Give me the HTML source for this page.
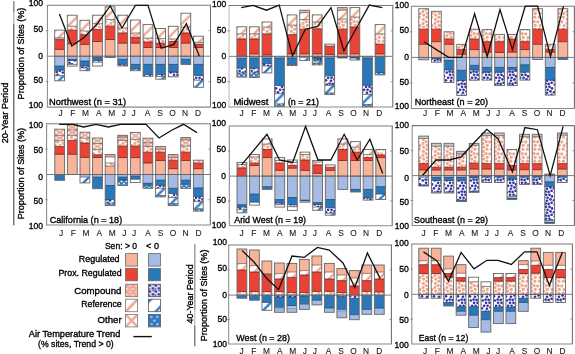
<!DOCTYPE html>
<html><head><meta charset="utf-8"><style>
html,body{margin:0;padding:0;background:#fff;}
svg{display:block;font-family:"Liberation Sans", sans-serif;will-change:transform;}
.t{fill:#000;stroke:#000;stroke-width:0.35px;}
.m{fill:#1a1a1a;stroke:#1a1a1a;stroke-width:0.1px;}
</style></head><body>
<svg width="575" height="354" viewBox="0 0 575 354">
<rect width="575" height="354" fill="#fff"/>

<defs>
 <pattern id="pC" patternUnits="userSpaceOnUse" width="12" height="12">
  <rect width="12" height="12" fill="#fff"/>
  <g fill="#eca691"><circle cx="6.86" cy="5.15" r="1.6"/><circle cx="9.76" cy="9.88" r="1.6"/><circle cx="3.00" cy="-0.57" r="1.6"/><circle cx="3.00" cy="11.43" r="1.6"/><circle cx="0.05" cy="1.61" r="1.6"/><circle cx="12.05" cy="1.61" r="1.6"/><circle cx="7.22" cy="1.35" r="1.6"/><circle cx="7.22" cy="13.35" r="1.6"/><circle cx="-0.63" cy="5.20" r="1.6"/><circle cx="11.37" cy="5.20" r="1.6"/><circle cx="3.30" cy="7.41" r="1.6"/><circle cx="3.67" cy="3.12" r="1.6"/><circle cx="6.17" cy="9.59" r="1.6"/></g>
 </pattern>
 <pattern id="pF" patternUnits="userSpaceOnUse" width="10" height="10">
  <rect width="10" height="10" fill="#fff"/>
  <path d="M-2,12 L12,-2 M-2,2 L2,-2 M8,12 L12,8" stroke="#efa893" stroke-width="2.8"/>
 </pattern>
 <pattern id="pO" patternUnits="userSpaceOnUse" width="10" height="10">
  <rect width="10" height="10" fill="#fff"/>
  <path d="M0,0 L10,10 M10,0 L0,10" stroke="#eea48e" stroke-width="2"/>
 </pattern>
 <pattern id="nC" patternUnits="userSpaceOnUse" width="12" height="12">
  <rect width="12" height="12" fill="#fff"/>
  <g fill="#3535a0"><circle cx="1.98" cy="8.28" r="1.35"/><circle cx="7.62" cy="5.75" r="1.35"/><circle cx="6.06" cy="2.83" r="1.35"/><circle cx="0.04" cy="4.45" r="1.35"/><circle cx="12.04" cy="4.45" r="1.35"/><circle cx="9.53" cy="2.79" r="1.35"/><circle cx="2.79" cy="0.51" r="1.35"/><circle cx="2.79" cy="12.51" r="1.35"/><circle cx="10.50" cy="7.39" r="1.35"/><circle cx="4.12" cy="5.82" r="1.35"/><circle cx="-0.37" cy="-1.27" r="1.35"/><circle cx="-0.37" cy="10.73" r="1.35"/><circle cx="11.63" cy="-1.27" r="1.35"/><circle cx="11.63" cy="10.73" r="1.35"/><circle cx="6.97" cy="8.76" r="1.35"/><circle cx="8.62" cy="-0.09" r="1.35"/><circle cx="8.62" cy="11.91" r="1.35"/><circle cx="5.64" cy="-0.48" r="1.35"/><circle cx="5.64" cy="11.52" r="1.35"/></g>
 </pattern>
 <pattern id="nF" patternUnits="userSpaceOnUse" width="10" height="10">
  <rect width="10" height="10" fill="#fff"/>
  <path d="M-2,12 L12,-2 M-2,2 L2,-2 M8,12 L12,8" stroke="#2f7cc0" stroke-width="2.8"/>
 </pattern>
 <pattern id="nO" patternUnits="userSpaceOnUse" width="5" height="4.5">
  <rect width="5" height="4.5" fill="#2f7cc0"/>
  <ellipse cx="1.5" cy="1.2" rx="1.3" ry="0.8" fill="#fff"/>
  <ellipse cx="4" cy="3.4" rx="1.3" ry="0.8" fill="#fff"/>
 </pattern>
 <pattern id="lC" patternUnits="userSpaceOnUse" x="125.6" y="284.2" width="6" height="6">
  <rect width="6" height="6" fill="#eea58f"/>
  <g fill="#fff"><circle cx="1.5" cy="4.6" r="0.9"/><circle cx="4.5" cy="1.8" r="0.9"/><circle cx="5.2" cy="5" r="0.6"/></g>
 </pattern>
 <pattern id="lN" patternUnits="userSpaceOnUse" x="148.4" y="284.2" width="6" height="6">
  <rect width="6" height="6" fill="#fff"/>
  <g fill="#34349e"><circle cx="1.5" cy="1.5" r="1.45"/><circle cx="4.5" cy="4.3" r="1.45"/><circle cx="4.8" cy="0.6" r="0.9"/><circle cx="1.2" cy="5" r="0.9"/></g>
 </pattern>
<pattern id="sp0" patternUnits="userSpaceOnUse" x="55.20" y="30.10" width="11.0" height="11.0"><rect width="11.0" height="11.0" fill="#fff"/><path d="M-2,13.0 L13.0,-2 M-2,2 L2,-2 M9.0,13.0 L13.0,9.0" stroke="#efa893" stroke-width="2.3"/></pattern>
<pattern id="sp1" patternUnits="userSpaceOnUse" x="52.70" y="75.70" width="11.0" height="11.0"><rect width="11.0" height="11.0" fill="#fff"/><path d="M-2,13.0 L13.0,-2 M-2,2 L2,-2 M9.0,13.0 L13.0,9.0" stroke="#2f7cc0" stroke-width="2.3"/></pattern>
<pattern id="sp2" patternUnits="userSpaceOnUse" x="67.83" y="15.20" width="11.0" height="11.0"><rect width="11.0" height="11.0" fill="#fff"/><path d="M-2,13.0 L13.0,-2 M-2,2 L2,-2 M9.0,13.0 L13.0,9.0" stroke="#efa893" stroke-width="2.3"/></pattern>
<pattern id="sp3" patternUnits="userSpaceOnUse" x="80.45" y="20.30" width="11.0" height="11.0"><rect width="11.0" height="11.0" fill="#fff"/><path d="M-2,13.0 L13.0,-2 M-2,2 L2,-2 M9.0,13.0 L13.0,9.0" stroke="#efa893" stroke-width="2.3"/></pattern>
<pattern id="sp4" patternUnits="userSpaceOnUse" x="77.95" y="68.00" width="11.0" height="11.0"><rect width="11.0" height="11.0" fill="#fff"/><path d="M-2,13.0 L13.0,-2 M-2,2 L2,-2 M9.0,13.0 L13.0,9.0" stroke="#2f7cc0" stroke-width="2.3"/></pattern>
<pattern id="sp5" patternUnits="userSpaceOnUse" x="93.08" y="15.20" width="11.0" height="11.0"><rect width="11.0" height="11.0" fill="#fff"/><path d="M-2,13.0 L13.0,-2 M-2,2 L2,-2 M9.0,13.0 L13.0,9.0" stroke="#efa893" stroke-width="2.3"/></pattern>
<pattern id="sp6" patternUnits="userSpaceOnUse" x="105.70" y="6.80" width="11.0" height="11.0"><rect width="11.0" height="11.0" fill="#fff"/><path d="M-2,13.0 L13.0,-2 M-2,2 L2,-2 M9.0,13.0 L13.0,9.0" stroke="#efa893" stroke-width="2.3"/></pattern>
<pattern id="sp7" patternUnits="userSpaceOnUse" x="118.32" y="15.20" width="11.0" height="11.0"><rect width="11.0" height="11.0" fill="#fff"/><path d="M-2,13.0 L13.0,-2 M-2,2 L2,-2 M9.0,13.0 L13.0,9.0" stroke="#efa893" stroke-width="2.3"/></pattern>
<pattern id="xo8" patternUnits="userSpaceOnUse" x="130.45" y="33.00" width="9.80" height="4.60"><rect width="9.80" height="4.60" fill="#fff"/><path d="M0,0 L9.80,4.60 M9.80,0 L0,4.60" stroke="#eca690" stroke-width="1.8"/></pattern>
<pattern id="sp9" patternUnits="userSpaceOnUse" x="130.95" y="20.00" width="11.0" height="11.0"><rect width="11.0" height="11.0" fill="#fff"/><path d="M-2,13.0 L13.0,-2 M-2,2 L2,-2 M9.0,13.0 L13.0,9.0" stroke="#efa893" stroke-width="2.3"/></pattern>
<pattern id="sp10" patternUnits="userSpaceOnUse" x="143.58" y="24.60" width="11.0" height="11.0"><rect width="11.0" height="11.0" fill="#fff"/><path d="M-2,13.0 L13.0,-2 M-2,2 L2,-2 M9.0,13.0 L13.0,9.0" stroke="#efa893" stroke-width="2.3"/></pattern>
<pattern id="sp11" patternUnits="userSpaceOnUse" x="156.20" y="28.50" width="11.0" height="11.0"><rect width="11.0" height="11.0" fill="#fff"/><path d="M-2,13.0 L13.0,-2 M-2,2 L2,-2 M9.0,13.0 L13.0,9.0" stroke="#efa893" stroke-width="2.3"/></pattern>
<pattern id="sp12" patternUnits="userSpaceOnUse" x="153.70" y="76.50" width="11.0" height="11.0"><rect width="11.0" height="11.0" fill="#fff"/><path d="M-2,13.0 L13.0,-2 M-2,2 L2,-2 M9.0,13.0 L13.0,9.0" stroke="#2f7cc0" stroke-width="2.3"/></pattern>
<pattern id="sp13" patternUnits="userSpaceOnUse" x="168.83" y="26.30" width="11.0" height="11.0"><rect width="11.0" height="11.0" fill="#fff"/><path d="M-2,13.0 L13.0,-2 M-2,2 L2,-2 M9.0,13.0 L13.0,9.0" stroke="#efa893" stroke-width="2.3"/></pattern>
<pattern id="sp14" patternUnits="userSpaceOnUse" x="181.45" y="13.20" width="11.0" height="11.0"><rect width="11.0" height="11.0" fill="#fff"/><path d="M-2,13.0 L13.0,-2 M-2,2 L2,-2 M9.0,13.0 L13.0,9.0" stroke="#efa893" stroke-width="2.3"/></pattern>
<pattern id="sp15" patternUnits="userSpaceOnUse" x="194.08" y="36.20" width="11.0" height="11.0"><rect width="11.0" height="11.0" fill="#fff"/><path d="M-2,13.0 L13.0,-2 M-2,2 L2,-2 M9.0,13.0 L13.0,9.0" stroke="#efa893" stroke-width="2.3"/></pattern>
<pattern id="sp16" patternUnits="userSpaceOnUse" x="191.58" y="80.20" width="11.0" height="11.0"><rect width="11.0" height="11.0" fill="#fff"/><path d="M-2,13.0 L13.0,-2 M-2,2 L2,-2 M9.0,13.0 L13.0,9.0" stroke="#2f7cc0" stroke-width="2.3"/></pattern>
<pattern id="sp17" patternUnits="userSpaceOnUse" x="237.40" y="26.80" width="11.0" height="11.0"><rect width="11.0" height="11.0" fill="#fff"/><path d="M-2,13.0 L13.0,-2 M-2,2 L2,-2 M9.0,13.0 L13.0,9.0" stroke="#efa893" stroke-width="2.3"/></pattern>
<pattern id="sp18" patternUnits="userSpaceOnUse" x="249.97" y="26.80" width="11.0" height="11.0"><rect width="11.0" height="11.0" fill="#fff"/><path d="M-2,13.0 L13.0,-2 M-2,2 L2,-2 M9.0,13.0 L13.0,9.0" stroke="#efa893" stroke-width="2.3"/></pattern>
<pattern id="sp19" patternUnits="userSpaceOnUse" x="262.53" y="22.00" width="11.0" height="11.0"><rect width="11.0" height="11.0" fill="#fff"/><path d="M-2,13.0 L13.0,-2 M-2,2 L2,-2 M9.0,13.0 L13.0,9.0" stroke="#efa893" stroke-width="2.3"/></pattern>
<pattern id="sp20" patternUnits="userSpaceOnUse" x="260.03" y="66.10" width="11.0" height="11.0"><rect width="11.0" height="11.0" fill="#fff"/><path d="M-2,13.0 L13.0,-2 M-2,2 L2,-2 M9.0,13.0 L13.0,9.0" stroke="#2f7cc0" stroke-width="2.3"/></pattern>
<pattern id="sp21" patternUnits="userSpaceOnUse" x="272.59" y="93.70" width="11.0" height="11.0"><rect width="11.0" height="11.0" fill="#fff"/><path d="M-2,13.0 L13.0,-2 M-2,2 L2,-2 M9.0,13.0 L13.0,9.0" stroke="#2f7cc0" stroke-width="2.3"/></pattern>
<pattern id="sp22" patternUnits="userSpaceOnUse" x="287.66" y="14.90" width="11.0" height="11.0"><rect width="11.0" height="11.0" fill="#fff"/><path d="M-2,13.0 L13.0,-2 M-2,2 L2,-2 M9.0,13.0 L13.0,9.0" stroke="#efa893" stroke-width="2.3"/></pattern>
<pattern id="sp23" patternUnits="userSpaceOnUse" x="300.22" y="12.70" width="11.0" height="11.0"><rect width="11.0" height="11.0" fill="#fff"/><path d="M-2,13.0 L13.0,-2 M-2,2 L2,-2 M9.0,13.0 L13.0,9.0" stroke="#efa893" stroke-width="2.3"/></pattern>
<pattern id="xo24" patternUnits="userSpaceOnUse" x="299.72" y="10.20" width="9.80" height="2.50"><rect width="9.80" height="2.50" fill="#fff"/><path d="M0,0 L9.80,2.50 M9.80,0 L0,2.50" stroke="#eca690" stroke-width="1.8"/></pattern>
<pattern id="sp25" patternUnits="userSpaceOnUse" x="297.72" y="57.50" width="11.0" height="11.0"><rect width="11.0" height="11.0" fill="#fff"/><path d="M-2,13.0 L13.0,-2 M-2,2 L2,-2 M9.0,13.0 L13.0,9.0" stroke="#2f7cc0" stroke-width="2.3"/></pattern>
<pattern id="sp26" patternUnits="userSpaceOnUse" x="312.79" y="14.90" width="11.0" height="11.0"><rect width="11.0" height="11.0" fill="#fff"/><path d="M-2,13.0 L13.0,-2 M-2,2 L2,-2 M9.0,13.0 L13.0,9.0" stroke="#efa893" stroke-width="2.3"/></pattern>
<pattern id="sp27" patternUnits="userSpaceOnUse" x="310.29" y="61.10" width="11.0" height="11.0"><rect width="11.0" height="11.0" fill="#fff"/><path d="M-2,13.0 L13.0,-2 M-2,2 L2,-2 M9.0,13.0 L13.0,9.0" stroke="#2f7cc0" stroke-width="2.3"/></pattern>
<pattern id="sp28" patternUnits="userSpaceOnUse" x="325.35" y="44.10" width="11.0" height="11.0"><rect width="11.0" height="11.0" fill="#fff"/><path d="M-2,13.0 L13.0,-2 M-2,2 L2,-2 M9.0,13.0 L13.0,9.0" stroke="#efa893" stroke-width="2.3"/></pattern>
<pattern id="sp29" patternUnits="userSpaceOnUse" x="322.85" y="85.40" width="11.0" height="11.0"><rect width="11.0" height="11.0" fill="#fff"/><path d="M-2,13.0 L13.0,-2 M-2,2 L2,-2 M9.0,13.0 L13.0,9.0" stroke="#2f7cc0" stroke-width="2.3"/></pattern>
<pattern id="sp30" patternUnits="userSpaceOnUse" x="337.92" y="10.20" width="11.0" height="11.0"><rect width="11.0" height="11.0" fill="#fff"/><path d="M-2,13.0 L13.0,-2 M-2,2 L2,-2 M9.0,13.0 L13.0,9.0" stroke="#efa893" stroke-width="2.3"/></pattern>
<pattern id="xo31" patternUnits="userSpaceOnUse" x="337.42" y="7.60" width="9.80" height="2.60"><rect width="9.80" height="2.60" fill="#fff"/><path d="M0,0 L9.80,2.60 M9.80,0 L0,2.60" stroke="#eca690" stroke-width="1.8"/></pattern>
<pattern id="sp32" patternUnits="userSpaceOnUse" x="350.48" y="7.60" width="11.0" height="11.0"><rect width="11.0" height="11.0" fill="#fff"/><path d="M-2,13.0 L13.0,-2 M-2,2 L2,-2 M9.0,13.0 L13.0,9.0" stroke="#efa893" stroke-width="2.3"/></pattern>
<pattern id="sp33" patternUnits="userSpaceOnUse" x="347.98" y="58.00" width="11.0" height="11.0"><rect width="11.0" height="11.0" fill="#fff"/><path d="M-2,13.0 L13.0,-2 M-2,2 L2,-2 M9.0,13.0 L13.0,9.0" stroke="#2f7cc0" stroke-width="2.3"/></pattern>
<pattern id="sp34" patternUnits="userSpaceOnUse" x="360.55" y="94.40" width="11.0" height="11.0"><rect width="11.0" height="11.0" fill="#fff"/><path d="M-2,13.0 L13.0,-2 M-2,2 L2,-2 M9.0,13.0 L13.0,9.0" stroke="#2f7cc0" stroke-width="2.3"/></pattern>
<pattern id="sp35" patternUnits="userSpaceOnUse" x="375.62" y="24.60" width="11.0" height="11.0"><rect width="11.0" height="11.0" fill="#fff"/><path d="M-2,13.0 L13.0,-2 M-2,2 L2,-2 M9.0,13.0 L13.0,9.0" stroke="#efa893" stroke-width="2.3"/></pattern>
<pattern id="xo36" patternUnits="userSpaceOnUse" x="54.80" y="135.40" width="9.80" height="5.40"><rect width="9.80" height="5.40" fill="#fff"/><path d="M0,0 L9.80,5.40 M9.80,0 L0,5.40" stroke="#eca690" stroke-width="1.8"/></pattern>
<pattern id="xo37" patternUnits="userSpaceOnUse" x="54.80" y="129.20" width="9.80" height="6.20"><rect width="9.80" height="6.20" fill="#fff"/><path d="M0,0 L9.80,6.20 M9.80,0 L0,6.20" stroke="#eca690" stroke-width="1.8"/></pattern>
<pattern id="xo38" patternUnits="userSpaceOnUse" x="67.40" y="130.00" width="9.80" height="5.40"><rect width="9.80" height="5.40" fill="#fff"/><path d="M0,0 L9.80,5.40 M9.80,0 L0,5.40" stroke="#eca690" stroke-width="1.8"/></pattern>
<pattern id="xo39" patternUnits="userSpaceOnUse" x="67.40" y="124.80" width="9.80" height="5.20"><rect width="9.80" height="5.20" fill="#fff"/><path d="M0,0 L9.80,5.20 M9.80,0 L0,5.20" stroke="#eca690" stroke-width="1.8"/></pattern>
<pattern id="xo40" patternUnits="userSpaceOnUse" x="80.00" y="132.20" width="9.80" height="5.90"><rect width="9.80" height="5.90" fill="#fff"/><path d="M0,0 L9.80,5.90 M9.80,0 L0,5.90" stroke="#eca690" stroke-width="1.8"/></pattern>
<pattern id="sp41" patternUnits="userSpaceOnUse" x="78.00" y="177.10" width="11.0" height="11.0"><rect width="11.0" height="11.0" fill="#fff"/><path d="M-2,13.0 L13.0,-2 M-2,2 L2,-2 M9.0,13.0 L13.0,9.0" stroke="#2f7cc0" stroke-width="2.3"/></pattern>
<pattern id="xo42" patternUnits="userSpaceOnUse" x="92.60" y="143.50" width="9.80" height="5.90"><rect width="9.80" height="5.90" fill="#fff"/><path d="M0,0 L9.80,5.90 M9.80,0 L0,5.90" stroke="#eca690" stroke-width="1.8"/></pattern>
<pattern id="xo43" patternUnits="userSpaceOnUse" x="92.60" y="138.00" width="9.80" height="5.50"><rect width="9.80" height="5.50" fill="#fff"/><path d="M0,0 L9.80,5.50 M9.80,0 L0,5.50" stroke="#eca690" stroke-width="1.8"/></pattern>
<pattern id="xo44" patternUnits="userSpaceOnUse" x="105.20" y="154.60" width="9.80" height="2.40"><rect width="9.80" height="2.40" fill="#fff"/><path d="M0,0 L9.80,2.40 M9.80,0 L0,2.40" stroke="#eca690" stroke-width="1.8"/></pattern>
<pattern id="xo45" patternUnits="userSpaceOnUse" x="117.80" y="137.00" width="9.80" height="3.40"><rect width="9.80" height="3.40" fill="#fff"/><path d="M0,0 L9.80,3.40 M9.80,0 L0,3.40" stroke="#eca690" stroke-width="1.8"/></pattern>
<pattern id="xo46" patternUnits="userSpaceOnUse" x="117.80" y="135.30" width="9.80" height="1.70"><rect width="9.80" height="1.70" fill="#fff"/><path d="M0,0 L9.80,1.70 M9.80,0 L0,1.70" stroke="#eca690" stroke-width="1.8"/></pattern>
<pattern id="xo47" patternUnits="userSpaceOnUse" x="130.40" y="132.40" width="9.80" height="6.90"><rect width="9.80" height="6.90" fill="#fff"/><path d="M0,0 L9.80,6.90 M9.80,0 L0,6.90" stroke="#eca690" stroke-width="1.8"/></pattern>
<pattern id="xo48" patternUnits="userSpaceOnUse" x="143.00" y="142.70" width="9.80" height="3.70"><rect width="9.80" height="3.70" fill="#fff"/><path d="M0,0 L9.80,3.70 M9.80,0 L0,3.70" stroke="#eca690" stroke-width="1.8"/></pattern>
<pattern id="xo49" patternUnits="userSpaceOnUse" x="143.00" y="138.20" width="9.80" height="4.50"><rect width="9.80" height="4.50" fill="#fff"/><path d="M0,0 L9.80,4.50 M9.80,0 L0,4.50" stroke="#eca690" stroke-width="1.8"/></pattern>
<pattern id="xo50" patternUnits="userSpaceOnUse" x="155.60" y="146.50" width="9.80" height="2.70"><rect width="9.80" height="2.70" fill="#fff"/><path d="M0,0 L9.80,2.70 M9.80,0 L0,2.70" stroke="#eca690" stroke-width="1.8"/></pattern>
<pattern id="sp51" patternUnits="userSpaceOnUse" x="153.60" y="188.30" width="11.0" height="11.0"><rect width="11.0" height="11.0" fill="#fff"/><path d="M-2,13.0 L13.0,-2 M-2,2 L2,-2 M9.0,13.0 L13.0,9.0" stroke="#2f7cc0" stroke-width="2.3"/></pattern>
<pattern id="xo52" patternUnits="userSpaceOnUse" x="168.20" y="154.60" width="9.80" height="2.80"><rect width="9.80" height="2.80" fill="#fff"/><path d="M0,0 L9.80,2.80 M9.80,0 L0,2.80" stroke="#eca690" stroke-width="1.8"/></pattern>
<pattern id="sp53" patternUnits="userSpaceOnUse" x="166.20" y="197.50" width="11.0" height="11.0"><rect width="11.0" height="11.0" fill="#fff"/><path d="M-2,13.0 L13.0,-2 M-2,2 L2,-2 M9.0,13.0 L13.0,9.0" stroke="#2f7cc0" stroke-width="2.3"/></pattern>
<pattern id="xo54" patternUnits="userSpaceOnUse" x="180.80" y="139.90" width="9.80" height="6.20"><rect width="9.80" height="6.20" fill="#fff"/><path d="M0,0 L9.80,6.20 M9.80,0 L0,6.20" stroke="#eca690" stroke-width="1.8"/></pattern>
<pattern id="xo55" patternUnits="userSpaceOnUse" x="180.80" y="137.60" width="9.80" height="2.30"><rect width="9.80" height="2.30" fill="#fff"/><path d="M0,0 L9.80,2.30 M9.80,0 L0,2.30" stroke="#eca690" stroke-width="1.8"/></pattern>
<pattern id="sp56" patternUnits="userSpaceOnUse" x="191.40" y="201.60" width="11.0" height="11.0"><rect width="11.0" height="11.0" fill="#fff"/><path d="M-2,13.0 L13.0,-2 M-2,2 L2,-2 M9.0,13.0 L13.0,9.0" stroke="#2f7cc0" stroke-width="2.3"/></pattern>
<pattern id="sp57" patternUnits="userSpaceOnUse" x="237.50" y="162.40" width="11.0" height="11.0"><rect width="11.0" height="11.0" fill="#fff"/><path d="M-2,13.0 L13.0,-2 M-2,2 L2,-2 M9.0,13.0 L13.0,9.0" stroke="#efa893" stroke-width="2.3"/></pattern>
<pattern id="sp58" patternUnits="userSpaceOnUse" x="235.00" y="209.70" width="11.0" height="11.0"><rect width="11.0" height="11.0" fill="#fff"/><path d="M-2,13.0 L13.0,-2 M-2,2 L2,-2 M9.0,13.0 L13.0,9.0" stroke="#2f7cc0" stroke-width="2.3"/></pattern>
<pattern id="sp59" patternUnits="userSpaceOnUse" x="250.12" y="154.50" width="11.0" height="11.0"><rect width="11.0" height="11.0" fill="#fff"/><path d="M-2,13.0 L13.0,-2 M-2,2 L2,-2 M9.0,13.0 L13.0,9.0" stroke="#efa893" stroke-width="2.3"/></pattern>
<pattern id="sp60" patternUnits="userSpaceOnUse" x="262.74" y="138.90" width="11.0" height="11.0"><rect width="11.0" height="11.0" fill="#fff"/><path d="M-2,13.0 L13.0,-2 M-2,2 L2,-2 M9.0,13.0 L13.0,9.0" stroke="#efa893" stroke-width="2.3"/></pattern>
<pattern id="sp61" patternUnits="userSpaceOnUse" x="275.36" y="157.60" width="11.0" height="11.0"><rect width="11.0" height="11.0" fill="#fff"/><path d="M-2,13.0 L13.0,-2 M-2,2 L2,-2 M9.0,13.0 L13.0,9.0" stroke="#efa893" stroke-width="2.3"/></pattern>
<pattern id="sp62" patternUnits="userSpaceOnUse" x="287.98" y="160.00" width="11.0" height="11.0"><rect width="11.0" height="11.0" fill="#fff"/><path d="M-2,13.0 L13.0,-2 M-2,2 L2,-2 M9.0,13.0 L13.0,9.0" stroke="#efa893" stroke-width="2.3"/></pattern>
<pattern id="sp63" patternUnits="userSpaceOnUse" x="300.60" y="152.10" width="11.0" height="11.0"><rect width="11.0" height="11.0" fill="#fff"/><path d="M-2,13.0 L13.0,-2 M-2,2 L2,-2 M9.0,13.0 L13.0,9.0" stroke="#efa893" stroke-width="2.3"/></pattern>
<pattern id="sp64" patternUnits="userSpaceOnUse" x="313.22" y="160.50" width="11.0" height="11.0"><rect width="11.0" height="11.0" fill="#fff"/><path d="M-2,13.0 L13.0,-2 M-2,2 L2,-2 M9.0,13.0 L13.0,9.0" stroke="#efa893" stroke-width="2.3"/></pattern>
<pattern id="sp65" patternUnits="userSpaceOnUse" x="310.72" y="207.00" width="11.0" height="11.0"><rect width="11.0" height="11.0" fill="#fff"/><path d="M-2,13.0 L13.0,-2 M-2,2 L2,-2 M9.0,13.0 L13.0,9.0" stroke="#2f7cc0" stroke-width="2.3"/></pattern>
<pattern id="sp66" patternUnits="userSpaceOnUse" x="325.84" y="164.90" width="11.0" height="11.0"><rect width="11.0" height="11.0" fill="#fff"/><path d="M-2,13.0 L13.0,-2 M-2,2 L2,-2 M9.0,13.0 L13.0,9.0" stroke="#efa893" stroke-width="2.3"/></pattern>
<pattern id="sp67" patternUnits="userSpaceOnUse" x="323.34" y="213.20" width="11.0" height="11.0"><rect width="11.0" height="11.0" fill="#fff"/><path d="M-2,13.0 L13.0,-2 M-2,2 L2,-2 M9.0,13.0 L13.0,9.0" stroke="#2f7cc0" stroke-width="2.3"/></pattern>
<pattern id="sp68" patternUnits="userSpaceOnUse" x="338.46" y="138.90" width="11.0" height="11.0"><rect width="11.0" height="11.0" fill="#fff"/><path d="M-2,13.0 L13.0,-2 M-2,2 L2,-2 M9.0,13.0 L13.0,9.0" stroke="#efa893" stroke-width="2.3"/></pattern>
<pattern id="sp69" patternUnits="userSpaceOnUse" x="351.08" y="141.60" width="11.0" height="11.0"><rect width="11.0" height="11.0" fill="#fff"/><path d="M-2,13.0 L13.0,-2 M-2,2 L2,-2 M9.0,13.0 L13.0,9.0" stroke="#efa893" stroke-width="2.3"/></pattern>
<pattern id="sp70" patternUnits="userSpaceOnUse" x="363.70" y="149.50" width="11.0" height="11.0"><rect width="11.0" height="11.0" fill="#fff"/><path d="M-2,13.0 L13.0,-2 M-2,2 L2,-2 M9.0,13.0 L13.0,9.0" stroke="#efa893" stroke-width="2.3"/></pattern>
<pattern id="sp71" patternUnits="userSpaceOnUse" x="373.82" y="194.00" width="11.0" height="11.0"><rect width="11.0" height="11.0" fill="#fff"/><path d="M-2,13.0 L13.0,-2 M-2,2 L2,-2 M9.0,13.0 L13.0,9.0" stroke="#2f7cc0" stroke-width="2.3"/></pattern>
<pattern id="sp72" patternUnits="userSpaceOnUse" x="237.50" y="263.60" width="11.0" height="11.0"><rect width="11.0" height="11.0" fill="#fff"/><path d="M-2,13.0 L13.0,-2 M-2,2 L2,-2 M9.0,13.0 L13.0,9.0" stroke="#efa893" stroke-width="2.3"/></pattern>
<pattern id="sp73" patternUnits="userSpaceOnUse" x="249.99" y="265.60" width="11.0" height="11.0"><rect width="11.0" height="11.0" fill="#fff"/><path d="M-2,13.0 L13.0,-2 M-2,2 L2,-2 M9.0,13.0 L13.0,9.0" stroke="#efa893" stroke-width="2.3"/></pattern>
<pattern id="sp74" patternUnits="userSpaceOnUse" x="262.48" y="273.60" width="11.0" height="11.0"><rect width="11.0" height="11.0" fill="#fff"/><path d="M-2,13.0 L13.0,-2 M-2,2 L2,-2 M9.0,13.0 L13.0,9.0" stroke="#efa893" stroke-width="2.3"/></pattern>
<pattern id="sp75" patternUnits="userSpaceOnUse" x="259.98" y="302.50" width="11.0" height="11.0"><rect width="11.0" height="11.0" fill="#fff"/><path d="M-2,13.0 L13.0,-2 M-2,2 L2,-2 M9.0,13.0 L13.0,9.0" stroke="#2f7cc0" stroke-width="2.3"/></pattern>
<pattern id="sp76" patternUnits="userSpaceOnUse" x="274.97" y="273.60" width="11.0" height="11.0"><rect width="11.0" height="11.0" fill="#fff"/><path d="M-2,13.0 L13.0,-2 M-2,2 L2,-2 M9.0,13.0 L13.0,9.0" stroke="#efa893" stroke-width="2.3"/></pattern>
<pattern id="sp77" patternUnits="userSpaceOnUse" x="287.46" y="272.00" width="11.0" height="11.0"><rect width="11.0" height="11.0" fill="#fff"/><path d="M-2,13.0 L13.0,-2 M-2,2 L2,-2 M9.0,13.0 L13.0,9.0" stroke="#efa893" stroke-width="2.3"/></pattern>
<pattern id="sp78" patternUnits="userSpaceOnUse" x="299.95" y="270.60" width="11.0" height="11.0"><rect width="11.0" height="11.0" fill="#fff"/><path d="M-2,13.0 L13.0,-2 M-2,2 L2,-2 M9.0,13.0 L13.0,9.0" stroke="#efa893" stroke-width="2.3"/></pattern>
<pattern id="sp79" patternUnits="userSpaceOnUse" x="312.44" y="265.00" width="11.0" height="11.0"><rect width="11.0" height="11.0" fill="#fff"/><path d="M-2,13.0 L13.0,-2 M-2,2 L2,-2 M9.0,13.0 L13.0,9.0" stroke="#efa893" stroke-width="2.3"/></pattern>
<pattern id="sp80" patternUnits="userSpaceOnUse" x="324.93" y="272.00" width="11.0" height="11.0"><rect width="11.0" height="11.0" fill="#fff"/><path d="M-2,13.0 L13.0,-2 M-2,2 L2,-2 M9.0,13.0 L13.0,9.0" stroke="#efa893" stroke-width="2.3"/></pattern>
<pattern id="sp81" patternUnits="userSpaceOnUse" x="337.42" y="275.00" width="11.0" height="11.0"><rect width="11.0" height="11.0" fill="#fff"/><path d="M-2,13.0 L13.0,-2 M-2,2 L2,-2 M9.0,13.0 L13.0,9.0" stroke="#efa893" stroke-width="2.3"/></pattern>
<pattern id="sp82" patternUnits="userSpaceOnUse" x="349.91" y="278.00" width="11.0" height="11.0"><rect width="11.0" height="11.0" fill="#fff"/><path d="M-2,13.0 L13.0,-2 M-2,2 L2,-2 M9.0,13.0 L13.0,9.0" stroke="#efa893" stroke-width="2.3"/></pattern>
<pattern id="sp83" patternUnits="userSpaceOnUse" x="362.40" y="273.40" width="11.0" height="11.0"><rect width="11.0" height="11.0" fill="#fff"/><path d="M-2,13.0 L13.0,-2 M-2,2 L2,-2 M9.0,13.0 L13.0,9.0" stroke="#efa893" stroke-width="2.3"/></pattern>
<pattern id="sp84" patternUnits="userSpaceOnUse" x="374.89" y="272.00" width="11.0" height="11.0"><rect width="11.0" height="11.0" fill="#fff"/><path d="M-2,13.0 L13.0,-2 M-2,2 L2,-2 M9.0,13.0 L13.0,9.0" stroke="#efa893" stroke-width="2.3"/></pattern>
<pattern id="sp85" patternUnits="userSpaceOnUse" x="419.30" y="260.70" width="11.0" height="11.0"><rect width="11.0" height="11.0" fill="#fff"/><path d="M-2,13.0 L13.0,-2 M-2,2 L2,-2 M9.0,13.0 L13.0,9.0" stroke="#efa893" stroke-width="2.3"/></pattern>
<pattern id="sp86" patternUnits="userSpaceOnUse" x="431.75" y="260.70" width="11.0" height="11.0"><rect width="11.0" height="11.0" fill="#fff"/><path d="M-2,13.0 L13.0,-2 M-2,2 L2,-2 M9.0,13.0 L13.0,9.0" stroke="#efa893" stroke-width="2.3"/></pattern>
<pattern id="sp87" patternUnits="userSpaceOnUse" x="444.20" y="268.90" width="11.0" height="11.0"><rect width="11.0" height="11.0" fill="#fff"/><path d="M-2,13.0 L13.0,-2 M-2,2 L2,-2 M9.0,13.0 L13.0,9.0" stroke="#efa893" stroke-width="2.3"/></pattern>
<pattern id="sp88" patternUnits="userSpaceOnUse" x="494.00" y="273.50" width="11.0" height="11.0"><rect width="11.0" height="11.0" fill="#fff"/><path d="M-2,13.0 L13.0,-2 M-2,2 L2,-2 M9.0,13.0 L13.0,9.0" stroke="#efa893" stroke-width="2.3"/></pattern>
<pattern id="sp89" patternUnits="userSpaceOnUse" x="506.45" y="273.50" width="11.0" height="11.0"><rect width="11.0" height="11.0" fill="#fff"/><path d="M-2,13.0 L13.0,-2 M-2,2 L2,-2 M9.0,13.0 L13.0,9.0" stroke="#efa893" stroke-width="2.3"/></pattern>
<pattern id="sp90" patternUnits="userSpaceOnUse" x="531.35" y="261.00" width="11.0" height="11.0"><rect width="11.0" height="11.0" fill="#fff"/><path d="M-2,13.0 L13.0,-2 M-2,2 L2,-2 M9.0,13.0 L13.0,9.0" stroke="#efa893" stroke-width="2.3"/></pattern>
</defs>

<line x1="47.4" y1="5.3" x2="47.4" y2="107.1" stroke="#8a8a8a" stroke-width="1.05"/>
<line x1="210.5" y1="5.3" x2="210.5" y2="107.1" stroke="#6a6a6a" stroke-width="1.05"/>
<line x1="46.9" y1="5.3" x2="211" y2="5.3" stroke="#7a7a7a" stroke-width="1.05"/>
<line x1="46.9" y1="107.1" x2="211" y2="107.1" stroke="#8a8a8a" stroke-width="1.05"/>
<line x1="47.4" y1="56.2" x2="210.5" y2="56.2" stroke="#7d7d7d" stroke-width="1"/>
<line x1="45.9" y1="30.75" x2="48.4" y2="30.75" stroke="#7d7d7d" stroke-width="0.8"/>
<line x1="208.5" y1="30.75" x2="210.5" y2="30.75" stroke="#7d7d7d" stroke-width="0.8"/>
<line x1="45.9" y1="81.65" x2="48.4" y2="81.65" stroke="#7d7d7d" stroke-width="0.8"/>
<line x1="208.5" y1="81.65" x2="210.5" y2="81.65" stroke="#7d7d7d" stroke-width="0.8"/>
<rect x="54.7" y="49.4" width="9.8" height="6.8" fill="#f8b39b"/>
<rect x="54.7" y="39.6" width="9.8" height="9.8" fill="#eb4236"/>
<rect x="54.7" y="37.8" width="9.8" height="1.8" fill="#c9c9c9"/>
<rect x="54.7" y="30.1" width="9.8" height="7.7" fill="url(#sp0)"/>
<rect x="54.7" y="56.2" width="9.8" height="9.9" fill="#a6bbe3"/>
<rect x="54.7" y="66.1" width="9.8" height="4.2" fill="#2a78ba"/>
<rect x="54.7" y="70.3" width="9.8" height="5.4" fill="url(#nC)"/>
<rect x="54.7" y="75.7" width="9.8" height="5.1" fill="url(#sp1)"/>
<line x1="54.7" y1="49.4" x2="64.5" y2="49.4" stroke="#6a1a14" stroke-width="0.75"/>
<line x1="54.7" y1="39.6" x2="64.5" y2="39.6" stroke="#6a1a14" stroke-width="0.75"/>
<line x1="54.7" y1="37.8" x2="64.5" y2="37.8" stroke="#606060" stroke-width="0.75"/>
<line x1="54.7" y1="66.1" x2="64.5" y2="66.1" stroke="#1d3f66" stroke-width="0.75"/>
<line x1="54.7" y1="70.3" x2="64.5" y2="70.3" stroke="#1d3f66" stroke-width="0.75"/>
<line x1="54.7" y1="75.7" x2="64.5" y2="75.7" stroke="#555" stroke-width="0.75"/>
<rect x="54.7" y="30.1" width="9.8" height="26.1" fill="none" stroke="#666" stroke-width="0.9"/>
<rect x="54.7" y="56.2" width="9.8" height="24.6" fill="none" stroke="#666" stroke-width="0.9"/>
<rect x="67.33" y="43.7" width="9.8" height="12.5" fill="#f8b39b"/>
<rect x="67.33" y="30.1" width="9.8" height="13.6" fill="#eb4236"/>
<rect x="67.33" y="26.2" width="9.8" height="3.9" fill="url(#pC)"/>
<rect x="67.33" y="15.2" width="9.8" height="11" fill="url(#sp2)"/>
<rect x="67.33" y="56.2" width="9.8" height="3.1" fill="#a6bbe3"/>
<rect x="67.33" y="59.3" width="9.8" height="1.2" fill="#2a78ba"/>
<rect x="67.33" y="60.5" width="9.8" height="3.9" fill="url(#nC)"/>
<rect x="67.33" y="64.4" width="9.8" height="1.7" fill="#ffffff"/>
<line x1="67.33" y1="43.7" x2="77.12" y2="43.7" stroke="#6a1a14" stroke-width="0.75"/>
<line x1="67.33" y1="30.1" x2="77.12" y2="30.1" stroke="#6a1a14" stroke-width="0.75"/>
<line x1="67.33" y1="26.2" x2="77.12" y2="26.2" stroke="#606060" stroke-width="0.75"/>
<line x1="67.33" y1="59.3" x2="77.12" y2="59.3" stroke="#1d3f66" stroke-width="0.75"/>
<line x1="67.33" y1="60.5" x2="77.12" y2="60.5" stroke="#1d3f66" stroke-width="0.75"/>
<line x1="67.33" y1="64.4" x2="77.12" y2="64.4" stroke="#555" stroke-width="0.75"/>
<rect x="67.33" y="15.2" width="9.8" height="41" fill="none" stroke="#666" stroke-width="0.9"/>
<rect x="67.33" y="56.2" width="9.8" height="9.9" fill="none" stroke="#666" stroke-width="0.9"/>
<rect x="79.95" y="44.4" width="9.8" height="11.8" fill="#f8b39b"/>
<rect x="79.95" y="34.7" width="9.8" height="9.7" fill="#eb4236"/>
<rect x="79.95" y="31" width="9.8" height="3.7" fill="url(#pC)"/>
<rect x="79.95" y="20.3" width="9.8" height="10.7" fill="url(#sp3)"/>
<rect x="79.95" y="56.2" width="9.8" height="4.8" fill="#a6bbe3"/>
<rect x="79.95" y="61" width="9.8" height="5.1" fill="#2a78ba"/>
<rect x="79.95" y="66.1" width="9.8" height="1.9" fill="url(#nC)"/>
<rect x="79.95" y="68" width="9.8" height="2.7" fill="url(#sp4)"/>
<line x1="79.95" y1="44.4" x2="89.75" y2="44.4" stroke="#6a1a14" stroke-width="0.75"/>
<line x1="79.95" y1="34.7" x2="89.75" y2="34.7" stroke="#6a1a14" stroke-width="0.75"/>
<line x1="79.95" y1="31" x2="89.75" y2="31" stroke="#606060" stroke-width="0.75"/>
<line x1="79.95" y1="61" x2="89.75" y2="61" stroke="#1d3f66" stroke-width="0.75"/>
<line x1="79.95" y1="66.1" x2="89.75" y2="66.1" stroke="#1d3f66" stroke-width="0.75"/>
<line x1="79.95" y1="68" x2="89.75" y2="68" stroke="#555" stroke-width="0.75"/>
<rect x="79.95" y="20.3" width="9.8" height="35.9" fill="none" stroke="#666" stroke-width="0.9"/>
<rect x="79.95" y="56.2" width="9.8" height="14.5" fill="none" stroke="#666" stroke-width="0.9"/>
<rect x="92.58" y="41.5" width="9.8" height="14.7" fill="#f8b39b"/>
<rect x="92.58" y="29.6" width="9.8" height="11.9" fill="#eb4236"/>
<rect x="92.58" y="23.7" width="9.8" height="5.9" fill="url(#pC)"/>
<rect x="92.58" y="15.2" width="9.8" height="8.5" fill="url(#sp5)"/>
<rect x="92.58" y="56.2" width="9.8" height="1.4" fill="#a6bbe3"/>
<rect x="92.58" y="57.6" width="9.8" height="2.9" fill="#2a78ba"/>
<rect x="92.58" y="60.5" width="9.8" height="1.7" fill="url(#nC)"/>
<rect x="92.58" y="62.2" width="9.8" height="3.8" fill="#ffffff"/>
<line x1="92.58" y1="41.5" x2="102.38" y2="41.5" stroke="#6a1a14" stroke-width="0.75"/>
<line x1="92.58" y1="29.6" x2="102.38" y2="29.6" stroke="#6a1a14" stroke-width="0.75"/>
<line x1="92.58" y1="23.7" x2="102.38" y2="23.7" stroke="#606060" stroke-width="0.75"/>
<line x1="92.58" y1="57.6" x2="102.38" y2="57.6" stroke="#1d3f66" stroke-width="0.75"/>
<line x1="92.58" y1="60.5" x2="102.38" y2="60.5" stroke="#1d3f66" stroke-width="0.75"/>
<line x1="92.58" y1="62.2" x2="102.38" y2="62.2" stroke="#555" stroke-width="0.75"/>
<rect x="92.58" y="15.2" width="9.8" height="41" fill="none" stroke="#666" stroke-width="0.9"/>
<rect x="92.58" y="56.2" width="9.8" height="9.8" fill="none" stroke="#666" stroke-width="0.9"/>
<rect x="105.2" y="39.5" width="9.8" height="16.7" fill="#f8b39b"/>
<rect x="105.2" y="26.2" width="9.8" height="13.3" fill="#eb4236"/>
<rect x="105.2" y="19.5" width="9.8" height="6.7" fill="url(#pC)"/>
<rect x="105.2" y="6.8" width="9.8" height="12.7" fill="url(#sp6)"/>
<rect x="105.2" y="56.2" width="9.8" height="1.4" fill="#2a78ba"/>
<line x1="105.2" y1="39.5" x2="115" y2="39.5" stroke="#6a1a14" stroke-width="0.75"/>
<line x1="105.2" y1="26.2" x2="115" y2="26.2" stroke="#6a1a14" stroke-width="0.75"/>
<line x1="105.2" y1="19.5" x2="115" y2="19.5" stroke="#606060" stroke-width="0.75"/>
<rect x="105.2" y="6.8" width="9.8" height="49.4" fill="none" stroke="#666" stroke-width="0.9"/>
<rect x="105.2" y="56.2" width="9.8" height="1.4" fill="none" stroke="#666" stroke-width="0.9"/>
<rect x="117.83" y="43.2" width="9.8" height="13" fill="#f8b39b"/>
<rect x="117.83" y="33" width="9.8" height="10.2" fill="#eb4236"/>
<rect x="117.83" y="28" width="9.8" height="5" fill="url(#pC)"/>
<rect x="117.83" y="15.2" width="9.8" height="12.8" fill="url(#sp7)"/>
<rect x="117.83" y="56.2" width="9.8" height="3.1" fill="#a6bbe3"/>
<rect x="117.83" y="59.3" width="9.8" height="5.1" fill="#2a78ba"/>
<rect x="117.83" y="64.4" width="9.8" height="1.6" fill="url(#nC)"/>
<line x1="117.83" y1="43.2" x2="127.62" y2="43.2" stroke="#6a1a14" stroke-width="0.75"/>
<line x1="117.83" y1="33" x2="127.62" y2="33" stroke="#6a1a14" stroke-width="0.75"/>
<line x1="117.83" y1="28" x2="127.62" y2="28" stroke="#606060" stroke-width="0.75"/>
<line x1="117.83" y1="59.3" x2="127.62" y2="59.3" stroke="#1d3f66" stroke-width="0.75"/>
<line x1="117.83" y1="64.4" x2="127.62" y2="64.4" stroke="#1d3f66" stroke-width="0.75"/>
<rect x="117.83" y="15.2" width="9.8" height="41" fill="none" stroke="#666" stroke-width="0.9"/>
<rect x="117.83" y="56.2" width="9.8" height="9.8" fill="none" stroke="#666" stroke-width="0.9"/>
<rect x="130.45" y="43.2" width="9.8" height="13" fill="#f8b39b"/>
<rect x="130.45" y="37.6" width="9.8" height="5.6" fill="#eb4236"/>
<rect x="130.45" y="33" width="9.8" height="4.6" fill="url(#xo8)"/>
<rect x="130.45" y="20" width="9.8" height="13" fill="url(#sp9)"/>
<rect x="130.45" y="56.2" width="9.8" height="8.2" fill="#a6bbe3"/>
<rect x="130.45" y="64.4" width="9.8" height="4.6" fill="#2a78ba"/>
<rect x="130.45" y="69" width="9.8" height="1.7" fill="url(#nC)"/>
<line x1="130.45" y1="43.2" x2="140.25" y2="43.2" stroke="#6a1a14" stroke-width="0.75"/>
<line x1="130.45" y1="37.6" x2="140.25" y2="37.6" stroke="#6a1a14" stroke-width="0.75"/>
<line x1="130.45" y1="33" x2="140.25" y2="33" stroke="#606060" stroke-width="0.75"/>
<line x1="130.45" y1="64.4" x2="140.25" y2="64.4" stroke="#1d3f66" stroke-width="0.75"/>
<line x1="130.45" y1="69" x2="140.25" y2="69" stroke="#1d3f66" stroke-width="0.75"/>
<rect x="130.45" y="20" width="9.8" height="36.2" fill="none" stroke="#666" stroke-width="0.9"/>
<rect x="130.45" y="56.2" width="9.8" height="14.5" fill="none" stroke="#666" stroke-width="0.9"/>
<rect x="143.08" y="47.5" width="9.8" height="8.7" fill="#f8b39b"/>
<rect x="143.08" y="42" width="9.8" height="5.5" fill="#eb4236"/>
<rect x="143.08" y="38.1" width="9.8" height="3.9" fill="url(#pC)"/>
<rect x="143.08" y="24.6" width="9.8" height="13.5" fill="url(#sp10)"/>
<rect x="143.08" y="56.2" width="9.8" height="8.2" fill="#a6bbe3"/>
<rect x="143.08" y="64.4" width="9.8" height="10.2" fill="#2a78ba"/>
<rect x="143.08" y="74.6" width="9.8" height="1.7" fill="url(#nC)"/>
<line x1="143.08" y1="47.5" x2="152.88" y2="47.5" stroke="#6a1a14" stroke-width="0.75"/>
<line x1="143.08" y1="42" x2="152.88" y2="42" stroke="#6a1a14" stroke-width="0.75"/>
<line x1="143.08" y1="38.1" x2="152.88" y2="38.1" stroke="#606060" stroke-width="0.75"/>
<line x1="143.08" y1="64.4" x2="152.88" y2="64.4" stroke="#1d3f66" stroke-width="0.75"/>
<line x1="143.08" y1="74.6" x2="152.88" y2="74.6" stroke="#1d3f66" stroke-width="0.75"/>
<rect x="143.08" y="24.6" width="9.8" height="31.6" fill="none" stroke="#666" stroke-width="0.9"/>
<rect x="143.08" y="56.2" width="9.8" height="20.1" fill="none" stroke="#666" stroke-width="0.9"/>
<rect x="155.7" y="47.5" width="9.8" height="8.7" fill="#f8b39b"/>
<rect x="155.7" y="43.2" width="9.8" height="4.3" fill="#eb4236"/>
<rect x="155.7" y="38.6" width="9.8" height="4.6" fill="url(#pC)"/>
<rect x="155.7" y="28.5" width="9.8" height="10.1" fill="url(#sp11)"/>
<rect x="155.7" y="56.2" width="9.8" height="8.2" fill="#a6bbe3"/>
<rect x="155.7" y="64.4" width="9.8" height="10.2" fill="#2a78ba"/>
<rect x="155.7" y="74.6" width="9.8" height="1.9" fill="url(#nC)"/>
<rect x="155.7" y="76.5" width="9.8" height="2.7" fill="url(#sp12)"/>
<line x1="155.7" y1="47.5" x2="165.5" y2="47.5" stroke="#6a1a14" stroke-width="0.75"/>
<line x1="155.7" y1="43.2" x2="165.5" y2="43.2" stroke="#6a1a14" stroke-width="0.75"/>
<line x1="155.7" y1="38.6" x2="165.5" y2="38.6" stroke="#606060" stroke-width="0.75"/>
<line x1="155.7" y1="64.4" x2="165.5" y2="64.4" stroke="#1d3f66" stroke-width="0.75"/>
<line x1="155.7" y1="74.6" x2="165.5" y2="74.6" stroke="#1d3f66" stroke-width="0.75"/>
<line x1="155.7" y1="76.5" x2="165.5" y2="76.5" stroke="#555" stroke-width="0.75"/>
<rect x="155.7" y="28.5" width="9.8" height="27.7" fill="none" stroke="#666" stroke-width="0.9"/>
<rect x="155.7" y="56.2" width="9.8" height="23" fill="none" stroke="#666" stroke-width="0.9"/>
<rect x="168.33" y="47.5" width="9.8" height="8.7" fill="#f8b39b"/>
<rect x="168.33" y="41.5" width="9.8" height="6" fill="#eb4236"/>
<rect x="168.33" y="39" width="9.8" height="2.5" fill="url(#pC)"/>
<rect x="168.33" y="26.3" width="9.8" height="12.7" fill="url(#sp13)"/>
<rect x="168.33" y="56.2" width="9.8" height="8.2" fill="#a6bbe3"/>
<rect x="168.33" y="64.4" width="9.8" height="7.6" fill="#2a78ba"/>
<rect x="168.33" y="72" width="9.8" height="4.8" fill="url(#nC)"/>
<line x1="168.33" y1="47.5" x2="178.13" y2="47.5" stroke="#6a1a14" stroke-width="0.75"/>
<line x1="168.33" y1="41.5" x2="178.13" y2="41.5" stroke="#6a1a14" stroke-width="0.75"/>
<line x1="168.33" y1="39" x2="178.13" y2="39" stroke="#606060" stroke-width="0.75"/>
<line x1="168.33" y1="64.4" x2="178.13" y2="64.4" stroke="#1d3f66" stroke-width="0.75"/>
<line x1="168.33" y1="72" x2="178.13" y2="72" stroke="#1d3f66" stroke-width="0.75"/>
<rect x="168.33" y="26.3" width="9.8" height="29.9" fill="none" stroke="#666" stroke-width="0.9"/>
<rect x="168.33" y="56.2" width="9.8" height="20.6" fill="none" stroke="#666" stroke-width="0.9"/>
<rect x="180.95" y="43.2" width="9.8" height="13" fill="#f8b39b"/>
<rect x="180.95" y="33" width="9.8" height="10.2" fill="#eb4236"/>
<rect x="180.95" y="27.1" width="9.8" height="5.9" fill="url(#pC)"/>
<rect x="180.95" y="13.2" width="9.8" height="13.9" fill="url(#sp14)"/>
<rect x="180.95" y="56.2" width="9.8" height="3.1" fill="#a6bbe3"/>
<rect x="180.95" y="59.3" width="9.8" height="5.1" fill="#2a78ba"/>
<line x1="180.95" y1="43.2" x2="190.75" y2="43.2" stroke="#6a1a14" stroke-width="0.75"/>
<line x1="180.95" y1="33" x2="190.75" y2="33" stroke="#6a1a14" stroke-width="0.75"/>
<line x1="180.95" y1="27.1" x2="190.75" y2="27.1" stroke="#606060" stroke-width="0.75"/>
<line x1="180.95" y1="59.3" x2="190.75" y2="59.3" stroke="#1d3f66" stroke-width="0.75"/>
<rect x="180.95" y="13.2" width="9.8" height="43" fill="none" stroke="#666" stroke-width="0.9"/>
<rect x="180.95" y="56.2" width="9.8" height="8.2" fill="none" stroke="#666" stroke-width="0.9"/>
<rect x="193.58" y="47.5" width="9.8" height="8.7" fill="#f8b39b"/>
<rect x="193.58" y="44.6" width="9.8" height="2.9" fill="#eb4236"/>
<rect x="193.58" y="42.4" width="9.8" height="2.2" fill="#c9c9c9"/>
<rect x="193.58" y="36.2" width="9.8" height="6.2" fill="url(#sp15)"/>
<rect x="193.58" y="56.2" width="9.8" height="8.2" fill="#a6bbe3"/>
<rect x="193.58" y="64.4" width="9.8" height="11" fill="#2a78ba"/>
<rect x="193.58" y="75.4" width="9.8" height="4.8" fill="url(#nC)"/>
<rect x="193.58" y="80.2" width="9.8" height="7.1" fill="url(#sp16)"/>
<line x1="193.58" y1="47.5" x2="203.38" y2="47.5" stroke="#6a1a14" stroke-width="0.75"/>
<line x1="193.58" y1="44.6" x2="203.38" y2="44.6" stroke="#6a1a14" stroke-width="0.75"/>
<line x1="193.58" y1="42.4" x2="203.38" y2="42.4" stroke="#606060" stroke-width="0.75"/>
<line x1="193.58" y1="64.4" x2="203.38" y2="64.4" stroke="#1d3f66" stroke-width="0.75"/>
<line x1="193.58" y1="75.4" x2="203.38" y2="75.4" stroke="#1d3f66" stroke-width="0.75"/>
<line x1="193.58" y1="80.2" x2="203.38" y2="80.2" stroke="#555" stroke-width="0.75"/>
<rect x="193.58" y="36.2" width="9.8" height="20" fill="none" stroke="#666" stroke-width="0.9"/>
<rect x="193.58" y="56.2" width="9.8" height="31.1" fill="none" stroke="#666" stroke-width="0.9"/>
<polyline points="59.4,13.9 71.8,46 84.6,37 97.1,24 110.2,5.9 122,28 135.4,5.4 148,5.4 161.2,48.3 173.8,44.4 186.4,23.7 199.3,55.9" fill="none" stroke="#111" stroke-width="1.3" stroke-linejoin="miter" stroke-miterlimit="10"/>
<text x="49.10" y="104.50" font-size="9.7" textLength="76.90" lengthAdjust="spacingAndGlyphs" class="t">Northwest (n = 31)</text>
<text x="43" y="6.3" font-size="9.2" text-anchor="end" textLength="14.25" lengthAdjust="spacingAndGlyphs" class="t">100</text>
<text x="43" y="31.95" font-size="9.2" text-anchor="end" textLength="9.50" lengthAdjust="spacingAndGlyphs" class="t">50</text>
<text x="43" y="58.7" font-size="9.2" text-anchor="end" textLength="4.75" lengthAdjust="spacingAndGlyphs" class="t">0</text>
<text x="43" y="83.2" font-size="9.2" text-anchor="end" textLength="9.50" lengthAdjust="spacingAndGlyphs" class="t">50</text>
<text x="43" y="108.3" font-size="9.2" text-anchor="end" textLength="14.25" lengthAdjust="spacingAndGlyphs" class="t">100</text>
<text x="60.6" y="116.3" font-size="8.4" text-anchor="middle" class="m">J</text>
<text x="72.7" y="116.3" font-size="8.4" text-anchor="middle" class="m">F</text>
<text x="85.5" y="116.3" font-size="8.4" text-anchor="middle" class="m">M</text>
<text x="98.7" y="116.3" font-size="8.4" text-anchor="middle" class="m">A</text>
<text x="111.7" y="116.3" font-size="8.4" text-anchor="middle" class="m">M</text>
<text x="123.8" y="116.3" font-size="8.4" text-anchor="middle" class="m">J</text>
<text x="133.7" y="116.3" font-size="8.4" text-anchor="middle" class="m">J</text>
<text x="147.5" y="116.3" font-size="8.4" text-anchor="middle" class="m">A</text>
<text x="160" y="116.3" font-size="8.4" text-anchor="middle" class="m">S</text>
<text x="172.4" y="116.3" font-size="8.4" text-anchor="middle" class="m">O</text>
<text x="185" y="116.3" font-size="8.4" text-anchor="middle" class="m">N</text>
<text x="198.1" y="116.3" font-size="8.4" text-anchor="middle" class="m">D</text>
<line x1="229" y1="5.4" x2="229" y2="107" stroke="#bdbdbd" stroke-width="1.05"/>
<line x1="392.8" y1="5.4" x2="392.8" y2="107" stroke="#6a6a6a" stroke-width="1.05"/>
<line x1="228.5" y1="5.4" x2="393.3" y2="5.4" stroke="#7a7a7a" stroke-width="1.05"/>
<line x1="228.5" y1="107" x2="393.3" y2="107" stroke="#8a8a8a" stroke-width="1.05"/>
<line x1="229" y1="56.35" x2="392.8" y2="56.35" stroke="#7d7d7d" stroke-width="1"/>
<line x1="227.5" y1="30.88" x2="230" y2="30.88" stroke="#7d7d7d" stroke-width="0.8"/>
<line x1="390.8" y1="30.88" x2="392.8" y2="30.88" stroke="#7d7d7d" stroke-width="0.8"/>
<line x1="227.5" y1="81.67" x2="230" y2="81.67" stroke="#7d7d7d" stroke-width="0.8"/>
<line x1="390.8" y1="81.67" x2="392.8" y2="81.67" stroke="#7d7d7d" stroke-width="0.8"/>
<rect x="236.9" y="39" width="9.8" height="17.35" fill="#eb4236"/>
<rect x="236.9" y="33.9" width="9.8" height="5.1" fill="url(#pC)"/>
<rect x="236.9" y="26.8" width="9.8" height="7.1" fill="url(#sp17)"/>
<rect x="236.9" y="56.35" width="9.8" height="1.95" fill="#a6bbe3"/>
<rect x="236.9" y="58.3" width="9.8" height="9.5" fill="#2a78ba"/>
<rect x="236.9" y="67.8" width="9.8" height="5.1" fill="url(#nC)"/>
<rect x="236.9" y="72.9" width="9.8" height="4.2" fill="url(#nO)"/>
<line x1="236.9" y1="39" x2="246.7" y2="39" stroke="#6a1a14" stroke-width="0.75"/>
<line x1="236.9" y1="33.9" x2="246.7" y2="33.9" stroke="#606060" stroke-width="0.75"/>
<line x1="236.9" y1="58.3" x2="246.7" y2="58.3" stroke="#1d3f66" stroke-width="0.75"/>
<line x1="236.9" y1="67.8" x2="246.7" y2="67.8" stroke="#1d3f66" stroke-width="0.75"/>
<line x1="236.9" y1="72.9" x2="246.7" y2="72.9" stroke="#555" stroke-width="0.75"/>
<rect x="236.9" y="26.8" width="9.8" height="29.55" fill="none" stroke="#666" stroke-width="0.9"/>
<rect x="236.9" y="56.35" width="9.8" height="20.75" fill="none" stroke="#666" stroke-width="0.9"/>
<rect x="249.47" y="53.9" width="9.8" height="2.45" fill="#f8b39b"/>
<rect x="249.47" y="39" width="9.8" height="14.9" fill="#eb4236"/>
<rect x="249.47" y="33.9" width="9.8" height="5.1" fill="url(#pC)"/>
<rect x="249.47" y="26.8" width="9.8" height="7.1" fill="url(#sp18)"/>
<rect x="249.47" y="56.35" width="9.8" height="1.75" fill="#a6bbe3"/>
<rect x="249.47" y="58.1" width="9.8" height="10.2" fill="#2a78ba"/>
<rect x="249.47" y="68.3" width="9.8" height="4.6" fill="url(#nC)"/>
<rect x="249.47" y="72.9" width="9.8" height="4.6" fill="url(#nO)"/>
<line x1="249.47" y1="53.9" x2="259.26" y2="53.9" stroke="#6a1a14" stroke-width="0.75"/>
<line x1="249.47" y1="39" x2="259.26" y2="39" stroke="#6a1a14" stroke-width="0.75"/>
<line x1="249.47" y1="33.9" x2="259.26" y2="33.9" stroke="#606060" stroke-width="0.75"/>
<line x1="249.47" y1="58.1" x2="259.26" y2="58.1" stroke="#1d3f66" stroke-width="0.75"/>
<line x1="249.47" y1="68.3" x2="259.26" y2="68.3" stroke="#1d3f66" stroke-width="0.75"/>
<line x1="249.47" y1="72.9" x2="259.26" y2="72.9" stroke="#555" stroke-width="0.75"/>
<rect x="249.47" y="26.8" width="9.8" height="29.55" fill="none" stroke="#666" stroke-width="0.9"/>
<rect x="249.47" y="56.35" width="9.8" height="21.15" fill="none" stroke="#666" stroke-width="0.9"/>
<rect x="262.03" y="55" width="9.8" height="1.35" fill="#f8b39b"/>
<rect x="262.03" y="33.9" width="9.8" height="21.1" fill="#eb4236"/>
<rect x="262.03" y="27.1" width="9.8" height="6.8" fill="url(#pC)"/>
<rect x="262.03" y="22" width="9.8" height="5.1" fill="url(#sp19)"/>
<rect x="262.03" y="56.35" width="9.8" height="1.75" fill="#a6bbe3"/>
<rect x="262.03" y="58.1" width="9.8" height="5.5" fill="#2a78ba"/>
<rect x="262.03" y="63.6" width="9.8" height="2.5" fill="url(#nC)"/>
<rect x="262.03" y="66.1" width="9.8" height="6.8" fill="url(#sp20)"/>
<line x1="262.03" y1="55" x2="271.83" y2="55" stroke="#6a1a14" stroke-width="0.75"/>
<line x1="262.03" y1="33.9" x2="271.83" y2="33.9" stroke="#6a1a14" stroke-width="0.75"/>
<line x1="262.03" y1="27.1" x2="271.83" y2="27.1" stroke="#606060" stroke-width="0.75"/>
<line x1="262.03" y1="58.1" x2="271.83" y2="58.1" stroke="#1d3f66" stroke-width="0.75"/>
<line x1="262.03" y1="63.6" x2="271.83" y2="63.6" stroke="#1d3f66" stroke-width="0.75"/>
<line x1="262.03" y1="66.1" x2="271.83" y2="66.1" stroke="#555" stroke-width="0.75"/>
<rect x="262.03" y="22" width="9.8" height="34.35" fill="none" stroke="#666" stroke-width="0.9"/>
<rect x="262.03" y="56.35" width="9.8" height="16.55" fill="none" stroke="#666" stroke-width="0.9"/>
<rect x="274.59" y="56.35" width="9.8" height="1.75" fill="#a6bbe3"/>
<rect x="274.59" y="58.1" width="9.8" height="27.5" fill="#2a78ba"/>
<rect x="274.59" y="85.6" width="9.8" height="8.1" fill="url(#nC)"/>
<rect x="274.59" y="93.7" width="9.8" height="10.2" fill="url(#sp21)"/>
<rect x="274.59" y="103.9" width="9.8" height="2.4" fill="url(#nO)"/>
<line x1="274.59" y1="58.1" x2="284.39" y2="58.1" stroke="#1d3f66" stroke-width="0.75"/>
<line x1="274.59" y1="85.6" x2="284.39" y2="85.6" stroke="#1d3f66" stroke-width="0.75"/>
<line x1="274.59" y1="93.7" x2="284.39" y2="93.7" stroke="#555" stroke-width="0.75"/>
<line x1="274.59" y1="103.9" x2="284.39" y2="103.9" stroke="#555" stroke-width="0.75"/>
<rect x="274.59" y="56.35" width="9.8" height="49.95" fill="none" stroke="#666" stroke-width="0.9"/>
<rect x="287.16" y="53.9" width="9.8" height="2.45" fill="#f8b39b"/>
<rect x="287.16" y="34.7" width="9.8" height="19.2" fill="#eb4236"/>
<rect x="287.16" y="25.1" width="9.8" height="9.6" fill="url(#pC)"/>
<rect x="287.16" y="14.9" width="9.8" height="10.2" fill="url(#sp22)"/>
<rect x="287.16" y="56.35" width="9.8" height="1.65" fill="#a6bbe3"/>
<rect x="287.16" y="58" width="9.8" height="6.4" fill="#2a78ba"/>
<rect x="287.16" y="64.4" width="9.8" height="1.2" fill="url(#nC)"/>
<line x1="287.16" y1="53.9" x2="296.96" y2="53.9" stroke="#6a1a14" stroke-width="0.75"/>
<line x1="287.16" y1="34.7" x2="296.96" y2="34.7" stroke="#6a1a14" stroke-width="0.75"/>
<line x1="287.16" y1="25.1" x2="296.96" y2="25.1" stroke="#606060" stroke-width="0.75"/>
<line x1="287.16" y1="58" x2="296.96" y2="58" stroke="#1d3f66" stroke-width="0.75"/>
<line x1="287.16" y1="64.4" x2="296.96" y2="64.4" stroke="#1d3f66" stroke-width="0.75"/>
<rect x="287.16" y="14.9" width="9.8" height="41.45" fill="none" stroke="#666" stroke-width="0.9"/>
<rect x="287.16" y="56.35" width="9.8" height="9.25" fill="none" stroke="#666" stroke-width="0.9"/>
<rect x="299.72" y="53.9" width="9.8" height="2.45" fill="#f8b39b"/>
<rect x="299.72" y="29.2" width="9.8" height="24.7" fill="#eb4236"/>
<rect x="299.72" y="19.5" width="9.8" height="9.7" fill="url(#pC)"/>
<rect x="299.72" y="12.7" width="9.8" height="6.8" fill="url(#sp23)"/>
<rect x="299.72" y="10.2" width="9.8" height="2.5" fill="url(#xo24)"/>
<rect x="299.72" y="56.35" width="9.8" height="1.15" fill="#a6bbe3"/>
<rect x="299.72" y="57.5" width="9.8" height="3" fill="url(#sp25)"/>
<line x1="299.72" y1="53.9" x2="309.52" y2="53.9" stroke="#6a1a14" stroke-width="0.75"/>
<line x1="299.72" y1="29.2" x2="309.52" y2="29.2" stroke="#6a1a14" stroke-width="0.75"/>
<line x1="299.72" y1="19.5" x2="309.52" y2="19.5" stroke="#606060" stroke-width="0.75"/>
<line x1="299.72" y1="12.7" x2="309.52" y2="12.7" stroke="#606060" stroke-width="0.75"/>
<line x1="299.72" y1="57.5" x2="309.52" y2="57.5" stroke="#5a6f98" stroke-width="0.75"/>
<rect x="299.72" y="10.2" width="9.8" height="46.15" fill="none" stroke="#666" stroke-width="0.9"/>
<rect x="299.72" y="56.35" width="9.8" height="4.15" fill="none" stroke="#666" stroke-width="0.9"/>
<rect x="312.29" y="53.9" width="9.8" height="2.45" fill="#f8b39b"/>
<rect x="312.29" y="28.8" width="9.8" height="25.1" fill="#eb4236"/>
<rect x="312.29" y="22" width="9.8" height="6.8" fill="url(#pC)"/>
<rect x="312.29" y="14.9" width="9.8" height="7.1" fill="url(#sp26)"/>
<rect x="312.29" y="56.35" width="9.8" height="1.15" fill="#a6bbe3"/>
<rect x="312.29" y="57.5" width="9.8" height="1.5" fill="#2a78ba"/>
<rect x="312.29" y="59" width="9.8" height="2.1" fill="url(#nC)"/>
<rect x="312.29" y="61.1" width="9.8" height="1.9" fill="url(#sp27)"/>
<rect x="312.29" y="63" width="9.8" height="1.9" fill="url(#nO)"/>
<line x1="312.29" y1="53.9" x2="322.09" y2="53.9" stroke="#6a1a14" stroke-width="0.75"/>
<line x1="312.29" y1="28.8" x2="322.09" y2="28.8" stroke="#6a1a14" stroke-width="0.75"/>
<line x1="312.29" y1="22" x2="322.09" y2="22" stroke="#606060" stroke-width="0.75"/>
<line x1="312.29" y1="57.5" x2="322.09" y2="57.5" stroke="#1d3f66" stroke-width="0.75"/>
<line x1="312.29" y1="59" x2="322.09" y2="59" stroke="#1d3f66" stroke-width="0.75"/>
<line x1="312.29" y1="61.1" x2="322.09" y2="61.1" stroke="#555" stroke-width="0.75"/>
<line x1="312.29" y1="63" x2="322.09" y2="63" stroke="#555" stroke-width="0.75"/>
<rect x="312.29" y="14.9" width="9.8" height="41.45" fill="none" stroke="#666" stroke-width="0.9"/>
<rect x="312.29" y="56.35" width="9.8" height="8.55" fill="none" stroke="#666" stroke-width="0.9"/>
<rect x="324.85" y="54.5" width="9.8" height="1.85" fill="#f8b39b"/>
<rect x="324.85" y="46.1" width="9.8" height="8.4" fill="#eb4236"/>
<rect x="324.85" y="44.1" width="9.8" height="2" fill="url(#sp28)"/>
<rect x="324.85" y="56.35" width="9.8" height="1.65" fill="#a6bbe3"/>
<rect x="324.85" y="58" width="9.8" height="17.8" fill="#2a78ba"/>
<rect x="324.85" y="75.8" width="9.8" height="9.6" fill="url(#nC)"/>
<rect x="324.85" y="85.4" width="9.8" height="7.6" fill="url(#sp29)"/>
<rect x="324.85" y="93" width="9.8" height="1.6" fill="url(#nO)"/>
<line x1="324.85" y1="54.5" x2="334.65" y2="54.5" stroke="#6a1a14" stroke-width="0.75"/>
<line x1="324.85" y1="46.1" x2="334.65" y2="46.1" stroke="#6a1a14" stroke-width="0.75"/>
<line x1="324.85" y1="58" x2="334.65" y2="58" stroke="#1d3f66" stroke-width="0.75"/>
<line x1="324.85" y1="75.8" x2="334.65" y2="75.8" stroke="#1d3f66" stroke-width="0.75"/>
<line x1="324.85" y1="85.4" x2="334.65" y2="85.4" stroke="#555" stroke-width="0.75"/>
<line x1="324.85" y1="93" x2="334.65" y2="93" stroke="#555" stroke-width="0.75"/>
<rect x="324.85" y="44.1" width="9.8" height="12.25" fill="none" stroke="#666" stroke-width="0.9"/>
<rect x="324.85" y="56.35" width="9.8" height="38.25" fill="none" stroke="#666" stroke-width="0.9"/>
<rect x="337.42" y="53.9" width="9.8" height="2.45" fill="#f8b39b"/>
<rect x="337.42" y="29.2" width="9.8" height="24.7" fill="#eb4236"/>
<rect x="337.42" y="19" width="9.8" height="10.2" fill="url(#pC)"/>
<rect x="337.42" y="10.2" width="9.8" height="8.8" fill="url(#sp30)"/>
<rect x="337.42" y="7.6" width="9.8" height="2.6" fill="url(#xo31)"/>
<rect x="337.42" y="56.35" width="9.8" height="0.65" fill="#a6bbe3"/>
<rect x="337.42" y="57" width="9.8" height="1" fill="#2a78ba"/>
<line x1="337.42" y1="53.9" x2="347.22" y2="53.9" stroke="#6a1a14" stroke-width="0.75"/>
<line x1="337.42" y1="29.2" x2="347.22" y2="29.2" stroke="#6a1a14" stroke-width="0.75"/>
<line x1="337.42" y1="19" x2="347.22" y2="19" stroke="#606060" stroke-width="0.75"/>
<line x1="337.42" y1="10.2" x2="347.22" y2="10.2" stroke="#606060" stroke-width="0.75"/>
<line x1="337.42" y1="57" x2="347.22" y2="57" stroke="#1d3f66" stroke-width="0.75"/>
<rect x="337.42" y="7.6" width="9.8" height="48.75" fill="none" stroke="#666" stroke-width="0.9"/>
<rect x="337.42" y="56.35" width="9.8" height="1.65" fill="none" stroke="#666" stroke-width="0.9"/>
<rect x="349.98" y="53.9" width="9.8" height="2.45" fill="#f8b39b"/>
<rect x="349.98" y="27.1" width="9.8" height="26.8" fill="#eb4236"/>
<rect x="349.98" y="17" width="9.8" height="10.1" fill="url(#pC)"/>
<rect x="349.98" y="7.6" width="9.8" height="9.4" fill="url(#sp32)"/>
<rect x="349.98" y="56.35" width="9.8" height="0.65" fill="#a6bbe3"/>
<rect x="349.98" y="57" width="9.8" height="1" fill="#2a78ba"/>
<rect x="349.98" y="58" width="9.8" height="2" fill="url(#sp33)"/>
<line x1="349.98" y1="53.9" x2="359.78" y2="53.9" stroke="#6a1a14" stroke-width="0.75"/>
<line x1="349.98" y1="27.1" x2="359.78" y2="27.1" stroke="#6a1a14" stroke-width="0.75"/>
<line x1="349.98" y1="17" x2="359.78" y2="17" stroke="#606060" stroke-width="0.75"/>
<line x1="349.98" y1="57" x2="359.78" y2="57" stroke="#1d3f66" stroke-width="0.75"/>
<line x1="349.98" y1="58" x2="359.78" y2="58" stroke="#1d3f66" stroke-width="0.75"/>
<rect x="349.98" y="7.6" width="9.8" height="48.75" fill="none" stroke="#666" stroke-width="0.9"/>
<rect x="349.98" y="56.35" width="9.8" height="3.65" fill="none" stroke="#666" stroke-width="0.9"/>
<rect x="362.55" y="56.35" width="9.8" height="1.65" fill="#a6bbe3"/>
<rect x="362.55" y="58" width="9.8" height="27.4" fill="#2a78ba"/>
<rect x="362.55" y="85.4" width="9.8" height="9" fill="url(#nC)"/>
<rect x="362.55" y="94.4" width="9.8" height="10.1" fill="url(#sp34)"/>
<rect x="362.55" y="104.5" width="9.8" height="2.3" fill="url(#nO)"/>
<line x1="362.55" y1="58" x2="372.35" y2="58" stroke="#1d3f66" stroke-width="0.75"/>
<line x1="362.55" y1="85.4" x2="372.35" y2="85.4" stroke="#1d3f66" stroke-width="0.75"/>
<line x1="362.55" y1="94.4" x2="372.35" y2="94.4" stroke="#555" stroke-width="0.75"/>
<line x1="362.55" y1="104.5" x2="372.35" y2="104.5" stroke="#555" stroke-width="0.75"/>
<rect x="362.55" y="56.35" width="9.8" height="50.45" fill="none" stroke="#666" stroke-width="0.9"/>
<rect x="375.12" y="53.9" width="9.8" height="2.45" fill="#f8b39b"/>
<rect x="375.12" y="44.1" width="9.8" height="9.8" fill="#eb4236"/>
<rect x="375.12" y="33.9" width="9.8" height="10.2" fill="url(#pC)"/>
<rect x="375.12" y="24.6" width="9.8" height="9.3" fill="url(#sp35)"/>
<rect x="375.12" y="56.35" width="9.8" height="16.25" fill="#2a78ba"/>
<rect x="375.12" y="72.6" width="9.8" height="2.3" fill="url(#nO)"/>
<line x1="375.12" y1="53.9" x2="384.92" y2="53.9" stroke="#6a1a14" stroke-width="0.75"/>
<line x1="375.12" y1="44.1" x2="384.92" y2="44.1" stroke="#6a1a14" stroke-width="0.75"/>
<line x1="375.12" y1="33.9" x2="384.92" y2="33.9" stroke="#606060" stroke-width="0.75"/>
<line x1="375.12" y1="72.6" x2="384.92" y2="72.6" stroke="#1d3f66" stroke-width="0.75"/>
<rect x="375.12" y="24.6" width="9.8" height="31.75" fill="none" stroke="#666" stroke-width="0.9"/>
<rect x="375.12" y="56.35" width="9.8" height="18.55" fill="none" stroke="#666" stroke-width="0.9"/>
<polyline points="241.2,7.6 253.2,5.4 266.5,10.2 279.2,5.1 292.5,55.9 305.3,29.2 317.6,26.3 331,7.6 343.9,50.8 356.5,28 369.3,5.1 382.3,7.6" fill="none" stroke="#111" stroke-width="1.3" stroke-linejoin="miter" stroke-miterlimit="10"/>
<text x="233.40" y="104.50" font-size="9.7" textLength="34.90" lengthAdjust="spacingAndGlyphs" class="t">Midwest</text>
<text x="287.90" y="104.50" font-size="9.7" textLength="31.00" lengthAdjust="spacingAndGlyphs" class="t">(n = 21)</text>
<text x="226.2" y="6.6" font-size="9.2" text-anchor="end" textLength="14.25" lengthAdjust="spacingAndGlyphs" class="t">100</text>
<text x="226.2" y="32.85" font-size="9.2" text-anchor="end" textLength="9.50" lengthAdjust="spacingAndGlyphs" class="t">50</text>
<text x="226.2" y="58.9" font-size="9.2" text-anchor="end" textLength="4.75" lengthAdjust="spacingAndGlyphs" class="t">0</text>
<text x="226.2" y="83.2" font-size="9.2" text-anchor="end" textLength="9.50" lengthAdjust="spacingAndGlyphs" class="t">50</text>
<text x="226.2" y="107.8" font-size="9.2" text-anchor="end" textLength="14.25" lengthAdjust="spacingAndGlyphs" class="t">100</text>
<text x="241.7" y="116.3" font-size="8.4" text-anchor="middle" class="m">J</text>
<text x="253.8" y="116.3" font-size="8.4" text-anchor="middle" class="m">F</text>
<text x="266.6" y="116.3" font-size="8.4" text-anchor="middle" class="m">M</text>
<text x="279.8" y="116.3" font-size="8.4" text-anchor="middle" class="m">A</text>
<text x="292.8" y="116.3" font-size="8.4" text-anchor="middle" class="m">M</text>
<text x="304.9" y="116.3" font-size="8.4" text-anchor="middle" class="m">J</text>
<text x="314.8" y="116.3" font-size="8.4" text-anchor="middle" class="m">J</text>
<text x="328.6" y="116.3" font-size="8.4" text-anchor="middle" class="m">A</text>
<text x="341.1" y="116.3" font-size="8.4" text-anchor="middle" class="m">S</text>
<text x="353.5" y="116.3" font-size="8.4" text-anchor="middle" class="m">O</text>
<text x="366.1" y="116.3" font-size="8.4" text-anchor="middle" class="m">N</text>
<text x="379.2" y="116.3" font-size="8.4" text-anchor="middle" class="m">D</text>
<line x1="411.4" y1="6.2" x2="411.4" y2="108.4" stroke="#8a8a8a" stroke-width="1.05"/>
<line x1="574.4" y1="6.2" x2="574.4" y2="108.4" stroke="#6a6a6a" stroke-width="1.05"/>
<line x1="410.9" y1="6.2" x2="574.9" y2="6.2" stroke="#7a7a7a" stroke-width="1.05"/>
<line x1="410.9" y1="108.4" x2="574.9" y2="108.4" stroke="#8a8a8a" stroke-width="1.05"/>
<line x1="411.4" y1="57.4" x2="574.4" y2="57.4" stroke="#7d7d7d" stroke-width="1"/>
<line x1="409.9" y1="31.8" x2="412.4" y2="31.8" stroke="#7d7d7d" stroke-width="0.8"/>
<line x1="572.4" y1="31.8" x2="574.4" y2="31.8" stroke="#7d7d7d" stroke-width="0.8"/>
<line x1="409.9" y1="82.9" x2="412.4" y2="82.9" stroke="#7d7d7d" stroke-width="0.8"/>
<line x1="572.4" y1="82.9" x2="574.4" y2="82.9" stroke="#7d7d7d" stroke-width="0.8"/>
<rect x="418.8" y="44.3" width="9.8" height="13.1" fill="#f8b39b"/>
<rect x="418.8" y="29.2" width="9.8" height="15.1" fill="#eb4236"/>
<rect x="418.8" y="8.7" width="9.8" height="20.5" fill="url(#pC)"/>
<rect x="418.8" y="57.4" width="9.8" height="2.4" fill="#a6bbe3"/>
<line x1="418.8" y1="44.3" x2="428.6" y2="44.3" stroke="#6a1a14" stroke-width="0.75"/>
<line x1="418.8" y1="29.2" x2="428.6" y2="29.2" stroke="#6a1a14" stroke-width="0.75"/>
<rect x="418.8" y="8.7" width="9.8" height="48.7" fill="none" stroke="#666" stroke-width="0.9"/>
<rect x="418.8" y="57.4" width="9.8" height="2.4" fill="none" stroke="#666" stroke-width="0.9"/>
<rect x="431.45" y="41.7" width="9.8" height="15.7" fill="#f8b39b"/>
<rect x="431.45" y="29.2" width="9.8" height="12.5" fill="#eb4236"/>
<rect x="431.45" y="11.3" width="9.8" height="17.9" fill="url(#pC)"/>
<rect x="431.45" y="57.4" width="9.8" height="0.6" fill="#a6bbe3"/>
<rect x="431.45" y="58" width="9.8" height="0.5" fill="#2a78ba"/>
<rect x="431.45" y="58.5" width="9.8" height="3.7" fill="url(#nC)"/>
<line x1="431.45" y1="41.7" x2="441.25" y2="41.7" stroke="#6a1a14" stroke-width="0.75"/>
<line x1="431.45" y1="29.2" x2="441.25" y2="29.2" stroke="#6a1a14" stroke-width="0.75"/>
<line x1="431.45" y1="58" x2="441.25" y2="58" stroke="#1d3f66" stroke-width="0.75"/>
<line x1="431.45" y1="58.5" x2="441.25" y2="58.5" stroke="#1d3f66" stroke-width="0.75"/>
<rect x="431.45" y="11.3" width="9.8" height="46.1" fill="none" stroke="#666" stroke-width="0.9"/>
<rect x="431.45" y="57.4" width="9.8" height="4.8" fill="none" stroke="#666" stroke-width="0.9"/>
<rect x="444.1" y="44.3" width="9.8" height="13.1" fill="#f8b39b"/>
<rect x="444.1" y="39.1" width="9.8" height="5.2" fill="#eb4236"/>
<rect x="444.1" y="31.8" width="9.8" height="7.3" fill="url(#pC)"/>
<rect x="444.1" y="57.4" width="9.8" height="3.1" fill="#a6bbe3"/>
<rect x="444.1" y="60.5" width="9.8" height="9.5" fill="#2a78ba"/>
<rect x="444.1" y="70" width="9.8" height="12.5" fill="url(#nC)"/>
<line x1="444.1" y1="44.3" x2="453.9" y2="44.3" stroke="#6a1a14" stroke-width="0.75"/>
<line x1="444.1" y1="39.1" x2="453.9" y2="39.1" stroke="#6a1a14" stroke-width="0.75"/>
<line x1="444.1" y1="60.5" x2="453.9" y2="60.5" stroke="#1d3f66" stroke-width="0.75"/>
<line x1="444.1" y1="70" x2="453.9" y2="70" stroke="#1d3f66" stroke-width="0.75"/>
<rect x="444.1" y="31.8" width="9.8" height="25.6" fill="none" stroke="#666" stroke-width="0.9"/>
<rect x="444.1" y="57.4" width="9.8" height="25.1" fill="none" stroke="#666" stroke-width="0.9"/>
<rect x="456.75" y="54.3" width="9.8" height="3.1" fill="#f8b39b"/>
<rect x="456.75" y="49.6" width="9.8" height="4.7" fill="#eb4236"/>
<rect x="456.75" y="44.3" width="9.8" height="5.3" fill="url(#pC)"/>
<rect x="456.75" y="57.4" width="9.8" height="12.9" fill="#a6bbe3"/>
<rect x="456.75" y="70.3" width="9.8" height="10.2" fill="#2a78ba"/>
<rect x="456.75" y="80.5" width="9.8" height="14.9" fill="url(#nC)"/>
<line x1="456.75" y1="54.3" x2="466.55" y2="54.3" stroke="#6a1a14" stroke-width="0.75"/>
<line x1="456.75" y1="49.6" x2="466.55" y2="49.6" stroke="#6a1a14" stroke-width="0.75"/>
<line x1="456.75" y1="70.3" x2="466.55" y2="70.3" stroke="#1d3f66" stroke-width="0.75"/>
<line x1="456.75" y1="80.5" x2="466.55" y2="80.5" stroke="#1d3f66" stroke-width="0.75"/>
<rect x="456.75" y="44.3" width="9.8" height="13.1" fill="none" stroke="#666" stroke-width="0.9"/>
<rect x="456.75" y="57.4" width="9.8" height="38" fill="none" stroke="#666" stroke-width="0.9"/>
<rect x="469.4" y="49.6" width="9.8" height="7.8" fill="#f8b39b"/>
<rect x="469.4" y="39.1" width="9.8" height="10.5" fill="#eb4236"/>
<rect x="469.4" y="29.2" width="9.8" height="9.9" fill="url(#pC)"/>
<rect x="469.4" y="57.4" width="9.8" height="7.9" fill="#a6bbe3"/>
<rect x="469.4" y="65.3" width="9.8" height="4.7" fill="#2a78ba"/>
<rect x="469.4" y="70" width="9.8" height="10.2" fill="url(#nC)"/>
<line x1="469.4" y1="49.6" x2="479.2" y2="49.6" stroke="#6a1a14" stroke-width="0.75"/>
<line x1="469.4" y1="39.1" x2="479.2" y2="39.1" stroke="#6a1a14" stroke-width="0.75"/>
<line x1="469.4" y1="65.3" x2="479.2" y2="65.3" stroke="#1d3f66" stroke-width="0.75"/>
<line x1="469.4" y1="70" x2="479.2" y2="70" stroke="#1d3f66" stroke-width="0.75"/>
<rect x="469.4" y="29.2" width="9.8" height="28.2" fill="none" stroke="#666" stroke-width="0.9"/>
<rect x="469.4" y="57.4" width="9.8" height="22.8" fill="none" stroke="#666" stroke-width="0.9"/>
<rect x="482.05" y="52.2" width="9.8" height="5.2" fill="#f8b39b"/>
<rect x="482.05" y="41.7" width="9.8" height="10.5" fill="#eb4236"/>
<rect x="482.05" y="29.6" width="9.8" height="12.1" fill="url(#pC)"/>
<rect x="482.05" y="57.4" width="9.8" height="10" fill="#a6bbe3"/>
<rect x="482.05" y="67.4" width="9.8" height="4.8" fill="#2a78ba"/>
<rect x="482.05" y="72.2" width="9.8" height="7.9" fill="url(#nC)"/>
<line x1="482.05" y1="52.2" x2="491.85" y2="52.2" stroke="#6a1a14" stroke-width="0.75"/>
<line x1="482.05" y1="41.7" x2="491.85" y2="41.7" stroke="#6a1a14" stroke-width="0.75"/>
<line x1="482.05" y1="67.4" x2="491.85" y2="67.4" stroke="#1d3f66" stroke-width="0.75"/>
<line x1="482.05" y1="72.2" x2="491.85" y2="72.2" stroke="#1d3f66" stroke-width="0.75"/>
<rect x="482.05" y="29.6" width="9.8" height="27.8" fill="none" stroke="#666" stroke-width="0.9"/>
<rect x="482.05" y="57.4" width="9.8" height="22.7" fill="none" stroke="#666" stroke-width="0.9"/>
<rect x="494.7" y="52.5" width="9.8" height="4.9" fill="#f8b39b"/>
<rect x="494.7" y="41.7" width="9.8" height="10.8" fill="#eb4236"/>
<rect x="494.7" y="34.4" width="9.8" height="7.3" fill="url(#pC)"/>
<rect x="494.7" y="57.4" width="9.8" height="10" fill="#a6bbe3"/>
<rect x="494.7" y="67.4" width="9.8" height="4.8" fill="#2a78ba"/>
<rect x="494.7" y="72.2" width="9.8" height="13.4" fill="url(#nC)"/>
<line x1="494.7" y1="52.5" x2="504.5" y2="52.5" stroke="#6a1a14" stroke-width="0.75"/>
<line x1="494.7" y1="41.7" x2="504.5" y2="41.7" stroke="#6a1a14" stroke-width="0.75"/>
<line x1="494.7" y1="67.4" x2="504.5" y2="67.4" stroke="#1d3f66" stroke-width="0.75"/>
<line x1="494.7" y1="72.2" x2="504.5" y2="72.2" stroke="#1d3f66" stroke-width="0.75"/>
<rect x="494.7" y="34.4" width="9.8" height="23" fill="none" stroke="#666" stroke-width="0.9"/>
<rect x="494.7" y="57.4" width="9.8" height="28.2" fill="none" stroke="#666" stroke-width="0.9"/>
<rect x="507.35" y="52.2" width="9.8" height="5.2" fill="#f8b39b"/>
<rect x="507.35" y="39.1" width="9.8" height="13.1" fill="#eb4236"/>
<rect x="507.35" y="34.4" width="9.8" height="4.7" fill="url(#pC)"/>
<rect x="507.35" y="57.4" width="9.8" height="10" fill="#a6bbe3"/>
<rect x="507.35" y="67.4" width="9.8" height="2.4" fill="#2a78ba"/>
<rect x="507.35" y="69.8" width="9.8" height="15.8" fill="url(#nC)"/>
<line x1="507.35" y1="52.2" x2="517.15" y2="52.2" stroke="#6a1a14" stroke-width="0.75"/>
<line x1="507.35" y1="39.1" x2="517.15" y2="39.1" stroke="#6a1a14" stroke-width="0.75"/>
<line x1="507.35" y1="67.4" x2="517.15" y2="67.4" stroke="#1d3f66" stroke-width="0.75"/>
<line x1="507.35" y1="69.8" x2="517.15" y2="69.8" stroke="#1d3f66" stroke-width="0.75"/>
<rect x="507.35" y="34.4" width="9.8" height="23" fill="none" stroke="#666" stroke-width="0.9"/>
<rect x="507.35" y="57.4" width="9.8" height="28.2" fill="none" stroke="#666" stroke-width="0.9"/>
<rect x="520" y="49.6" width="9.8" height="7.8" fill="#f8b39b"/>
<rect x="520" y="41.7" width="9.8" height="7.9" fill="#eb4236"/>
<rect x="520" y="29.6" width="9.8" height="12.1" fill="url(#pC)"/>
<rect x="520" y="57.4" width="9.8" height="7.4" fill="#a6bbe3"/>
<rect x="520" y="64.8" width="9.8" height="7.4" fill="#2a78ba"/>
<rect x="520" y="72.2" width="9.8" height="7.9" fill="url(#nC)"/>
<line x1="520" y1="49.6" x2="529.8" y2="49.6" stroke="#6a1a14" stroke-width="0.75"/>
<line x1="520" y1="41.7" x2="529.8" y2="41.7" stroke="#6a1a14" stroke-width="0.75"/>
<line x1="520" y1="64.8" x2="529.8" y2="64.8" stroke="#1d3f66" stroke-width="0.75"/>
<line x1="520" y1="72.2" x2="529.8" y2="72.2" stroke="#1d3f66" stroke-width="0.75"/>
<rect x="520" y="29.6" width="9.8" height="27.8" fill="none" stroke="#666" stroke-width="0.9"/>
<rect x="520" y="57.4" width="9.8" height="22.7" fill="none" stroke="#666" stroke-width="0.9"/>
<rect x="532.65" y="44.3" width="9.8" height="13.1" fill="#f8b39b"/>
<rect x="532.65" y="29.2" width="9.8" height="15.1" fill="#eb4236"/>
<rect x="532.65" y="8.7" width="9.8" height="20.5" fill="url(#pC)"/>
<rect x="532.65" y="57.4" width="9.8" height="2.1" fill="#a6bbe3"/>
<line x1="532.65" y1="44.3" x2="542.45" y2="44.3" stroke="#6a1a14" stroke-width="0.75"/>
<line x1="532.65" y1="29.2" x2="542.45" y2="29.2" stroke="#6a1a14" stroke-width="0.75"/>
<rect x="532.65" y="8.7" width="9.8" height="48.7" fill="none" stroke="#666" stroke-width="0.9"/>
<rect x="532.65" y="57.4" width="9.8" height="2.1" fill="none" stroke="#666" stroke-width="0.9"/>
<rect x="545.3" y="52.2" width="9.8" height="5.2" fill="#f8b39b"/>
<rect x="545.3" y="49.6" width="9.8" height="2.6" fill="#eb4236"/>
<rect x="545.3" y="44.3" width="9.8" height="5.3" fill="url(#pC)"/>
<rect x="545.3" y="57.4" width="9.8" height="10" fill="#a6bbe3"/>
<rect x="545.3" y="67.4" width="9.8" height="12.7" fill="#2a78ba"/>
<rect x="545.3" y="80.1" width="9.8" height="15" fill="url(#nC)"/>
<line x1="545.3" y1="52.2" x2="555.1" y2="52.2" stroke="#6a1a14" stroke-width="0.75"/>
<line x1="545.3" y1="49.6" x2="555.1" y2="49.6" stroke="#6a1a14" stroke-width="0.75"/>
<line x1="545.3" y1="67.4" x2="555.1" y2="67.4" stroke="#1d3f66" stroke-width="0.75"/>
<line x1="545.3" y1="80.1" x2="555.1" y2="80.1" stroke="#1d3f66" stroke-width="0.75"/>
<rect x="545.3" y="44.3" width="9.8" height="13.1" fill="none" stroke="#666" stroke-width="0.9"/>
<rect x="545.3" y="57.4" width="9.8" height="37.7" fill="none" stroke="#666" stroke-width="0.9"/>
<rect x="557.95" y="41.7" width="9.8" height="15.7" fill="#f8b39b"/>
<rect x="557.95" y="29.2" width="9.8" height="12.5" fill="#eb4236"/>
<rect x="557.95" y="8.7" width="9.8" height="20.5" fill="url(#pC)"/>
<rect x="557.95" y="57.4" width="9.8" height="2.1" fill="#2a78ba"/>
<line x1="557.95" y1="41.7" x2="567.75" y2="41.7" stroke="#6a1a14" stroke-width="0.75"/>
<line x1="557.95" y1="29.2" x2="567.75" y2="29.2" stroke="#6a1a14" stroke-width="0.75"/>
<rect x="557.95" y="8.7" width="9.8" height="48.7" fill="none" stroke="#666" stroke-width="0.9"/>
<rect x="557.95" y="57.4" width="9.8" height="2.1" fill="none" stroke="#666" stroke-width="0.9"/>
<polyline points="424.1,41.7 436.4,49.6 448.6,57.4 461.7,57.4 474.6,13.9 487.2,56.5 500,9.6 512.4,49.6 525.2,6.2 537.6,6.2 550.5,56.5 563.5,6.2" fill="none" stroke="#111" stroke-width="1.3" stroke-linejoin="miter" stroke-miterlimit="10"/>
<text x="414.70" y="104.60" font-size="9.7" textLength="73.40" lengthAdjust="spacingAndGlyphs" class="t">Northeast (n = 20)</text>
<text x="408.9" y="7.7" font-size="9.2" text-anchor="end" textLength="14.25" lengthAdjust="spacingAndGlyphs" class="t">100</text>
<text x="408.9" y="33.1" font-size="9.2" text-anchor="end" textLength="9.50" lengthAdjust="spacingAndGlyphs" class="t">50</text>
<text x="408.9" y="60.3" font-size="9.2" text-anchor="end" textLength="4.75" lengthAdjust="spacingAndGlyphs" class="t">0</text>
<text x="408.9" y="84.6" font-size="9.2" text-anchor="end" textLength="9.50" lengthAdjust="spacingAndGlyphs" class="t">50</text>
<text x="408.9" y="108.9" font-size="9.2" text-anchor="end" textLength="14.25" lengthAdjust="spacingAndGlyphs" class="t">100</text>
<text x="425.1" y="116.3" font-size="8.4" text-anchor="middle" class="m">J</text>
<text x="437.2" y="116.3" font-size="8.4" text-anchor="middle" class="m">F</text>
<text x="450" y="116.3" font-size="8.4" text-anchor="middle" class="m">M</text>
<text x="463.2" y="116.3" font-size="8.4" text-anchor="middle" class="m">A</text>
<text x="476.2" y="116.3" font-size="8.4" text-anchor="middle" class="m">M</text>
<text x="488.3" y="116.3" font-size="8.4" text-anchor="middle" class="m">J</text>
<text x="498.2" y="116.3" font-size="8.4" text-anchor="middle" class="m">J</text>
<text x="512" y="116.3" font-size="8.4" text-anchor="middle" class="m">A</text>
<text x="524.5" y="116.3" font-size="8.4" text-anchor="middle" class="m">S</text>
<text x="536.9" y="116.3" font-size="8.4" text-anchor="middle" class="m">O</text>
<text x="549.5" y="116.3" font-size="8.4" text-anchor="middle" class="m">N</text>
<text x="562.6" y="116.3" font-size="8.4" text-anchor="middle" class="m">D</text>
<line x1="46.6" y1="123.8" x2="46.6" y2="225" stroke="#8a8a8a" stroke-width="1.05"/>
<line x1="210.3" y1="123.8" x2="210.3" y2="225" stroke="#6a6a6a" stroke-width="1.05"/>
<line x1="46.1" y1="123.8" x2="210.8" y2="123.8" stroke="#7a7a7a" stroke-width="1.05"/>
<line x1="46.1" y1="225" x2="210.8" y2="225" stroke="#8a8a8a" stroke-width="1.05"/>
<line x1="46.6" y1="174.5" x2="210.3" y2="174.5" stroke="#7d7d7d" stroke-width="1"/>
<line x1="45.1" y1="149.15" x2="47.6" y2="149.15" stroke="#7d7d7d" stroke-width="0.8"/>
<line x1="208.3" y1="149.15" x2="210.3" y2="149.15" stroke="#7d7d7d" stroke-width="0.8"/>
<line x1="45.1" y1="199.75" x2="47.6" y2="199.75" stroke="#7d7d7d" stroke-width="0.8"/>
<line x1="208.3" y1="199.75" x2="210.3" y2="199.75" stroke="#7d7d7d" stroke-width="0.8"/>
<rect x="54.8" y="154.3" width="9.8" height="20.2" fill="#f8b39b"/>
<rect x="54.8" y="146.6" width="9.8" height="7.7" fill="#eb4236"/>
<rect x="54.8" y="140.8" width="9.8" height="5.8" fill="url(#pC)"/>
<rect x="54.8" y="135.4" width="9.8" height="5.4" fill="url(#xo36)"/>
<rect x="54.8" y="129.2" width="9.8" height="6.2" fill="url(#xo37)"/>
<rect x="54.8" y="174.5" width="9.8" height="5.8" fill="#2a78ba"/>
<line x1="54.8" y1="154.3" x2="64.6" y2="154.3" stroke="#6a1a14" stroke-width="0.75"/>
<line x1="54.8" y1="146.6" x2="64.6" y2="146.6" stroke="#6a1a14" stroke-width="0.75"/>
<line x1="54.8" y1="140.8" x2="64.6" y2="140.8" stroke="#606060" stroke-width="0.75"/>
<line x1="54.8" y1="135.4" x2="64.6" y2="135.4" stroke="#606060" stroke-width="0.75"/>
<rect x="54.8" y="129.2" width="9.8" height="45.3" fill="none" stroke="#666" stroke-width="0.9"/>
<rect x="54.8" y="174.5" width="9.8" height="5.8" fill="none" stroke="#666" stroke-width="0.9"/>
<rect x="67.4" y="154.3" width="9.8" height="20.2" fill="#f8b39b"/>
<rect x="67.4" y="140.3" width="9.8" height="14" fill="#eb4236"/>
<rect x="67.4" y="135.4" width="9.8" height="4.9" fill="url(#pC)"/>
<rect x="67.4" y="130" width="9.8" height="5.4" fill="url(#xo38)"/>
<rect x="67.4" y="124.8" width="9.8" height="5.2" fill="url(#xo39)"/>
<line x1="67.4" y1="154.3" x2="77.2" y2="154.3" stroke="#6a1a14" stroke-width="0.75"/>
<line x1="67.4" y1="140.3" x2="77.2" y2="140.3" stroke="#6a1a14" stroke-width="0.75"/>
<line x1="67.4" y1="135.4" x2="77.2" y2="135.4" stroke="#606060" stroke-width="0.75"/>
<line x1="67.4" y1="130" x2="77.2" y2="130" stroke="#606060" stroke-width="0.75"/>
<rect x="67.4" y="124.8" width="9.8" height="49.7" fill="none" stroke="#666" stroke-width="0.9"/>
<rect x="80" y="157.4" width="9.8" height="17.1" fill="#f8b39b"/>
<rect x="80" y="143" width="9.8" height="14.4" fill="#eb4236"/>
<rect x="80" y="138.1" width="9.8" height="4.9" fill="url(#pC)"/>
<rect x="80" y="132.2" width="9.8" height="5.9" fill="url(#xo40)"/>
<rect x="80" y="174.5" width="9.8" height="2.6" fill="#a6bbe3"/>
<rect x="80" y="177.1" width="9.8" height="5.8" fill="url(#sp41)"/>
<line x1="80" y1="157.4" x2="89.8" y2="157.4" stroke="#6a1a14" stroke-width="0.75"/>
<line x1="80" y1="143" x2="89.8" y2="143" stroke="#6a1a14" stroke-width="0.75"/>
<line x1="80" y1="138.1" x2="89.8" y2="138.1" stroke="#606060" stroke-width="0.75"/>
<line x1="80" y1="177.1" x2="89.8" y2="177.1" stroke="#5a6f98" stroke-width="0.75"/>
<rect x="80" y="132.2" width="9.8" height="42.3" fill="none" stroke="#666" stroke-width="0.9"/>
<rect x="80" y="174.5" width="9.8" height="8.4" fill="none" stroke="#666" stroke-width="0.9"/>
<rect x="92.6" y="157.5" width="9.8" height="17" fill="#f8b39b"/>
<rect x="92.6" y="154.8" width="9.8" height="2.7" fill="#eb4236"/>
<rect x="92.6" y="149.4" width="9.8" height="5.4" fill="url(#pC)"/>
<rect x="92.6" y="143.5" width="9.8" height="5.9" fill="url(#xo42)"/>
<rect x="92.6" y="138" width="9.8" height="5.5" fill="url(#xo43)"/>
<rect x="92.6" y="174.5" width="9.8" height="2.6" fill="#a6bbe3"/>
<rect x="92.6" y="177.1" width="9.8" height="11.6" fill="#2a78ba"/>
<line x1="92.6" y1="157.5" x2="102.4" y2="157.5" stroke="#6a1a14" stroke-width="0.75"/>
<line x1="92.6" y1="154.8" x2="102.4" y2="154.8" stroke="#6a1a14" stroke-width="0.75"/>
<line x1="92.6" y1="149.4" x2="102.4" y2="149.4" stroke="#606060" stroke-width="0.75"/>
<line x1="92.6" y1="143.5" x2="102.4" y2="143.5" stroke="#606060" stroke-width="0.75"/>
<line x1="92.6" y1="177.1" x2="102.4" y2="177.1" stroke="#1d3f66" stroke-width="0.75"/>
<rect x="92.6" y="138" width="9.8" height="36.5" fill="none" stroke="#666" stroke-width="0.9"/>
<rect x="92.6" y="174.5" width="9.8" height="14.2" fill="none" stroke="#666" stroke-width="0.9"/>
<rect x="105.2" y="166" width="9.8" height="8.5" fill="#f8b39b"/>
<rect x="105.2" y="163" width="9.8" height="3" fill="url(#pC)"/>
<rect x="105.2" y="157" width="9.8" height="6" fill="#ffffff"/>
<rect x="105.2" y="154.6" width="9.8" height="2.4" fill="url(#xo44)"/>
<rect x="105.2" y="174.5" width="9.8" height="11" fill="#a6bbe3"/>
<rect x="105.2" y="185.5" width="9.8" height="14" fill="#2a78ba"/>
<rect x="105.2" y="199.5" width="9.8" height="3.5" fill="url(#nC)"/>
<rect x="105.2" y="203" width="9.8" height="2.6" fill="url(#nO)"/>
<line x1="105.2" y1="166" x2="115" y2="166" stroke="#9a5a4a" stroke-width="0.75"/>
<line x1="105.2" y1="163" x2="115" y2="163" stroke="#606060" stroke-width="0.75"/>
<line x1="105.2" y1="157" x2="115" y2="157" stroke="#606060" stroke-width="0.75"/>
<line x1="105.2" y1="185.5" x2="115" y2="185.5" stroke="#1d3f66" stroke-width="0.75"/>
<line x1="105.2" y1="199.5" x2="115" y2="199.5" stroke="#1d3f66" stroke-width="0.75"/>
<line x1="105.2" y1="203" x2="115" y2="203" stroke="#555" stroke-width="0.75"/>
<rect x="105.2" y="154.6" width="9.8" height="19.9" fill="none" stroke="#666" stroke-width="0.9"/>
<rect x="105.2" y="174.5" width="9.8" height="31.1" fill="none" stroke="#666" stroke-width="0.9"/>
<rect x="117.8" y="157.6" width="9.8" height="16.9" fill="#f8b39b"/>
<rect x="117.8" y="146.1" width="9.8" height="11.5" fill="#eb4236"/>
<rect x="117.8" y="140.4" width="9.8" height="5.7" fill="url(#pC)"/>
<rect x="117.8" y="137" width="9.8" height="3.4" fill="url(#xo45)"/>
<rect x="117.8" y="135.3" width="9.8" height="1.7" fill="url(#xo46)"/>
<rect x="117.8" y="174.5" width="9.8" height="2.6" fill="#a6bbe3"/>
<rect x="117.8" y="177.1" width="9.8" height="2.9" fill="#2a78ba"/>
<rect x="117.8" y="180" width="9.8" height="5.5" fill="url(#nO)"/>
<line x1="117.8" y1="157.6" x2="127.6" y2="157.6" stroke="#6a1a14" stroke-width="0.75"/>
<line x1="117.8" y1="146.1" x2="127.6" y2="146.1" stroke="#6a1a14" stroke-width="0.75"/>
<line x1="117.8" y1="140.4" x2="127.6" y2="140.4" stroke="#606060" stroke-width="0.75"/>
<line x1="117.8" y1="137" x2="127.6" y2="137" stroke="#606060" stroke-width="0.75"/>
<line x1="117.8" y1="177.1" x2="127.6" y2="177.1" stroke="#1d3f66" stroke-width="0.75"/>
<line x1="117.8" y1="180" x2="127.6" y2="180" stroke="#1d3f66" stroke-width="0.75"/>
<rect x="117.8" y="135.3" width="9.8" height="39.2" fill="none" stroke="#666" stroke-width="0.9"/>
<rect x="117.8" y="174.5" width="9.8" height="11" fill="none" stroke="#666" stroke-width="0.9"/>
<rect x="130.4" y="157.6" width="9.8" height="16.9" fill="#f8b39b"/>
<rect x="130.4" y="146.1" width="9.8" height="11.5" fill="#eb4236"/>
<rect x="130.4" y="139.3" width="9.8" height="6.8" fill="url(#pC)"/>
<rect x="130.4" y="132.4" width="9.8" height="6.9" fill="url(#xo47)"/>
<rect x="130.4" y="174.5" width="9.8" height="1.6" fill="#a6bbe3"/>
<rect x="130.4" y="176.1" width="9.8" height="3.1" fill="#2a78ba"/>
<rect x="130.4" y="179.2" width="9.8" height="3.4" fill="#ffffff"/>
<line x1="130.4" y1="157.6" x2="140.2" y2="157.6" stroke="#6a1a14" stroke-width="0.75"/>
<line x1="130.4" y1="146.1" x2="140.2" y2="146.1" stroke="#6a1a14" stroke-width="0.75"/>
<line x1="130.4" y1="139.3" x2="140.2" y2="139.3" stroke="#606060" stroke-width="0.75"/>
<line x1="130.4" y1="176.1" x2="140.2" y2="176.1" stroke="#1d3f66" stroke-width="0.75"/>
<line x1="130.4" y1="179.2" x2="140.2" y2="179.2" stroke="#1d3f66" stroke-width="0.75"/>
<rect x="130.4" y="132.4" width="9.8" height="42.1" fill="none" stroke="#666" stroke-width="0.9"/>
<rect x="130.4" y="174.5" width="9.8" height="8.1" fill="none" stroke="#666" stroke-width="0.9"/>
<rect x="143" y="163" width="9.8" height="11.5" fill="#f8b39b"/>
<rect x="143" y="152.2" width="9.8" height="10.8" fill="#eb4236"/>
<rect x="143" y="146.4" width="9.8" height="5.8" fill="url(#pC)"/>
<rect x="143" y="142.7" width="9.8" height="3.7" fill="url(#xo48)"/>
<rect x="143" y="138.2" width="9.8" height="4.5" fill="url(#xo49)"/>
<rect x="143" y="174.5" width="9.8" height="8.8" fill="#a6bbe3"/>
<rect x="143" y="183.3" width="9.8" height="2" fill="#2a78ba"/>
<rect x="143" y="185.3" width="9.8" height="3" fill="url(#nO)"/>
<line x1="143" y1="163" x2="152.8" y2="163" stroke="#6a1a14" stroke-width="0.75"/>
<line x1="143" y1="152.2" x2="152.8" y2="152.2" stroke="#6a1a14" stroke-width="0.75"/>
<line x1="143" y1="146.4" x2="152.8" y2="146.4" stroke="#606060" stroke-width="0.75"/>
<line x1="143" y1="142.7" x2="152.8" y2="142.7" stroke="#606060" stroke-width="0.75"/>
<line x1="143" y1="183.3" x2="152.8" y2="183.3" stroke="#1d3f66" stroke-width="0.75"/>
<line x1="143" y1="185.3" x2="152.8" y2="185.3" stroke="#1d3f66" stroke-width="0.75"/>
<rect x="143" y="138.2" width="9.8" height="36.3" fill="none" stroke="#666" stroke-width="0.9"/>
<rect x="143" y="174.5" width="9.8" height="13.8" fill="none" stroke="#666" stroke-width="0.9"/>
<rect x="155.6" y="160.5" width="9.8" height="14" fill="#f8b39b"/>
<rect x="155.6" y="152.1" width="9.8" height="8.4" fill="#eb4236"/>
<rect x="155.6" y="149.2" width="9.8" height="2.9" fill="url(#pC)"/>
<rect x="155.6" y="146.5" width="9.8" height="2.7" fill="url(#xo50)"/>
<rect x="155.6" y="174.5" width="9.8" height="5.7" fill="#a6bbe3"/>
<rect x="155.6" y="180.2" width="9.8" height="5.1" fill="#2a78ba"/>
<rect x="155.6" y="185.3" width="9.8" height="3" fill="url(#nC)"/>
<rect x="155.6" y="188.3" width="9.8" height="7.2" fill="url(#sp51)"/>
<rect x="155.6" y="195.5" width="9.8" height="1.4" fill="url(#nO)"/>
<line x1="155.6" y1="160.5" x2="165.4" y2="160.5" stroke="#6a1a14" stroke-width="0.75"/>
<line x1="155.6" y1="152.1" x2="165.4" y2="152.1" stroke="#6a1a14" stroke-width="0.75"/>
<line x1="155.6" y1="149.2" x2="165.4" y2="149.2" stroke="#606060" stroke-width="0.75"/>
<line x1="155.6" y1="180.2" x2="165.4" y2="180.2" stroke="#1d3f66" stroke-width="0.75"/>
<line x1="155.6" y1="185.3" x2="165.4" y2="185.3" stroke="#1d3f66" stroke-width="0.75"/>
<line x1="155.6" y1="188.3" x2="165.4" y2="188.3" stroke="#555" stroke-width="0.75"/>
<line x1="155.6" y1="195.5" x2="165.4" y2="195.5" stroke="#555" stroke-width="0.75"/>
<rect x="155.6" y="146.5" width="9.8" height="28" fill="none" stroke="#666" stroke-width="0.9"/>
<rect x="155.6" y="174.5" width="9.8" height="22.4" fill="none" stroke="#666" stroke-width="0.9"/>
<rect x="168.2" y="168.7" width="9.8" height="5.8" fill="#f8b39b"/>
<rect x="168.2" y="160.2" width="9.8" height="8.5" fill="#eb4236"/>
<rect x="168.2" y="157.4" width="9.8" height="2.8" fill="url(#pC)"/>
<rect x="168.2" y="154.6" width="9.8" height="2.8" fill="url(#xo52)"/>
<rect x="168.2" y="174.5" width="9.8" height="13.8" fill="#a6bbe3"/>
<rect x="168.2" y="188.3" width="9.8" height="5.1" fill="#2a78ba"/>
<rect x="168.2" y="193.4" width="9.8" height="4.1" fill="url(#nC)"/>
<rect x="168.2" y="197.5" width="9.8" height="6.1" fill="url(#sp53)"/>
<rect x="168.2" y="203.6" width="9.8" height="2" fill="url(#nO)"/>
<line x1="168.2" y1="168.7" x2="178" y2="168.7" stroke="#6a1a14" stroke-width="0.75"/>
<line x1="168.2" y1="160.2" x2="178" y2="160.2" stroke="#6a1a14" stroke-width="0.75"/>
<line x1="168.2" y1="157.4" x2="178" y2="157.4" stroke="#606060" stroke-width="0.75"/>
<line x1="168.2" y1="188.3" x2="178" y2="188.3" stroke="#1d3f66" stroke-width="0.75"/>
<line x1="168.2" y1="193.4" x2="178" y2="193.4" stroke="#1d3f66" stroke-width="0.75"/>
<line x1="168.2" y1="197.5" x2="178" y2="197.5" stroke="#555" stroke-width="0.75"/>
<line x1="168.2" y1="203.6" x2="178" y2="203.6" stroke="#555" stroke-width="0.75"/>
<rect x="168.2" y="154.6" width="9.8" height="19.9" fill="none" stroke="#666" stroke-width="0.9"/>
<rect x="168.2" y="174.5" width="9.8" height="31.1" fill="none" stroke="#666" stroke-width="0.9"/>
<rect x="180.8" y="160.5" width="9.8" height="14" fill="#f8b39b"/>
<rect x="180.8" y="152.1" width="9.8" height="8.4" fill="#eb4236"/>
<rect x="180.8" y="146.1" width="9.8" height="6" fill="url(#pC)"/>
<rect x="180.8" y="139.9" width="9.8" height="6.2" fill="url(#xo54)"/>
<rect x="180.8" y="137.6" width="9.8" height="2.3" fill="url(#xo55)"/>
<rect x="180.8" y="174.5" width="9.8" height="5.7" fill="#a6bbe3"/>
<rect x="180.8" y="180.2" width="9.8" height="4.1" fill="#2a78ba"/>
<rect x="180.8" y="184.3" width="9.8" height="4" fill="url(#nO)"/>
<line x1="180.8" y1="160.5" x2="190.6" y2="160.5" stroke="#6a1a14" stroke-width="0.75"/>
<line x1="180.8" y1="152.1" x2="190.6" y2="152.1" stroke="#6a1a14" stroke-width="0.75"/>
<line x1="180.8" y1="146.1" x2="190.6" y2="146.1" stroke="#606060" stroke-width="0.75"/>
<line x1="180.8" y1="139.9" x2="190.6" y2="139.9" stroke="#606060" stroke-width="0.75"/>
<line x1="180.8" y1="180.2" x2="190.6" y2="180.2" stroke="#1d3f66" stroke-width="0.75"/>
<line x1="180.8" y1="184.3" x2="190.6" y2="184.3" stroke="#1d3f66" stroke-width="0.75"/>
<rect x="180.8" y="137.6" width="9.8" height="36.9" fill="none" stroke="#666" stroke-width="0.9"/>
<rect x="180.8" y="174.5" width="9.8" height="13.8" fill="none" stroke="#666" stroke-width="0.9"/>
<rect x="193.4" y="168.7" width="9.8" height="5.8" fill="#f8b39b"/>
<rect x="193.4" y="163.1" width="9.8" height="5.6" fill="#eb4236"/>
<rect x="193.4" y="160.2" width="9.8" height="2.9" fill="url(#pC)"/>
<rect x="193.4" y="174.5" width="9.8" height="13.4" fill="#a6bbe3"/>
<rect x="193.4" y="187.9" width="9.8" height="8.6" fill="#2a78ba"/>
<rect x="193.4" y="196.5" width="9.8" height="5.1" fill="url(#nC)"/>
<rect x="193.4" y="201.6" width="9.8" height="7.1" fill="url(#sp56)"/>
<rect x="193.4" y="208.7" width="9.8" height="2.4" fill="url(#nO)"/>
<line x1="193.4" y1="168.7" x2="203.2" y2="168.7" stroke="#6a1a14" stroke-width="0.75"/>
<line x1="193.4" y1="163.1" x2="203.2" y2="163.1" stroke="#6a1a14" stroke-width="0.75"/>
<line x1="193.4" y1="187.9" x2="203.2" y2="187.9" stroke="#1d3f66" stroke-width="0.75"/>
<line x1="193.4" y1="196.5" x2="203.2" y2="196.5" stroke="#1d3f66" stroke-width="0.75"/>
<line x1="193.4" y1="201.6" x2="203.2" y2="201.6" stroke="#555" stroke-width="0.75"/>
<line x1="193.4" y1="208.7" x2="203.2" y2="208.7" stroke="#555" stroke-width="0.75"/>
<rect x="193.4" y="160.2" width="9.8" height="14.3" fill="none" stroke="#666" stroke-width="0.9"/>
<rect x="193.4" y="174.5" width="9.8" height="36.6" fill="none" stroke="#666" stroke-width="0.9"/>
<polyline points="59.2,124.3 73,124.3 83.6,127 96,124.3 108.5,127 120.5,124.3 133.2,124.3 146,124.3 159,138 171.2,130.5 183.5,124.3 197,132.6" fill="none" stroke="#111" stroke-width="1.3" stroke-linejoin="miter" stroke-miterlimit="10"/>
<text x="49.70" y="223.00" font-size="9.7" textLength="72.50" lengthAdjust="spacingAndGlyphs" class="t">California (n = 18)</text>
<text x="43" y="127.8" font-size="9.2" text-anchor="end" textLength="14.25" lengthAdjust="spacingAndGlyphs" class="t">100</text>
<text x="43" y="153" font-size="9.2" text-anchor="end" textLength="9.50" lengthAdjust="spacingAndGlyphs" class="t">50</text>
<text x="43" y="179.8" font-size="9.2" text-anchor="end" textLength="4.75" lengthAdjust="spacingAndGlyphs" class="t">0</text>
<text x="43" y="204.4" font-size="9.2" text-anchor="end" textLength="9.50" lengthAdjust="spacingAndGlyphs" class="t">50</text>
<text x="43" y="229.3" font-size="9.2" text-anchor="end" textLength="14.25" lengthAdjust="spacingAndGlyphs" class="t">100</text>
<text x="61.1" y="236.1" font-size="8.4" text-anchor="middle" class="m">J</text>
<text x="73.2" y="236.1" font-size="8.4" text-anchor="middle" class="m">F</text>
<text x="86" y="236.1" font-size="8.4" text-anchor="middle" class="m">M</text>
<text x="99.2" y="236.1" font-size="8.4" text-anchor="middle" class="m">A</text>
<text x="112.2" y="236.1" font-size="8.4" text-anchor="middle" class="m">M</text>
<text x="124.3" y="236.1" font-size="8.4" text-anchor="middle" class="m">J</text>
<text x="134.2" y="236.1" font-size="8.4" text-anchor="middle" class="m">J</text>
<text x="148" y="236.1" font-size="8.4" text-anchor="middle" class="m">A</text>
<text x="160.5" y="236.1" font-size="8.4" text-anchor="middle" class="m">S</text>
<text x="172.9" y="236.1" font-size="8.4" text-anchor="middle" class="m">O</text>
<text x="185.5" y="236.1" font-size="8.4" text-anchor="middle" class="m">N</text>
<text x="198.6" y="236.1" font-size="8.4" text-anchor="middle" class="m">D</text>
<line x1="229.3" y1="126" x2="229.3" y2="225.8" stroke="#8a8a8a" stroke-width="1.05"/>
<line x1="392.2" y1="126" x2="392.2" y2="225.8" stroke="#6a6a6a" stroke-width="1.05"/>
<line x1="228.8" y1="126" x2="392.7" y2="126" stroke="#7a7a7a" stroke-width="1.05"/>
<line x1="228.8" y1="225.8" x2="392.7" y2="225.8" stroke="#8a8a8a" stroke-width="1.05"/>
<line x1="229.3" y1="176.1" x2="392.2" y2="176.1" stroke="#7d7d7d" stroke-width="1"/>
<line x1="227.8" y1="151.05" x2="230.3" y2="151.05" stroke="#7d7d7d" stroke-width="0.8"/>
<line x1="390.2" y1="151.05" x2="392.2" y2="151.05" stroke="#7d7d7d" stroke-width="0.8"/>
<line x1="227.8" y1="200.95" x2="230.3" y2="200.95" stroke="#7d7d7d" stroke-width="0.8"/>
<line x1="390.2" y1="200.95" x2="392.2" y2="200.95" stroke="#7d7d7d" stroke-width="0.8"/>
<rect x="237" y="167.9" width="9.8" height="8.2" fill="#eb4236"/>
<rect x="237" y="164.6" width="9.8" height="3.3" fill="url(#pC)"/>
<rect x="237" y="162.4" width="9.8" height="2.2" fill="url(#sp57)"/>
<rect x="237" y="176.1" width="9.8" height="28.6" fill="#a6bbe3"/>
<rect x="237" y="204.7" width="9.8" height="2.4" fill="#2a78ba"/>
<rect x="237" y="207.1" width="9.8" height="2.6" fill="url(#nC)"/>
<rect x="237" y="209.7" width="9.8" height="3.1" fill="url(#sp58)"/>
<line x1="237" y1="167.9" x2="246.8" y2="167.9" stroke="#6a1a14" stroke-width="0.75"/>
<line x1="237" y1="164.6" x2="246.8" y2="164.6" stroke="#606060" stroke-width="0.75"/>
<line x1="237" y1="204.7" x2="246.8" y2="204.7" stroke="#1d3f66" stroke-width="0.75"/>
<line x1="237" y1="207.1" x2="246.8" y2="207.1" stroke="#1d3f66" stroke-width="0.75"/>
<line x1="237" y1="209.7" x2="246.8" y2="209.7" stroke="#555" stroke-width="0.75"/>
<rect x="237" y="162.4" width="9.8" height="13.7" fill="none" stroke="#666" stroke-width="0.9"/>
<rect x="237" y="176.1" width="9.8" height="36.7" fill="none" stroke="#666" stroke-width="0.9"/>
<rect x="249.62" y="165.5" width="9.8" height="10.6" fill="#f8b39b"/>
<rect x="249.62" y="163.1" width="9.8" height="2.4" fill="#eb4236"/>
<rect x="249.62" y="156.9" width="9.8" height="6.2" fill="url(#pC)"/>
<rect x="249.62" y="154.5" width="9.8" height="2.4" fill="url(#sp59)"/>
<rect x="249.62" y="176.1" width="9.8" height="18" fill="#a6bbe3"/>
<rect x="249.62" y="194.1" width="9.8" height="8.1" fill="#2a78ba"/>
<rect x="249.62" y="202.2" width="9.8" height="2.9" fill="#ffffff"/>
<line x1="249.62" y1="165.5" x2="259.42" y2="165.5" stroke="#6a1a14" stroke-width="0.75"/>
<line x1="249.62" y1="163.1" x2="259.42" y2="163.1" stroke="#6a1a14" stroke-width="0.75"/>
<line x1="249.62" y1="156.9" x2="259.42" y2="156.9" stroke="#606060" stroke-width="0.75"/>
<line x1="249.62" y1="194.1" x2="259.42" y2="194.1" stroke="#1d3f66" stroke-width="0.75"/>
<line x1="249.62" y1="202.2" x2="259.42" y2="202.2" stroke="#1d3f66" stroke-width="0.75"/>
<rect x="249.62" y="154.5" width="9.8" height="21.6" fill="none" stroke="#666" stroke-width="0.9"/>
<rect x="249.62" y="176.1" width="9.8" height="29" fill="none" stroke="#666" stroke-width="0.9"/>
<rect x="262.24" y="157.6" width="9.8" height="18.5" fill="#f8b39b"/>
<rect x="262.24" y="149.5" width="9.8" height="8.1" fill="#eb4236"/>
<rect x="262.24" y="144" width="9.8" height="5.5" fill="url(#pC)"/>
<rect x="262.24" y="138.9" width="9.8" height="5.1" fill="url(#sp60)"/>
<rect x="262.24" y="176.1" width="9.8" height="10.6" fill="#a6bbe3"/>
<rect x="262.24" y="186.7" width="9.8" height="2.7" fill="#2a78ba"/>
<line x1="262.24" y1="157.6" x2="272.04" y2="157.6" stroke="#6a1a14" stroke-width="0.75"/>
<line x1="262.24" y1="149.5" x2="272.04" y2="149.5" stroke="#6a1a14" stroke-width="0.75"/>
<line x1="262.24" y1="144" x2="272.04" y2="144" stroke="#606060" stroke-width="0.75"/>
<line x1="262.24" y1="186.7" x2="272.04" y2="186.7" stroke="#1d3f66" stroke-width="0.75"/>
<rect x="262.24" y="138.9" width="9.8" height="37.2" fill="none" stroke="#666" stroke-width="0.9"/>
<rect x="262.24" y="176.1" width="9.8" height="13.3" fill="none" stroke="#666" stroke-width="0.9"/>
<rect x="274.86" y="170.4" width="9.8" height="5.7" fill="#f8b39b"/>
<rect x="274.86" y="163.1" width="9.8" height="7.3" fill="#eb4236"/>
<rect x="274.86" y="160.5" width="9.8" height="2.6" fill="url(#pC)"/>
<rect x="274.86" y="157.6" width="9.8" height="2.9" fill="url(#sp61)"/>
<rect x="274.86" y="176.1" width="9.8" height="23.5" fill="#a6bbe3"/>
<rect x="274.86" y="199.6" width="9.8" height="3" fill="#2a78ba"/>
<rect x="274.86" y="202.6" width="9.8" height="2.1" fill="url(#nC)"/>
<rect x="274.86" y="204.7" width="9.8" height="2.4" fill="#ffffff"/>
<line x1="274.86" y1="170.4" x2="284.66" y2="170.4" stroke="#6a1a14" stroke-width="0.75"/>
<line x1="274.86" y1="163.1" x2="284.66" y2="163.1" stroke="#6a1a14" stroke-width="0.75"/>
<line x1="274.86" y1="160.5" x2="284.66" y2="160.5" stroke="#606060" stroke-width="0.75"/>
<line x1="274.86" y1="199.6" x2="284.66" y2="199.6" stroke="#1d3f66" stroke-width="0.75"/>
<line x1="274.86" y1="202.6" x2="284.66" y2="202.6" stroke="#1d3f66" stroke-width="0.75"/>
<line x1="274.86" y1="204.7" x2="284.66" y2="204.7" stroke="#555" stroke-width="0.75"/>
<rect x="274.86" y="157.6" width="9.8" height="18.5" fill="none" stroke="#666" stroke-width="0.9"/>
<rect x="274.86" y="176.1" width="9.8" height="31" fill="none" stroke="#666" stroke-width="0.9"/>
<rect x="287.48" y="168.2" width="9.8" height="7.9" fill="#f8b39b"/>
<rect x="287.48" y="165.5" width="9.8" height="2.7" fill="#eb4236"/>
<rect x="287.48" y="162.4" width="9.8" height="3.1" fill="url(#pC)"/>
<rect x="287.48" y="160" width="9.8" height="2.4" fill="url(#sp62)"/>
<rect x="287.48" y="176.1" width="9.8" height="21.4" fill="#a6bbe3"/>
<rect x="287.48" y="197.5" width="9.8" height="7.2" fill="#2a78ba"/>
<rect x="287.48" y="204.7" width="9.8" height="2" fill="url(#nC)"/>
<rect x="287.48" y="206.7" width="9.8" height="3.7" fill="#ffffff"/>
<line x1="287.48" y1="168.2" x2="297.28" y2="168.2" stroke="#6a1a14" stroke-width="0.75"/>
<line x1="287.48" y1="165.5" x2="297.28" y2="165.5" stroke="#6a1a14" stroke-width="0.75"/>
<line x1="287.48" y1="162.4" x2="297.28" y2="162.4" stroke="#606060" stroke-width="0.75"/>
<line x1="287.48" y1="197.5" x2="297.28" y2="197.5" stroke="#1d3f66" stroke-width="0.75"/>
<line x1="287.48" y1="204.7" x2="297.28" y2="204.7" stroke="#1d3f66" stroke-width="0.75"/>
<line x1="287.48" y1="206.7" x2="297.28" y2="206.7" stroke="#555" stroke-width="0.75"/>
<rect x="287.48" y="160" width="9.8" height="16.1" fill="none" stroke="#666" stroke-width="0.9"/>
<rect x="287.48" y="176.1" width="9.8" height="34.3" fill="none" stroke="#666" stroke-width="0.9"/>
<rect x="300.1" y="170.4" width="9.8" height="5.7" fill="#f8b39b"/>
<rect x="300.1" y="160" width="9.8" height="10.4" fill="#eb4236"/>
<rect x="300.1" y="154.5" width="9.8" height="5.5" fill="url(#pC)"/>
<rect x="300.1" y="152.1" width="9.8" height="2.4" fill="url(#sp63)"/>
<rect x="300.1" y="176.1" width="9.8" height="24.1" fill="#a6bbe3"/>
<rect x="300.1" y="200.2" width="9.8" height="0.8" fill="#2a78ba"/>
<rect x="300.1" y="201" width="9.8" height="1.2" fill="#ffffff"/>
<line x1="300.1" y1="170.4" x2="309.9" y2="170.4" stroke="#6a1a14" stroke-width="0.75"/>
<line x1="300.1" y1="160" x2="309.9" y2="160" stroke="#6a1a14" stroke-width="0.75"/>
<line x1="300.1" y1="154.5" x2="309.9" y2="154.5" stroke="#606060" stroke-width="0.75"/>
<line x1="300.1" y1="200.2" x2="309.9" y2="200.2" stroke="#1d3f66" stroke-width="0.75"/>
<line x1="300.1" y1="201" x2="309.9" y2="201" stroke="#1d3f66" stroke-width="0.75"/>
<rect x="300.1" y="152.1" width="9.8" height="24" fill="none" stroke="#666" stroke-width="0.9"/>
<rect x="300.1" y="176.1" width="9.8" height="26.1" fill="none" stroke="#666" stroke-width="0.9"/>
<rect x="312.72" y="173.4" width="9.8" height="2.7" fill="#f8b39b"/>
<rect x="312.72" y="164.9" width="9.8" height="8.5" fill="#eb4236"/>
<rect x="312.72" y="162" width="9.8" height="2.9" fill="url(#pC)"/>
<rect x="312.72" y="160.5" width="9.8" height="1.5" fill="url(#sp64)"/>
<rect x="312.72" y="176.1" width="9.8" height="26.5" fill="#a6bbe3"/>
<rect x="312.72" y="202.6" width="9.8" height="2" fill="#2a78ba"/>
<rect x="312.72" y="204.6" width="9.8" height="2.4" fill="url(#nC)"/>
<rect x="312.72" y="207" width="9.8" height="3.3" fill="url(#sp65)"/>
<line x1="312.72" y1="173.4" x2="322.52" y2="173.4" stroke="#6a1a14" stroke-width="0.75"/>
<line x1="312.72" y1="164.9" x2="322.52" y2="164.9" stroke="#6a1a14" stroke-width="0.75"/>
<line x1="312.72" y1="162" x2="322.52" y2="162" stroke="#606060" stroke-width="0.75"/>
<line x1="312.72" y1="202.6" x2="322.52" y2="202.6" stroke="#1d3f66" stroke-width="0.75"/>
<line x1="312.72" y1="204.6" x2="322.52" y2="204.6" stroke="#1d3f66" stroke-width="0.75"/>
<line x1="312.72" y1="207" x2="322.52" y2="207" stroke="#555" stroke-width="0.75"/>
<rect x="312.72" y="160.5" width="9.8" height="15.6" fill="none" stroke="#666" stroke-width="0.9"/>
<rect x="312.72" y="176.1" width="9.8" height="34.2" fill="none" stroke="#666" stroke-width="0.9"/>
<rect x="325.34" y="170.4" width="9.8" height="5.7" fill="#f8b39b"/>
<rect x="325.34" y="167.3" width="9.8" height="3.1" fill="#eb4236"/>
<rect x="325.34" y="164.9" width="9.8" height="2.4" fill="url(#sp66)"/>
<rect x="325.34" y="176.1" width="9.8" height="23.4" fill="#a6bbe3"/>
<rect x="325.34" y="199.5" width="9.8" height="8.2" fill="#2a78ba"/>
<rect x="325.34" y="207.7" width="9.8" height="5.5" fill="url(#nC)"/>
<rect x="325.34" y="213.2" width="9.8" height="2" fill="url(#sp67)"/>
<line x1="325.34" y1="170.4" x2="335.14" y2="170.4" stroke="#6a1a14" stroke-width="0.75"/>
<line x1="325.34" y1="167.3" x2="335.14" y2="167.3" stroke="#6a1a14" stroke-width="0.75"/>
<line x1="325.34" y1="199.5" x2="335.14" y2="199.5" stroke="#1d3f66" stroke-width="0.75"/>
<line x1="325.34" y1="207.7" x2="335.14" y2="207.7" stroke="#1d3f66" stroke-width="0.75"/>
<line x1="325.34" y1="213.2" x2="335.14" y2="213.2" stroke="#555" stroke-width="0.75"/>
<rect x="325.34" y="164.9" width="9.8" height="11.2" fill="none" stroke="#666" stroke-width="0.9"/>
<rect x="325.34" y="176.1" width="9.8" height="39.1" fill="none" stroke="#666" stroke-width="0.9"/>
<rect x="337.96" y="160.5" width="9.8" height="15.6" fill="#f8b39b"/>
<rect x="337.96" y="149.5" width="9.8" height="11" fill="#eb4236"/>
<rect x="337.96" y="144" width="9.8" height="5.5" fill="url(#pC)"/>
<rect x="337.96" y="138.9" width="9.8" height="5.1" fill="url(#sp68)"/>
<rect x="337.96" y="176.1" width="9.8" height="13.3" fill="#a6bbe3"/>
<line x1="337.96" y1="160.5" x2="347.76" y2="160.5" stroke="#6a1a14" stroke-width="0.75"/>
<line x1="337.96" y1="149.5" x2="347.76" y2="149.5" stroke="#6a1a14" stroke-width="0.75"/>
<line x1="337.96" y1="144" x2="347.76" y2="144" stroke="#606060" stroke-width="0.75"/>
<rect x="337.96" y="138.9" width="9.8" height="37.2" fill="none" stroke="#666" stroke-width="0.9"/>
<rect x="337.96" y="176.1" width="9.8" height="13.3" fill="none" stroke="#666" stroke-width="0.9"/>
<rect x="350.58" y="160.5" width="9.8" height="15.6" fill="#f8b39b"/>
<rect x="350.58" y="152.1" width="9.8" height="8.4" fill="#eb4236"/>
<rect x="350.58" y="147.1" width="9.8" height="5" fill="url(#pC)"/>
<rect x="350.58" y="141.6" width="9.8" height="5.5" fill="url(#sp69)"/>
<rect x="350.58" y="176.1" width="9.8" height="13.3" fill="#a6bbe3"/>
<rect x="350.58" y="189.4" width="9.8" height="2.6" fill="#2a78ba"/>
<line x1="350.58" y1="160.5" x2="360.38" y2="160.5" stroke="#6a1a14" stroke-width="0.75"/>
<line x1="350.58" y1="152.1" x2="360.38" y2="152.1" stroke="#6a1a14" stroke-width="0.75"/>
<line x1="350.58" y1="147.1" x2="360.38" y2="147.1" stroke="#606060" stroke-width="0.75"/>
<line x1="350.58" y1="189.4" x2="360.38" y2="189.4" stroke="#1d3f66" stroke-width="0.75"/>
<rect x="350.58" y="141.6" width="9.8" height="34.5" fill="none" stroke="#666" stroke-width="0.9"/>
<rect x="350.58" y="176.1" width="9.8" height="15.9" fill="none" stroke="#666" stroke-width="0.9"/>
<rect x="363.2" y="160.5" width="9.8" height="15.6" fill="#f8b39b"/>
<rect x="363.2" y="157.6" width="9.8" height="2.9" fill="#eb4236"/>
<rect x="363.2" y="154.5" width="9.8" height="3.1" fill="url(#pC)"/>
<rect x="363.2" y="149.5" width="9.8" height="5" fill="url(#sp70)"/>
<rect x="363.2" y="176.1" width="9.8" height="13.3" fill="#a6bbe3"/>
<rect x="363.2" y="189.4" width="9.8" height="8.1" fill="#2a78ba"/>
<rect x="363.2" y="197.5" width="9.8" height="2.6" fill="url(#nC)"/>
<line x1="363.2" y1="160.5" x2="373" y2="160.5" stroke="#6a1a14" stroke-width="0.75"/>
<line x1="363.2" y1="157.6" x2="373" y2="157.6" stroke="#6a1a14" stroke-width="0.75"/>
<line x1="363.2" y1="154.5" x2="373" y2="154.5" stroke="#606060" stroke-width="0.75"/>
<line x1="363.2" y1="189.4" x2="373" y2="189.4" stroke="#1d3f66" stroke-width="0.75"/>
<line x1="363.2" y1="197.5" x2="373" y2="197.5" stroke="#1d3f66" stroke-width="0.75"/>
<rect x="363.2" y="149.5" width="9.8" height="26.6" fill="none" stroke="#666" stroke-width="0.9"/>
<rect x="363.2" y="176.1" width="9.8" height="24" fill="none" stroke="#666" stroke-width="0.9"/>
<rect x="375.82" y="157.6" width="9.8" height="18.5" fill="#f8b39b"/>
<rect x="375.82" y="155" width="9.8" height="2.6" fill="#eb4236"/>
<rect x="375.82" y="149.5" width="9.8" height="5.5" fill="url(#pC)"/>
<rect x="375.82" y="176.1" width="9.8" height="10.6" fill="#a6bbe3"/>
<rect x="375.82" y="186.7" width="9.8" height="7.3" fill="#2a78ba"/>
<rect x="375.82" y="194" width="9.8" height="5.5" fill="url(#sp71)"/>
<line x1="375.82" y1="157.6" x2="385.62" y2="157.6" stroke="#6a1a14" stroke-width="0.75"/>
<line x1="375.82" y1="155" x2="385.62" y2="155" stroke="#6a1a14" stroke-width="0.75"/>
<line x1="375.82" y1="186.7" x2="385.62" y2="186.7" stroke="#1d3f66" stroke-width="0.75"/>
<line x1="375.82" y1="194" x2="385.62" y2="194" stroke="#1d3f66" stroke-width="0.75"/>
<rect x="375.82" y="149.5" width="9.8" height="26.6" fill="none" stroke="#666" stroke-width="0.9"/>
<rect x="375.82" y="176.1" width="9.8" height="23.4" fill="none" stroke="#666" stroke-width="0.9"/>
<polyline points="241.5,164.9 254.3,149.6 267,134.3 279.5,160 292.7,162.4 305.6,126.4 318,160 330.8,160 344.2,134.3 357.2,160 369.9,139.2 382.7,173.4" fill="none" stroke="#111" stroke-width="1.3" stroke-linejoin="miter" stroke-miterlimit="10"/>
<text x="234.20" y="223.00" font-size="9.7" textLength="71.90" lengthAdjust="spacingAndGlyphs" class="t">Arid West (n = 19)</text>
<text x="226.1" y="126.4" font-size="9.2" text-anchor="end" textLength="14.25" lengthAdjust="spacingAndGlyphs" class="t">100</text>
<text x="226.1" y="151.7" font-size="9.2" text-anchor="end" textLength="9.50" lengthAdjust="spacingAndGlyphs" class="t">50</text>
<text x="226.1" y="178.6" font-size="9.2" text-anchor="end" textLength="4.75" lengthAdjust="spacingAndGlyphs" class="t">0</text>
<text x="226.1" y="203.2" font-size="9.2" text-anchor="end" textLength="9.50" lengthAdjust="spacingAndGlyphs" class="t">50</text>
<text x="226.1" y="228.2" font-size="9.2" text-anchor="end" textLength="14.25" lengthAdjust="spacingAndGlyphs" class="t">100</text>
<text x="241.7" y="236.1" font-size="8.4" text-anchor="middle" class="m">J</text>
<text x="253.8" y="236.1" font-size="8.4" text-anchor="middle" class="m">F</text>
<text x="266.6" y="236.1" font-size="8.4" text-anchor="middle" class="m">M</text>
<text x="279.8" y="236.1" font-size="8.4" text-anchor="middle" class="m">A</text>
<text x="292.8" y="236.1" font-size="8.4" text-anchor="middle" class="m">M</text>
<text x="304.9" y="236.1" font-size="8.4" text-anchor="middle" class="m">J</text>
<text x="314.8" y="236.1" font-size="8.4" text-anchor="middle" class="m">J</text>
<text x="328.6" y="236.1" font-size="8.4" text-anchor="middle" class="m">A</text>
<text x="341.1" y="236.1" font-size="8.4" text-anchor="middle" class="m">S</text>
<text x="353.5" y="236.1" font-size="8.4" text-anchor="middle" class="m">O</text>
<text x="366.1" y="236.1" font-size="8.4" text-anchor="middle" class="m">N</text>
<text x="379.2" y="236.1" font-size="8.4" text-anchor="middle" class="m">D</text>
<line x1="412.2" y1="125.6" x2="412.2" y2="225.4" stroke="#8a8a8a" stroke-width="1.05"/>
<line x1="574.4" y1="125.6" x2="574.4" y2="225.4" stroke="#6a6a6a" stroke-width="1.05"/>
<line x1="411.7" y1="125.6" x2="574.9" y2="125.6" stroke="#7a7a7a" stroke-width="1.05"/>
<line x1="411.7" y1="225.4" x2="574.9" y2="225.4" stroke="#8a8a8a" stroke-width="1.05"/>
<line x1="412.2" y1="175.6" x2="574.4" y2="175.6" stroke="#7d7d7d" stroke-width="1"/>
<line x1="410.7" y1="150.6" x2="413.2" y2="150.6" stroke="#7d7d7d" stroke-width="0.8"/>
<line x1="572.4" y1="150.6" x2="574.4" y2="150.6" stroke="#7d7d7d" stroke-width="0.8"/>
<line x1="410.7" y1="200.5" x2="413.2" y2="200.5" stroke="#7d7d7d" stroke-width="0.8"/>
<line x1="572.4" y1="200.5" x2="574.4" y2="200.5" stroke="#7d7d7d" stroke-width="0.8"/>
<rect x="418.8" y="170" width="9.8" height="5.6" fill="#f8b39b"/>
<rect x="418.8" y="163.6" width="9.8" height="6.4" fill="#eb4236"/>
<rect x="418.8" y="138.5" width="9.8" height="25.1" fill="url(#pC)"/>
<rect x="418.8" y="136.1" width="9.8" height="2.4" fill="#c9c9c9"/>
<rect x="418.8" y="175.6" width="9.8" height="1.5" fill="#a6bbe3"/>
<rect x="418.8" y="177.1" width="9.8" height="7.9" fill="url(#nC)"/>
<rect x="418.8" y="185" width="9.8" height="1" fill="#2a78ba"/>
<line x1="418.8" y1="170" x2="428.6" y2="170" stroke="#6a1a14" stroke-width="0.75"/>
<line x1="418.8" y1="163.6" x2="428.6" y2="163.6" stroke="#6a1a14" stroke-width="0.75"/>
<line x1="418.8" y1="138.5" x2="428.6" y2="138.5" stroke="#606060" stroke-width="0.75"/>
<line x1="418.8" y1="177.1" x2="428.6" y2="177.1" stroke="#5a6f98" stroke-width="0.75"/>
<line x1="418.8" y1="185" x2="428.6" y2="185" stroke="#1d3f66" stroke-width="0.75"/>
<rect x="418.8" y="136.1" width="9.8" height="39.5" fill="none" stroke="#666" stroke-width="0.9"/>
<rect x="418.8" y="175.6" width="9.8" height="10.4" fill="none" stroke="#666" stroke-width="0.9"/>
<rect x="431.4" y="170" width="9.8" height="5.6" fill="#f8b39b"/>
<rect x="431.4" y="167.3" width="9.8" height="2.7" fill="#eb4236"/>
<rect x="431.4" y="146.2" width="9.8" height="21.1" fill="url(#pC)"/>
<rect x="431.4" y="143.3" width="9.8" height="2.9" fill="#c9c9c9"/>
<rect x="431.4" y="175.6" width="9.8" height="1.8" fill="#a6bbe3"/>
<rect x="431.4" y="177.4" width="9.8" height="3.1" fill="#2a78ba"/>
<rect x="431.4" y="180.5" width="9.8" height="11.8" fill="url(#nC)"/>
<rect x="431.4" y="192.3" width="9.8" height="0.7" fill="#ffffff"/>
<line x1="431.4" y1="170" x2="441.2" y2="170" stroke="#6a1a14" stroke-width="0.75"/>
<line x1="431.4" y1="167.3" x2="441.2" y2="167.3" stroke="#6a1a14" stroke-width="0.75"/>
<line x1="431.4" y1="146.2" x2="441.2" y2="146.2" stroke="#606060" stroke-width="0.75"/>
<line x1="431.4" y1="177.4" x2="441.2" y2="177.4" stroke="#1d3f66" stroke-width="0.75"/>
<line x1="431.4" y1="180.5" x2="441.2" y2="180.5" stroke="#1d3f66" stroke-width="0.75"/>
<line x1="431.4" y1="192.3" x2="441.2" y2="192.3" stroke="#555" stroke-width="0.75"/>
<rect x="431.4" y="143.3" width="9.8" height="32.3" fill="none" stroke="#666" stroke-width="0.9"/>
<rect x="431.4" y="175.6" width="9.8" height="17.4" fill="none" stroke="#666" stroke-width="0.9"/>
<rect x="444" y="170" width="9.8" height="5.6" fill="#f8b39b"/>
<rect x="444" y="167.3" width="9.8" height="2.7" fill="#eb4236"/>
<rect x="444" y="146.2" width="9.8" height="21.1" fill="url(#pC)"/>
<rect x="444" y="143.3" width="9.8" height="2.9" fill="#c9c9c9"/>
<rect x="444" y="175.6" width="9.8" height="1.8" fill="#a6bbe3"/>
<rect x="444" y="177.4" width="9.8" height="3.1" fill="#2a78ba"/>
<rect x="444" y="180.5" width="9.8" height="11.8" fill="url(#nC)"/>
<rect x="444" y="192.3" width="9.8" height="0.7" fill="#ffffff"/>
<line x1="444" y1="170" x2="453.8" y2="170" stroke="#6a1a14" stroke-width="0.75"/>
<line x1="444" y1="167.3" x2="453.8" y2="167.3" stroke="#6a1a14" stroke-width="0.75"/>
<line x1="444" y1="146.2" x2="453.8" y2="146.2" stroke="#606060" stroke-width="0.75"/>
<line x1="444" y1="177.4" x2="453.8" y2="177.4" stroke="#1d3f66" stroke-width="0.75"/>
<line x1="444" y1="180.5" x2="453.8" y2="180.5" stroke="#1d3f66" stroke-width="0.75"/>
<line x1="444" y1="192.3" x2="453.8" y2="192.3" stroke="#555" stroke-width="0.75"/>
<rect x="444" y="143.3" width="9.8" height="32.3" fill="none" stroke="#666" stroke-width="0.9"/>
<rect x="444" y="175.6" width="9.8" height="17.4" fill="none" stroke="#666" stroke-width="0.9"/>
<rect x="456.6" y="170" width="9.8" height="5.6" fill="#f8b39b"/>
<rect x="456.6" y="167.3" width="9.8" height="2.7" fill="#eb4236"/>
<rect x="456.6" y="153.9" width="9.8" height="13.4" fill="url(#pC)"/>
<rect x="456.6" y="151.3" width="9.8" height="2.6" fill="#c9c9c9"/>
<rect x="456.6" y="175.6" width="9.8" height="1.8" fill="#a6bbe3"/>
<rect x="456.6" y="177.4" width="9.8" height="3.4" fill="#2a78ba"/>
<rect x="456.6" y="180.8" width="9.8" height="19.4" fill="url(#nC)"/>
<rect x="456.6" y="200.2" width="9.8" height="1.4" fill="#2a78ba"/>
<line x1="456.6" y1="170" x2="466.4" y2="170" stroke="#6a1a14" stroke-width="0.75"/>
<line x1="456.6" y1="167.3" x2="466.4" y2="167.3" stroke="#6a1a14" stroke-width="0.75"/>
<line x1="456.6" y1="153.9" x2="466.4" y2="153.9" stroke="#606060" stroke-width="0.75"/>
<line x1="456.6" y1="177.4" x2="466.4" y2="177.4" stroke="#1d3f66" stroke-width="0.75"/>
<line x1="456.6" y1="180.8" x2="466.4" y2="180.8" stroke="#1d3f66" stroke-width="0.75"/>
<line x1="456.6" y1="200.2" x2="466.4" y2="200.2" stroke="#1d3f66" stroke-width="0.75"/>
<rect x="456.6" y="151.3" width="9.8" height="24.3" fill="none" stroke="#666" stroke-width="0.9"/>
<rect x="456.6" y="175.6" width="9.8" height="26" fill="none" stroke="#666" stroke-width="0.9"/>
<rect x="469.2" y="169.1" width="9.8" height="6.5" fill="#f8b39b"/>
<rect x="469.2" y="163.1" width="9.8" height="6" fill="#eb4236"/>
<rect x="469.2" y="145.3" width="9.8" height="17.8" fill="url(#pC)"/>
<rect x="469.2" y="143.4" width="9.8" height="1.9" fill="#c9c9c9"/>
<rect x="469.2" y="175.6" width="9.8" height="1" fill="#a6bbe3"/>
<rect x="469.2" y="176.6" width="9.8" height="1.3" fill="#2a78ba"/>
<rect x="469.2" y="177.9" width="9.8" height="13.3" fill="url(#nC)"/>
<rect x="469.2" y="191.2" width="9.8" height="1.1" fill="#2a78ba"/>
<line x1="469.2" y1="169.1" x2="479" y2="169.1" stroke="#6a1a14" stroke-width="0.75"/>
<line x1="469.2" y1="163.1" x2="479" y2="163.1" stroke="#6a1a14" stroke-width="0.75"/>
<line x1="469.2" y1="145.3" x2="479" y2="145.3" stroke="#606060" stroke-width="0.75"/>
<line x1="469.2" y1="176.6" x2="479" y2="176.6" stroke="#1d3f66" stroke-width="0.75"/>
<line x1="469.2" y1="177.9" x2="479" y2="177.9" stroke="#1d3f66" stroke-width="0.75"/>
<line x1="469.2" y1="191.2" x2="479" y2="191.2" stroke="#1d3f66" stroke-width="0.75"/>
<rect x="469.2" y="143.4" width="9.8" height="32.2" fill="none" stroke="#666" stroke-width="0.9"/>
<rect x="469.2" y="175.6" width="9.8" height="16.7" fill="none" stroke="#666" stroke-width="0.9"/>
<rect x="481.8" y="169.1" width="9.8" height="6.5" fill="#f8b39b"/>
<rect x="481.8" y="163.6" width="9.8" height="5.5" fill="#eb4236"/>
<rect x="481.8" y="135.6" width="9.8" height="28" fill="url(#pC)"/>
<rect x="481.8" y="133" width="9.8" height="2.6" fill="#c9c9c9"/>
<rect x="481.8" y="175.6" width="9.8" height="1.6" fill="#2a78ba"/>
<rect x="481.8" y="177.2" width="9.8" height="5.3" fill="url(#nC)"/>
<line x1="481.8" y1="169.1" x2="491.6" y2="169.1" stroke="#6a1a14" stroke-width="0.75"/>
<line x1="481.8" y1="163.6" x2="491.6" y2="163.6" stroke="#6a1a14" stroke-width="0.75"/>
<line x1="481.8" y1="135.6" x2="491.6" y2="135.6" stroke="#606060" stroke-width="0.75"/>
<line x1="481.8" y1="177.2" x2="491.6" y2="177.2" stroke="#1d3f66" stroke-width="0.75"/>
<rect x="481.8" y="133" width="9.8" height="42.6" fill="none" stroke="#666" stroke-width="0.9"/>
<rect x="481.8" y="175.6" width="9.8" height="6.9" fill="none" stroke="#666" stroke-width="0.9"/>
<rect x="494.4" y="169.1" width="9.8" height="6.5" fill="#f8b39b"/>
<rect x="494.4" y="163.6" width="9.8" height="5.5" fill="#eb4236"/>
<rect x="494.4" y="135.6" width="9.8" height="28" fill="url(#pC)"/>
<rect x="494.4" y="133" width="9.8" height="2.6" fill="#c9c9c9"/>
<rect x="494.4" y="175.6" width="9.8" height="1.6" fill="#2a78ba"/>
<rect x="494.4" y="177.2" width="9.8" height="5.3" fill="url(#nC)"/>
<line x1="494.4" y1="169.1" x2="504.2" y2="169.1" stroke="#6a1a14" stroke-width="0.75"/>
<line x1="494.4" y1="163.6" x2="504.2" y2="163.6" stroke="#6a1a14" stroke-width="0.75"/>
<line x1="494.4" y1="135.6" x2="504.2" y2="135.6" stroke="#606060" stroke-width="0.75"/>
<line x1="494.4" y1="177.2" x2="504.2" y2="177.2" stroke="#1d3f66" stroke-width="0.75"/>
<rect x="494.4" y="133" width="9.8" height="42.6" fill="none" stroke="#666" stroke-width="0.9"/>
<rect x="494.4" y="175.6" width="9.8" height="6.9" fill="none" stroke="#666" stroke-width="0.9"/>
<rect x="507" y="170" width="9.8" height="5.6" fill="#f8b39b"/>
<rect x="507" y="165.5" width="9.8" height="4.5" fill="#eb4236"/>
<rect x="507" y="149.5" width="9.8" height="16" fill="url(#pC)"/>
<rect x="507" y="175.6" width="9.8" height="3.2" fill="#2a78ba"/>
<rect x="507" y="178.8" width="9.8" height="17.6" fill="url(#nC)"/>
<rect x="507" y="196.4" width="9.8" height="1.6" fill="#ffffff"/>
<rect x="507" y="198" width="9.8" height="1.6" fill="#2a78ba"/>
<line x1="507" y1="170" x2="516.8" y2="170" stroke="#6a1a14" stroke-width="0.75"/>
<line x1="507" y1="165.5" x2="516.8" y2="165.5" stroke="#6a1a14" stroke-width="0.75"/>
<line x1="507" y1="178.8" x2="516.8" y2="178.8" stroke="#1d3f66" stroke-width="0.75"/>
<line x1="507" y1="196.4" x2="516.8" y2="196.4" stroke="#555" stroke-width="0.75"/>
<line x1="507" y1="198" x2="516.8" y2="198" stroke="#1d3f66" stroke-width="0.75"/>
<rect x="507" y="149.5" width="9.8" height="26.1" fill="none" stroke="#666" stroke-width="0.9"/>
<rect x="507" y="175.6" width="9.8" height="24" fill="none" stroke="#666" stroke-width="0.9"/>
<rect x="519.6" y="169.7" width="9.8" height="5.9" fill="#f8b39b"/>
<rect x="519.6" y="163.6" width="9.8" height="6.1" fill="#eb4236"/>
<rect x="519.6" y="136.7" width="9.8" height="26.9" fill="url(#pC)"/>
<rect x="519.6" y="134.3" width="9.8" height="2.4" fill="#c9c9c9"/>
<rect x="519.6" y="175.6" width="9.8" height="1.6" fill="#2a78ba"/>
<rect x="519.6" y="177.2" width="9.8" height="7.2" fill="url(#nC)"/>
<line x1="519.6" y1="169.7" x2="529.4" y2="169.7" stroke="#6a1a14" stroke-width="0.75"/>
<line x1="519.6" y1="163.6" x2="529.4" y2="163.6" stroke="#6a1a14" stroke-width="0.75"/>
<line x1="519.6" y1="136.7" x2="529.4" y2="136.7" stroke="#606060" stroke-width="0.75"/>
<line x1="519.6" y1="177.2" x2="529.4" y2="177.2" stroke="#1d3f66" stroke-width="0.75"/>
<rect x="519.6" y="134.3" width="9.8" height="41.3" fill="none" stroke="#666" stroke-width="0.9"/>
<rect x="519.6" y="175.6" width="9.8" height="8.8" fill="none" stroke="#666" stroke-width="0.9"/>
<rect x="532.2" y="169.7" width="9.8" height="5.9" fill="#f8b39b"/>
<rect x="532.2" y="163.6" width="9.8" height="6.1" fill="#eb4236"/>
<rect x="532.2" y="136.7" width="9.8" height="26.9" fill="url(#pC)"/>
<rect x="532.2" y="134.3" width="9.8" height="2.4" fill="#c9c9c9"/>
<rect x="532.2" y="175.6" width="9.8" height="1.6" fill="#2a78ba"/>
<rect x="532.2" y="177.2" width="9.8" height="7.2" fill="url(#nC)"/>
<line x1="532.2" y1="169.7" x2="542" y2="169.7" stroke="#6a1a14" stroke-width="0.75"/>
<line x1="532.2" y1="163.6" x2="542" y2="163.6" stroke="#6a1a14" stroke-width="0.75"/>
<line x1="532.2" y1="136.7" x2="542" y2="136.7" stroke="#606060" stroke-width="0.75"/>
<line x1="532.2" y1="177.2" x2="542" y2="177.2" stroke="#1d3f66" stroke-width="0.75"/>
<rect x="532.2" y="134.3" width="9.8" height="41.3" fill="none" stroke="#666" stroke-width="0.9"/>
<rect x="532.2" y="175.6" width="9.8" height="8.8" fill="none" stroke="#666" stroke-width="0.9"/>
<rect x="544.8" y="174.1" width="9.8" height="1.5" fill="#eb4236"/>
<rect x="544.8" y="175.6" width="9.8" height="6.2" fill="#a6bbe3"/>
<rect x="544.8" y="181.8" width="9.8" height="4.9" fill="#2a78ba"/>
<rect x="544.8" y="186.7" width="9.8" height="33.8" fill="url(#nC)"/>
<rect x="544.8" y="220.5" width="9.8" height="1.5" fill="#ffffff"/>
<rect x="544.8" y="222" width="9.8" height="1.4" fill="#2a78ba"/>
<line x1="544.8" y1="181.8" x2="554.6" y2="181.8" stroke="#1d3f66" stroke-width="0.75"/>
<line x1="544.8" y1="186.7" x2="554.6" y2="186.7" stroke="#1d3f66" stroke-width="0.75"/>
<line x1="544.8" y1="220.5" x2="554.6" y2="220.5" stroke="#555" stroke-width="0.75"/>
<line x1="544.8" y1="222" x2="554.6" y2="222" stroke="#1d3f66" stroke-width="0.75"/>
<rect x="544.8" y="174.1" width="9.8" height="1.5" fill="none" stroke="#666" stroke-width="0.9"/>
<rect x="544.8" y="175.6" width="9.8" height="47.8" fill="none" stroke="#666" stroke-width="0.9"/>
<rect x="557.4" y="169.1" width="9.8" height="6.5" fill="#f8b39b"/>
<rect x="557.4" y="163.6" width="9.8" height="5.5" fill="#eb4236"/>
<rect x="557.4" y="135.2" width="9.8" height="28.4" fill="url(#pC)"/>
<rect x="557.4" y="133" width="9.8" height="2.2" fill="#c9c9c9"/>
<rect x="557.4" y="175.6" width="9.8" height="1.6" fill="#2a78ba"/>
<rect x="557.4" y="177.2" width="9.8" height="5.3" fill="url(#nC)"/>
<line x1="557.4" y1="169.1" x2="567.2" y2="169.1" stroke="#6a1a14" stroke-width="0.75"/>
<line x1="557.4" y1="163.6" x2="567.2" y2="163.6" stroke="#6a1a14" stroke-width="0.75"/>
<line x1="557.4" y1="135.2" x2="567.2" y2="135.2" stroke="#606060" stroke-width="0.75"/>
<line x1="557.4" y1="177.2" x2="567.2" y2="177.2" stroke="#1d3f66" stroke-width="0.75"/>
<rect x="557.4" y="133" width="9.8" height="42.6" fill="none" stroke="#666" stroke-width="0.9"/>
<rect x="557.4" y="175.6" width="9.8" height="6.9" fill="none" stroke="#666" stroke-width="0.9"/>
<polyline points="422.6,175.2 436,160 449.2,160 461.3,156.8 474.5,142.2 486.9,129.3 498.2,138.9 512.4,171.9 524.9,127.5 537.4,129.7 550.2,175.6 563.1,126.4" fill="none" stroke="#111" stroke-width="1.3" stroke-linejoin="miter" stroke-miterlimit="10"/>
<text x="414.10" y="223.00" font-size="9.7" textLength="74.00" lengthAdjust="spacingAndGlyphs" class="t">Southeast (n = 29)</text>
<text x="408.9" y="128.4" font-size="9.2" text-anchor="end" textLength="14.25" lengthAdjust="spacingAndGlyphs" class="t">100</text>
<text x="408.9" y="154" font-size="9.2" text-anchor="end" textLength="9.50" lengthAdjust="spacingAndGlyphs" class="t">50</text>
<text x="408.9" y="180.6" font-size="9.2" text-anchor="end" textLength="4.75" lengthAdjust="spacingAndGlyphs" class="t">0</text>
<text x="408.9" y="205.1" font-size="9.2" text-anchor="end" textLength="9.50" lengthAdjust="spacingAndGlyphs" class="t">50</text>
<text x="408.9" y="229.1" font-size="9.2" text-anchor="end" textLength="14.25" lengthAdjust="spacingAndGlyphs" class="t">100</text>
<text x="423.7" y="236.1" font-size="8.4" text-anchor="middle" class="m">J</text>
<text x="435.8" y="236.1" font-size="8.4" text-anchor="middle" class="m">F</text>
<text x="448.6" y="236.1" font-size="8.4" text-anchor="middle" class="m">M</text>
<text x="461.8" y="236.1" font-size="8.4" text-anchor="middle" class="m">A</text>
<text x="474.8" y="236.1" font-size="8.4" text-anchor="middle" class="m">M</text>
<text x="486.9" y="236.1" font-size="8.4" text-anchor="middle" class="m">J</text>
<text x="496.8" y="236.1" font-size="8.4" text-anchor="middle" class="m">J</text>
<text x="510.6" y="236.1" font-size="8.4" text-anchor="middle" class="m">A</text>
<text x="523.1" y="236.1" font-size="8.4" text-anchor="middle" class="m">S</text>
<text x="535.5" y="236.1" font-size="8.4" text-anchor="middle" class="m">O</text>
<text x="548.1" y="236.1" font-size="8.4" text-anchor="middle" class="m">N</text>
<text x="561.2" y="236.1" font-size="8.4" text-anchor="middle" class="m">D</text>
<line x1="228.7" y1="245" x2="228.7" y2="344" stroke="#8a8a8a" stroke-width="1.05"/>
<line x1="391.4" y1="245" x2="391.4" y2="344" stroke="#6a6a6a" stroke-width="1.05"/>
<line x1="228.2" y1="245" x2="391.9" y2="245" stroke="#7a7a7a" stroke-width="1.05"/>
<line x1="228.2" y1="344" x2="391.9" y2="344" stroke="#8a8a8a" stroke-width="1.05"/>
<line x1="228.7" y1="295.1" x2="391.4" y2="295.1" stroke="#7d7d7d" stroke-width="1"/>
<line x1="227.2" y1="270.05" x2="229.7" y2="270.05" stroke="#7d7d7d" stroke-width="0.8"/>
<line x1="389.4" y1="270.05" x2="391.4" y2="270.05" stroke="#7d7d7d" stroke-width="0.8"/>
<line x1="227.2" y1="319.55" x2="229.7" y2="319.55" stroke="#7d7d7d" stroke-width="0.8"/>
<line x1="389.4" y1="319.55" x2="391.4" y2="319.55" stroke="#7d7d7d" stroke-width="0.8"/>
<rect x="237" y="291.6" width="9.8" height="3.5" fill="url(#pC)"/>
<rect x="237" y="270" width="9.8" height="21.6" fill="#eb4236"/>
<rect x="237" y="263.6" width="9.8" height="6.4" fill="url(#sp72)"/>
<rect x="237" y="249" width="9.8" height="14.6" fill="#f8b39b"/>
<rect x="237" y="295.1" width="9.8" height="3.1" fill="#2a78ba"/>
<line x1="237" y1="291.6" x2="246.8" y2="291.6" stroke="#6a1a14" stroke-width="0.75"/>
<line x1="237" y1="270" x2="246.8" y2="270" stroke="#6a1a14" stroke-width="0.75"/>
<line x1="237" y1="263.6" x2="246.8" y2="263.6" stroke="#9a5a4a" stroke-width="0.75"/>
<rect x="237" y="249" width="9.8" height="46.1" fill="none" stroke="#666" stroke-width="0.9"/>
<rect x="237" y="295.1" width="9.8" height="3.1" fill="none" stroke="#666" stroke-width="0.9"/>
<rect x="249.49" y="291.6" width="9.8" height="3.5" fill="url(#pC)"/>
<rect x="249.49" y="272" width="9.8" height="19.6" fill="#eb4236"/>
<rect x="249.49" y="265.6" width="9.8" height="6.4" fill="url(#sp73)"/>
<rect x="249.49" y="250" width="9.8" height="15.6" fill="#f8b39b"/>
<rect x="249.49" y="295.1" width="9.8" height="5.1" fill="#2a78ba"/>
<line x1="249.49" y1="291.6" x2="259.29" y2="291.6" stroke="#6a1a14" stroke-width="0.75"/>
<line x1="249.49" y1="272" x2="259.29" y2="272" stroke="#6a1a14" stroke-width="0.75"/>
<line x1="249.49" y1="265.6" x2="259.29" y2="265.6" stroke="#9a5a4a" stroke-width="0.75"/>
<rect x="249.49" y="250" width="9.8" height="45.1" fill="none" stroke="#666" stroke-width="0.9"/>
<rect x="249.49" y="295.1" width="9.8" height="5.1" fill="none" stroke="#666" stroke-width="0.9"/>
<rect x="261.98" y="291.6" width="9.8" height="3.5" fill="url(#pC)"/>
<rect x="261.98" y="274.4" width="9.8" height="17.2" fill="#eb4236"/>
<rect x="261.98" y="273.6" width="9.8" height="0.8" fill="url(#sp74)"/>
<rect x="261.98" y="261" width="9.8" height="12.6" fill="#f8b39b"/>
<rect x="261.98" y="295.1" width="9.8" height="7.4" fill="#2a78ba"/>
<rect x="261.98" y="302.5" width="9.8" height="7.8" fill="url(#sp75)"/>
<line x1="261.98" y1="291.6" x2="271.78" y2="291.6" stroke="#6a1a14" stroke-width="0.75"/>
<line x1="261.98" y1="274.4" x2="271.78" y2="274.4" stroke="#6a1a14" stroke-width="0.75"/>
<line x1="261.98" y1="273.6" x2="271.78" y2="273.6" stroke="#9a5a4a" stroke-width="0.75"/>
<line x1="261.98" y1="302.5" x2="271.78" y2="302.5" stroke="#1d3f66" stroke-width="0.75"/>
<rect x="261.98" y="261" width="9.8" height="34.1" fill="none" stroke="#666" stroke-width="0.9"/>
<rect x="261.98" y="295.1" width="9.8" height="15.2" fill="none" stroke="#666" stroke-width="0.9"/>
<rect x="274.47" y="291.6" width="9.8" height="3.5" fill="url(#pC)"/>
<rect x="274.47" y="279" width="9.8" height="12.6" fill="#eb4236"/>
<rect x="274.47" y="273.6" width="9.8" height="5.4" fill="url(#sp76)"/>
<rect x="274.47" y="263" width="9.8" height="10.6" fill="#f8b39b"/>
<rect x="274.47" y="295.1" width="9.8" height="1.9" fill="url(#nC)"/>
<rect x="274.47" y="297" width="9.8" height="10.4" fill="#2a78ba"/>
<rect x="274.47" y="307.4" width="9.8" height="1.4" fill="#ffffff"/>
<rect x="274.47" y="308.8" width="9.8" height="3.5" fill="#a6bbe3"/>
<line x1="274.47" y1="291.6" x2="284.27" y2="291.6" stroke="#6a1a14" stroke-width="0.75"/>
<line x1="274.47" y1="279" x2="284.27" y2="279" stroke="#6a1a14" stroke-width="0.75"/>
<line x1="274.47" y1="273.6" x2="284.27" y2="273.6" stroke="#9a5a4a" stroke-width="0.75"/>
<line x1="274.47" y1="297" x2="284.27" y2="297" stroke="#1d3f66" stroke-width="0.75"/>
<line x1="274.47" y1="307.4" x2="284.27" y2="307.4" stroke="#1d3f66" stroke-width="0.75"/>
<line x1="274.47" y1="308.8" x2="284.27" y2="308.8" stroke="#5a6f98" stroke-width="0.75"/>
<rect x="274.47" y="263" width="9.8" height="32.1" fill="none" stroke="#666" stroke-width="0.9"/>
<rect x="274.47" y="295.1" width="9.8" height="17.2" fill="none" stroke="#666" stroke-width="0.9"/>
<rect x="286.96" y="292.6" width="9.8" height="2.5" fill="url(#pC)"/>
<rect x="286.96" y="277.4" width="9.8" height="15.2" fill="#eb4236"/>
<rect x="286.96" y="272" width="9.8" height="5.4" fill="url(#sp77)"/>
<rect x="286.96" y="263.4" width="9.8" height="8.6" fill="#f8b39b"/>
<rect x="286.96" y="295.1" width="9.8" height="1.9" fill="url(#nC)"/>
<rect x="286.96" y="297" width="9.8" height="9" fill="#2a78ba"/>
<rect x="286.96" y="306" width="9.8" height="2" fill="#ffffff"/>
<rect x="286.96" y="308" width="9.8" height="4.3" fill="#a6bbe3"/>
<line x1="286.96" y1="292.6" x2="296.76" y2="292.6" stroke="#6a1a14" stroke-width="0.75"/>
<line x1="286.96" y1="277.4" x2="296.76" y2="277.4" stroke="#6a1a14" stroke-width="0.75"/>
<line x1="286.96" y1="272" x2="296.76" y2="272" stroke="#9a5a4a" stroke-width="0.75"/>
<line x1="286.96" y1="297" x2="296.76" y2="297" stroke="#1d3f66" stroke-width="0.75"/>
<line x1="286.96" y1="306" x2="296.76" y2="306" stroke="#1d3f66" stroke-width="0.75"/>
<line x1="286.96" y1="308" x2="296.76" y2="308" stroke="#5a6f98" stroke-width="0.75"/>
<rect x="286.96" y="263.4" width="9.8" height="31.7" fill="none" stroke="#666" stroke-width="0.9"/>
<rect x="286.96" y="295.1" width="9.8" height="17.2" fill="none" stroke="#666" stroke-width="0.9"/>
<rect x="299.45" y="292.6" width="9.8" height="2.5" fill="url(#pC)"/>
<rect x="299.45" y="275" width="9.8" height="17.6" fill="#eb4236"/>
<rect x="299.45" y="270.6" width="9.8" height="4.4" fill="url(#sp78)"/>
<rect x="299.45" y="259.4" width="9.8" height="11.2" fill="#f8b39b"/>
<rect x="299.45" y="295.1" width="9.8" height="0.9" fill="url(#nC)"/>
<rect x="299.45" y="296" width="9.8" height="7.5" fill="#2a78ba"/>
<rect x="299.45" y="303.5" width="9.8" height="1" fill="#ffffff"/>
<rect x="299.45" y="304.5" width="9.8" height="4.9" fill="#a6bbe3"/>
<line x1="299.45" y1="292.6" x2="309.25" y2="292.6" stroke="#6a1a14" stroke-width="0.75"/>
<line x1="299.45" y1="275" x2="309.25" y2="275" stroke="#6a1a14" stroke-width="0.75"/>
<line x1="299.45" y1="270.6" x2="309.25" y2="270.6" stroke="#9a5a4a" stroke-width="0.75"/>
<line x1="299.45" y1="296" x2="309.25" y2="296" stroke="#1d3f66" stroke-width="0.75"/>
<line x1="299.45" y1="303.5" x2="309.25" y2="303.5" stroke="#1d3f66" stroke-width="0.75"/>
<line x1="299.45" y1="304.5" x2="309.25" y2="304.5" stroke="#5a6f98" stroke-width="0.75"/>
<rect x="299.45" y="259.4" width="9.8" height="35.7" fill="none" stroke="#666" stroke-width="0.9"/>
<rect x="299.45" y="295.1" width="9.8" height="14.3" fill="none" stroke="#666" stroke-width="0.9"/>
<rect x="311.94" y="291.4" width="9.8" height="3.7" fill="url(#pC)"/>
<rect x="311.94" y="272" width="9.8" height="19.4" fill="#eb4236"/>
<rect x="311.94" y="265" width="9.8" height="7" fill="url(#sp79)"/>
<rect x="311.94" y="256" width="9.8" height="9" fill="#f8b39b"/>
<rect x="311.94" y="295.1" width="9.8" height="5.1" fill="#2a78ba"/>
<rect x="311.94" y="300.2" width="9.8" height="4.7" fill="#a6bbe3"/>
<line x1="311.94" y1="291.4" x2="321.74" y2="291.4" stroke="#6a1a14" stroke-width="0.75"/>
<line x1="311.94" y1="272" x2="321.74" y2="272" stroke="#6a1a14" stroke-width="0.75"/>
<line x1="311.94" y1="265" x2="321.74" y2="265" stroke="#9a5a4a" stroke-width="0.75"/>
<line x1="311.94" y1="300.2" x2="321.74" y2="300.2" stroke="#1d3f66" stroke-width="0.75"/>
<rect x="311.94" y="256" width="9.8" height="39.1" fill="none" stroke="#666" stroke-width="0.9"/>
<rect x="311.94" y="295.1" width="9.8" height="9.8" fill="none" stroke="#666" stroke-width="0.9"/>
<rect x="324.43" y="291.4" width="9.8" height="3.7" fill="url(#pC)"/>
<rect x="324.43" y="279" width="9.8" height="12.4" fill="#eb4236"/>
<rect x="324.43" y="272" width="9.8" height="7" fill="url(#sp80)"/>
<rect x="324.43" y="263.4" width="9.8" height="8.6" fill="#f8b39b"/>
<rect x="324.43" y="295.1" width="9.8" height="12.9" fill="#2a78ba"/>
<rect x="324.43" y="308" width="9.8" height="4.3" fill="#a6bbe3"/>
<line x1="324.43" y1="291.4" x2="334.23" y2="291.4" stroke="#6a1a14" stroke-width="0.75"/>
<line x1="324.43" y1="279" x2="334.23" y2="279" stroke="#6a1a14" stroke-width="0.75"/>
<line x1="324.43" y1="272" x2="334.23" y2="272" stroke="#9a5a4a" stroke-width="0.75"/>
<line x1="324.43" y1="308" x2="334.23" y2="308" stroke="#1d3f66" stroke-width="0.75"/>
<rect x="324.43" y="263.4" width="9.8" height="31.7" fill="none" stroke="#666" stroke-width="0.9"/>
<rect x="324.43" y="295.1" width="9.8" height="17.2" fill="none" stroke="#666" stroke-width="0.9"/>
<rect x="336.92" y="292.6" width="9.8" height="2.5" fill="url(#pC)"/>
<rect x="336.92" y="280.6" width="9.8" height="12" fill="#eb4236"/>
<rect x="336.92" y="275" width="9.8" height="5.6" fill="url(#sp81)"/>
<rect x="336.92" y="268.6" width="9.8" height="6.4" fill="#f8b39b"/>
<rect x="336.92" y="295.1" width="9.8" height="1.6" fill="url(#nC)"/>
<rect x="336.92" y="296.7" width="9.8" height="12.7" fill="#2a78ba"/>
<rect x="336.92" y="309.4" width="9.8" height="1.4" fill="#ffffff"/>
<rect x="336.92" y="310.8" width="9.8" height="7" fill="#a6bbe3"/>
<line x1="336.92" y1="292.6" x2="346.72" y2="292.6" stroke="#6a1a14" stroke-width="0.75"/>
<line x1="336.92" y1="280.6" x2="346.72" y2="280.6" stroke="#6a1a14" stroke-width="0.75"/>
<line x1="336.92" y1="275" x2="346.72" y2="275" stroke="#9a5a4a" stroke-width="0.75"/>
<line x1="336.92" y1="296.7" x2="346.72" y2="296.7" stroke="#1d3f66" stroke-width="0.75"/>
<line x1="336.92" y1="309.4" x2="346.72" y2="309.4" stroke="#1d3f66" stroke-width="0.75"/>
<line x1="336.92" y1="310.8" x2="346.72" y2="310.8" stroke="#5a6f98" stroke-width="0.75"/>
<rect x="336.92" y="268.6" width="9.8" height="26.5" fill="none" stroke="#666" stroke-width="0.9"/>
<rect x="336.92" y="295.1" width="9.8" height="22.7" fill="none" stroke="#666" stroke-width="0.9"/>
<rect x="349.41" y="286" width="9.8" height="9.1" fill="#eb4236"/>
<rect x="349.41" y="278" width="9.8" height="8" fill="url(#sp82)"/>
<rect x="349.41" y="270.6" width="9.8" height="7.4" fill="#f8b39b"/>
<rect x="349.41" y="295.1" width="9.8" height="3.2" fill="url(#nC)"/>
<rect x="349.41" y="298.3" width="9.8" height="16.4" fill="#2a78ba"/>
<rect x="349.41" y="314.7" width="9.8" height="5" fill="#a6bbe3"/>
<line x1="349.41" y1="286" x2="359.21" y2="286" stroke="#6a1a14" stroke-width="0.75"/>
<line x1="349.41" y1="278" x2="359.21" y2="278" stroke="#9a5a4a" stroke-width="0.75"/>
<line x1="349.41" y1="298.3" x2="359.21" y2="298.3" stroke="#1d3f66" stroke-width="0.75"/>
<line x1="349.41" y1="314.7" x2="359.21" y2="314.7" stroke="#1d3f66" stroke-width="0.75"/>
<rect x="349.41" y="270.6" width="9.8" height="24.5" fill="none" stroke="#666" stroke-width="0.9"/>
<rect x="349.41" y="295.1" width="9.8" height="24.6" fill="none" stroke="#666" stroke-width="0.9"/>
<rect x="361.9" y="291.4" width="9.8" height="3.7" fill="url(#pC)"/>
<rect x="361.9" y="280.6" width="9.8" height="10.8" fill="#eb4236"/>
<rect x="361.9" y="273.4" width="9.8" height="7.2" fill="url(#sp83)"/>
<rect x="361.9" y="265" width="9.8" height="8.4" fill="#f8b39b"/>
<rect x="361.9" y="295.1" width="9.8" height="14.3" fill="#2a78ba"/>
<rect x="361.9" y="309.4" width="9.8" height="4.9" fill="#a6bbe3"/>
<line x1="361.9" y1="291.4" x2="371.7" y2="291.4" stroke="#6a1a14" stroke-width="0.75"/>
<line x1="361.9" y1="280.6" x2="371.7" y2="280.6" stroke="#6a1a14" stroke-width="0.75"/>
<line x1="361.9" y1="273.4" x2="371.7" y2="273.4" stroke="#9a5a4a" stroke-width="0.75"/>
<line x1="361.9" y1="309.4" x2="371.7" y2="309.4" stroke="#1d3f66" stroke-width="0.75"/>
<rect x="361.9" y="265" width="9.8" height="30.1" fill="none" stroke="#666" stroke-width="0.9"/>
<rect x="361.9" y="295.1" width="9.8" height="19.2" fill="none" stroke="#666" stroke-width="0.9"/>
<rect x="374.39" y="292" width="9.8" height="3.1" fill="url(#pC)"/>
<rect x="374.39" y="279" width="9.8" height="13" fill="#eb4236"/>
<rect x="374.39" y="272" width="9.8" height="7" fill="url(#sp84)"/>
<rect x="374.39" y="265" width="9.8" height="7" fill="#f8b39b"/>
<rect x="374.39" y="295.1" width="9.8" height="12.9" fill="#2a78ba"/>
<rect x="374.39" y="308" width="9.8" height="6.3" fill="#a6bbe3"/>
<line x1="374.39" y1="292" x2="384.19" y2="292" stroke="#6a1a14" stroke-width="0.75"/>
<line x1="374.39" y1="279" x2="384.19" y2="279" stroke="#6a1a14" stroke-width="0.75"/>
<line x1="374.39" y1="272" x2="384.19" y2="272" stroke="#9a5a4a" stroke-width="0.75"/>
<line x1="374.39" y1="308" x2="384.19" y2="308" stroke="#1d3f66" stroke-width="0.75"/>
<rect x="374.39" y="265" width="9.8" height="30.1" fill="none" stroke="#666" stroke-width="0.9"/>
<rect x="374.39" y="295.1" width="9.8" height="19.2" fill="none" stroke="#666" stroke-width="0.9"/>
<polyline points="242,250.4 254,262 266.3,278 278.6,289.6 292,256 304.2,257.4 317.4,247.4 329.2,250 343,263 354.8,287.4 367.4,253 380.2,278.6" fill="none" stroke="#111" stroke-width="1.3" stroke-linejoin="miter" stroke-miterlimit="10"/>
<text x="236.30" y="341.20" font-size="9.7" textLength="53.60" lengthAdjust="spacingAndGlyphs" class="t">West (n = 28)</text>
<text x="227.1" y="244.7" font-size="9.2" text-anchor="end" textLength="14.25" lengthAdjust="spacingAndGlyphs" class="t">100</text>
<text x="227.1" y="270.9" font-size="9.2" text-anchor="end" textLength="9.50" lengthAdjust="spacingAndGlyphs" class="t">50</text>
<text x="227.1" y="297.6" font-size="9.2" text-anchor="end" textLength="4.75" lengthAdjust="spacingAndGlyphs" class="t">0</text>
<text x="227.1" y="321.5" font-size="9.2" text-anchor="end" textLength="9.50" lengthAdjust="spacingAndGlyphs" class="t">50</text>
<text x="227.1" y="346.8" font-size="9.2" text-anchor="end" textLength="14.25" lengthAdjust="spacingAndGlyphs" class="t">100</text>
<text x="241.7" y="353.9" font-size="8.4" text-anchor="middle" class="m">J</text>
<text x="253.8" y="353.9" font-size="8.4" text-anchor="middle" class="m">F</text>
<text x="266.6" y="353.9" font-size="8.4" text-anchor="middle" class="m">M</text>
<text x="279.8" y="353.9" font-size="8.4" text-anchor="middle" class="m">A</text>
<text x="292.8" y="353.9" font-size="8.4" text-anchor="middle" class="m">M</text>
<text x="304.9" y="353.9" font-size="8.4" text-anchor="middle" class="m">J</text>
<text x="314.8" y="353.9" font-size="8.4" text-anchor="middle" class="m">J</text>
<text x="328.6" y="353.9" font-size="8.4" text-anchor="middle" class="m">A</text>
<text x="341.1" y="353.9" font-size="8.4" text-anchor="middle" class="m">S</text>
<text x="353.5" y="353.9" font-size="8.4" text-anchor="middle" class="m">O</text>
<text x="366.1" y="353.9" font-size="8.4" text-anchor="middle" class="m">N</text>
<text x="379.2" y="353.9" font-size="8.4" text-anchor="middle" class="m">D</text>
<line x1="411.8" y1="244" x2="411.8" y2="343.9" stroke="#8a8a8a" stroke-width="1.05"/>
<line x1="572.4" y1="244" x2="572.4" y2="343.9" stroke="#6a6a6a" stroke-width="1.05"/>
<line x1="411.3" y1="244" x2="572.9" y2="244" stroke="#7a7a7a" stroke-width="1.05"/>
<line x1="411.3" y1="343.9" x2="572.9" y2="343.9" stroke="#8a8a8a" stroke-width="1.05"/>
<line x1="411.8" y1="294.3" x2="572.4" y2="294.3" stroke="#7d7d7d" stroke-width="1"/>
<line x1="410.3" y1="269.15" x2="412.8" y2="269.15" stroke="#7d7d7d" stroke-width="0.8"/>
<line x1="570.4" y1="269.15" x2="572.4" y2="269.15" stroke="#7d7d7d" stroke-width="0.8"/>
<line x1="410.3" y1="319.1" x2="412.8" y2="319.1" stroke="#7d7d7d" stroke-width="0.8"/>
<line x1="570.4" y1="319.1" x2="572.4" y2="319.1" stroke="#7d7d7d" stroke-width="0.8"/>
<rect x="418.8" y="273.5" width="9.8" height="20.8" fill="url(#pC)"/>
<rect x="418.8" y="264.7" width="9.8" height="8.8" fill="#eb4236"/>
<rect x="418.8" y="260.7" width="9.8" height="4" fill="url(#sp85)"/>
<rect x="418.8" y="248.2" width="9.8" height="12.5" fill="#f8b39b"/>
<rect x="418.8" y="294.3" width="9.8" height="3.9" fill="url(#nC)"/>
<line x1="418.8" y1="273.5" x2="428.6" y2="273.5" stroke="#6a1a14" stroke-width="0.75"/>
<line x1="418.8" y1="264.7" x2="428.6" y2="264.7" stroke="#6a1a14" stroke-width="0.75"/>
<line x1="418.8" y1="260.7" x2="428.6" y2="260.7" stroke="#9a5a4a" stroke-width="0.75"/>
<rect x="418.8" y="248.2" width="9.8" height="46.1" fill="none" stroke="#666" stroke-width="0.9"/>
<rect x="418.8" y="294.3" width="9.8" height="3.9" fill="none" stroke="#666" stroke-width="0.9"/>
<rect x="431.25" y="273.5" width="9.8" height="20.8" fill="url(#pC)"/>
<rect x="431.25" y="264.7" width="9.8" height="8.8" fill="#eb4236"/>
<rect x="431.25" y="260.7" width="9.8" height="4" fill="url(#sp86)"/>
<rect x="431.25" y="248.2" width="9.8" height="12.5" fill="#f8b39b"/>
<rect x="431.25" y="294.3" width="9.8" height="3.9" fill="url(#nC)"/>
<line x1="431.25" y1="273.5" x2="441.05" y2="273.5" stroke="#6a1a14" stroke-width="0.75"/>
<line x1="431.25" y1="264.7" x2="441.05" y2="264.7" stroke="#6a1a14" stroke-width="0.75"/>
<line x1="431.25" y1="260.7" x2="441.05" y2="260.7" stroke="#9a5a4a" stroke-width="0.75"/>
<rect x="431.25" y="248.2" width="9.8" height="46.1" fill="none" stroke="#666" stroke-width="0.9"/>
<rect x="431.25" y="294.3" width="9.8" height="3.9" fill="none" stroke="#666" stroke-width="0.9"/>
<rect x="443.7" y="277.2" width="9.8" height="17.1" fill="url(#pC)"/>
<rect x="443.7" y="273.5" width="9.8" height="3.7" fill="#eb4236"/>
<rect x="443.7" y="268.9" width="9.8" height="4.6" fill="url(#sp87)"/>
<rect x="443.7" y="256.1" width="9.8" height="12.8" fill="#f8b39b"/>
<rect x="443.7" y="294.3" width="9.8" height="8.2" fill="url(#nC)"/>
<rect x="443.7" y="302.5" width="9.8" height="3.5" fill="#2a78ba"/>
<line x1="443.7" y1="277.2" x2="453.5" y2="277.2" stroke="#6a1a14" stroke-width="0.75"/>
<line x1="443.7" y1="273.5" x2="453.5" y2="273.5" stroke="#6a1a14" stroke-width="0.75"/>
<line x1="443.7" y1="268.9" x2="453.5" y2="268.9" stroke="#9a5a4a" stroke-width="0.75"/>
<line x1="443.7" y1="302.5" x2="453.5" y2="302.5" stroke="#1d3f66" stroke-width="0.75"/>
<rect x="443.7" y="256.1" width="9.8" height="38.2" fill="none" stroke="#666" stroke-width="0.9"/>
<rect x="443.7" y="294.3" width="9.8" height="11.7" fill="none" stroke="#666" stroke-width="0.9"/>
<rect x="456.15" y="281.2" width="9.8" height="13.1" fill="url(#pC)"/>
<rect x="456.15" y="277.6" width="9.8" height="3.6" fill="#eb4236"/>
<rect x="456.15" y="273.2" width="9.8" height="4.4" fill="#ffffff"/>
<rect x="456.15" y="264.7" width="9.8" height="8.5" fill="#f8b39b"/>
<rect x="456.15" y="294.3" width="9.8" height="12.5" fill="url(#nC)"/>
<rect x="456.15" y="306.8" width="9.8" height="4.5" fill="#2a78ba"/>
<rect x="456.15" y="311.3" width="9.8" height="3.9" fill="#a6bbe3"/>
<line x1="456.15" y1="281.2" x2="465.95" y2="281.2" stroke="#6a1a14" stroke-width="0.75"/>
<line x1="456.15" y1="277.6" x2="465.95" y2="277.6" stroke="#6a1a14" stroke-width="0.75"/>
<line x1="456.15" y1="273.2" x2="465.95" y2="273.2" stroke="#9a5a4a" stroke-width="0.75"/>
<line x1="456.15" y1="306.8" x2="465.95" y2="306.8" stroke="#1d3f66" stroke-width="0.75"/>
<line x1="456.15" y1="311.3" x2="465.95" y2="311.3" stroke="#1d3f66" stroke-width="0.75"/>
<rect x="456.15" y="264.7" width="9.8" height="29.6" fill="none" stroke="#666" stroke-width="0.9"/>
<rect x="456.15" y="294.3" width="9.8" height="20.9" fill="none" stroke="#666" stroke-width="0.9"/>
<rect x="468.6" y="281.8" width="9.8" height="12.5" fill="url(#pC)"/>
<rect x="468.6" y="277.2" width="9.8" height="4.6" fill="#ffffff"/>
<rect x="468.6" y="294.3" width="9.8" height="12.5" fill="url(#nC)"/>
<rect x="468.6" y="306.8" width="9.8" height="8.4" fill="#2a78ba"/>
<rect x="468.6" y="315.2" width="9.8" height="12.3" fill="#a6bbe3"/>
<line x1="468.6" y1="281.8" x2="478.4" y2="281.8" stroke="#606060" stroke-width="0.75"/>
<line x1="468.6" y1="306.8" x2="478.4" y2="306.8" stroke="#1d3f66" stroke-width="0.75"/>
<line x1="468.6" y1="315.2" x2="478.4" y2="315.2" stroke="#1d3f66" stroke-width="0.75"/>
<rect x="468.6" y="277.2" width="9.8" height="17.1" fill="none" stroke="#666" stroke-width="0.9"/>
<rect x="468.6" y="294.3" width="9.8" height="33.2" fill="none" stroke="#666" stroke-width="0.9"/>
<rect x="481.05" y="286.4" width="9.8" height="7.9" fill="url(#pC)"/>
<rect x="481.05" y="281.8" width="9.8" height="4.6" fill="#ffffff"/>
<rect x="481.05" y="294.3" width="9.8" height="17" fill="url(#nC)"/>
<rect x="481.05" y="311.3" width="9.8" height="8.4" fill="#2a78ba"/>
<rect x="481.05" y="319.7" width="9.8" height="12.4" fill="#a6bbe3"/>
<line x1="481.05" y1="286.4" x2="490.85" y2="286.4" stroke="#606060" stroke-width="0.75"/>
<line x1="481.05" y1="311.3" x2="490.85" y2="311.3" stroke="#1d3f66" stroke-width="0.75"/>
<line x1="481.05" y1="319.7" x2="490.85" y2="319.7" stroke="#1d3f66" stroke-width="0.75"/>
<rect x="481.05" y="281.8" width="9.8" height="12.5" fill="none" stroke="#666" stroke-width="0.9"/>
<rect x="481.05" y="294.3" width="9.8" height="37.8" fill="none" stroke="#666" stroke-width="0.9"/>
<rect x="493.5" y="281.2" width="9.8" height="13.1" fill="url(#pC)"/>
<rect x="493.5" y="277.6" width="9.8" height="3.6" fill="#eb4236"/>
<rect x="493.5" y="273.5" width="9.8" height="4.1" fill="url(#sp88)"/>
<rect x="493.5" y="294.3" width="9.8" height="13.1" fill="url(#nC)"/>
<rect x="493.5" y="307.4" width="9.8" height="3.9" fill="#2a78ba"/>
<rect x="493.5" y="311.3" width="9.8" height="12.3" fill="#a6bbe3"/>
<line x1="493.5" y1="281.2" x2="503.3" y2="281.2" stroke="#6a1a14" stroke-width="0.75"/>
<line x1="493.5" y1="277.6" x2="503.3" y2="277.6" stroke="#6a1a14" stroke-width="0.75"/>
<line x1="493.5" y1="307.4" x2="503.3" y2="307.4" stroke="#1d3f66" stroke-width="0.75"/>
<line x1="493.5" y1="311.3" x2="503.3" y2="311.3" stroke="#1d3f66" stroke-width="0.75"/>
<rect x="493.5" y="273.5" width="9.8" height="20.8" fill="none" stroke="#666" stroke-width="0.9"/>
<rect x="493.5" y="294.3" width="9.8" height="29.3" fill="none" stroke="#666" stroke-width="0.9"/>
<rect x="505.95" y="281.2" width="9.8" height="13.1" fill="url(#pC)"/>
<rect x="505.95" y="277.6" width="9.8" height="3.6" fill="#eb4236"/>
<rect x="505.95" y="273.5" width="9.8" height="4.1" fill="url(#sp89)"/>
<rect x="505.95" y="294.3" width="9.8" height="13.1" fill="url(#nC)"/>
<rect x="505.95" y="307.4" width="9.8" height="3.9" fill="#2a78ba"/>
<rect x="505.95" y="311.3" width="9.8" height="12.3" fill="#a6bbe3"/>
<line x1="505.95" y1="281.2" x2="515.75" y2="281.2" stroke="#6a1a14" stroke-width="0.75"/>
<line x1="505.95" y1="277.6" x2="515.75" y2="277.6" stroke="#6a1a14" stroke-width="0.75"/>
<line x1="505.95" y1="307.4" x2="515.75" y2="307.4" stroke="#1d3f66" stroke-width="0.75"/>
<line x1="505.95" y1="311.3" x2="515.75" y2="311.3" stroke="#1d3f66" stroke-width="0.75"/>
<rect x="505.95" y="273.5" width="9.8" height="20.8" fill="none" stroke="#666" stroke-width="0.9"/>
<rect x="505.95" y="294.3" width="9.8" height="29.3" fill="none" stroke="#666" stroke-width="0.9"/>
<rect x="518.4" y="273.5" width="9.8" height="20.8" fill="url(#pC)"/>
<rect x="518.4" y="269.5" width="9.8" height="4" fill="#eb4236"/>
<rect x="518.4" y="264.7" width="9.8" height="4.8" fill="#ffffff"/>
<rect x="518.4" y="260.7" width="9.8" height="4" fill="#f8b39b"/>
<rect x="518.4" y="294.3" width="9.8" height="3.9" fill="url(#nC)"/>
<rect x="518.4" y="298.2" width="9.8" height="4.3" fill="#2a78ba"/>
<rect x="518.4" y="302.5" width="9.8" height="8.8" fill="#a6bbe3"/>
<line x1="518.4" y1="273.5" x2="528.2" y2="273.5" stroke="#6a1a14" stroke-width="0.75"/>
<line x1="518.4" y1="269.5" x2="528.2" y2="269.5" stroke="#6a1a14" stroke-width="0.75"/>
<line x1="518.4" y1="264.7" x2="528.2" y2="264.7" stroke="#9a5a4a" stroke-width="0.75"/>
<line x1="518.4" y1="298.2" x2="528.2" y2="298.2" stroke="#1d3f66" stroke-width="0.75"/>
<line x1="518.4" y1="302.5" x2="528.2" y2="302.5" stroke="#1d3f66" stroke-width="0.75"/>
<rect x="518.4" y="260.7" width="9.8" height="33.6" fill="none" stroke="#666" stroke-width="0.9"/>
<rect x="518.4" y="294.3" width="9.8" height="17" fill="none" stroke="#666" stroke-width="0.9"/>
<rect x="530.85" y="273.2" width="9.8" height="21.1" fill="url(#pC)"/>
<rect x="530.85" y="265.3" width="9.8" height="7.9" fill="#eb4236"/>
<rect x="530.85" y="261" width="9.8" height="4.3" fill="url(#sp90)"/>
<rect x="530.85" y="248.2" width="9.8" height="12.8" fill="#f8b39b"/>
<rect x="530.85" y="294.3" width="9.8" height="3.9" fill="url(#nC)"/>
<line x1="530.85" y1="273.2" x2="540.65" y2="273.2" stroke="#6a1a14" stroke-width="0.75"/>
<line x1="530.85" y1="265.3" x2="540.65" y2="265.3" stroke="#6a1a14" stroke-width="0.75"/>
<line x1="530.85" y1="261" x2="540.65" y2="261" stroke="#9a5a4a" stroke-width="0.75"/>
<rect x="530.85" y="248.2" width="9.8" height="46.1" fill="none" stroke="#666" stroke-width="0.9"/>
<rect x="530.85" y="294.3" width="9.8" height="3.9" fill="none" stroke="#666" stroke-width="0.9"/>
<rect x="543.3" y="277.6" width="9.8" height="16.7" fill="url(#pC)"/>
<rect x="543.3" y="269.5" width="9.8" height="8.1" fill="#eb4236"/>
<rect x="543.3" y="265.3" width="9.8" height="4.2" fill="#ffffff"/>
<rect x="543.3" y="252.4" width="9.8" height="12.9" fill="#f8b39b"/>
<rect x="543.3" y="294.3" width="9.8" height="8.2" fill="url(#nC)"/>
<line x1="543.3" y1="277.6" x2="553.1" y2="277.6" stroke="#6a1a14" stroke-width="0.75"/>
<line x1="543.3" y1="269.5" x2="553.1" y2="269.5" stroke="#6a1a14" stroke-width="0.75"/>
<line x1="543.3" y1="265.3" x2="553.1" y2="265.3" stroke="#9a5a4a" stroke-width="0.75"/>
<rect x="543.3" y="252.4" width="9.8" height="41.9" fill="none" stroke="#666" stroke-width="0.9"/>
<rect x="543.3" y="294.3" width="9.8" height="8.2" fill="none" stroke="#666" stroke-width="0.9"/>
<rect x="555.75" y="277.6" width="9.8" height="16.7" fill="url(#pC)"/>
<rect x="555.75" y="269.5" width="9.8" height="8.1" fill="#eb4236"/>
<rect x="555.75" y="265.3" width="9.8" height="4.2" fill="#ffffff"/>
<rect x="555.75" y="252.4" width="9.8" height="12.9" fill="#f8b39b"/>
<rect x="555.75" y="294.3" width="9.8" height="8.2" fill="url(#nC)"/>
<line x1="555.75" y1="277.6" x2="565.55" y2="277.6" stroke="#6a1a14" stroke-width="0.75"/>
<line x1="555.75" y1="269.5" x2="565.55" y2="269.5" stroke="#6a1a14" stroke-width="0.75"/>
<line x1="555.75" y1="265.3" x2="565.55" y2="265.3" stroke="#9a5a4a" stroke-width="0.75"/>
<rect x="555.75" y="252.4" width="9.8" height="41.9" fill="none" stroke="#666" stroke-width="0.9"/>
<rect x="555.75" y="294.3" width="9.8" height="8.2" fill="none" stroke="#666" stroke-width="0.9"/>
<polyline points="423.5,251.9 437,261 448.5,281.2 461.1,252.4 474,268.9 486.9,260.3 497.9,260.3 511.3,264.4 524.5,251.9 537,251.9 549.3,285.5 562.5,251.9" fill="none" stroke="#111" stroke-width="1.3" stroke-linejoin="miter" stroke-miterlimit="10"/>
<text x="418.70" y="341.20" font-size="9.7" textLength="49.60" lengthAdjust="spacingAndGlyphs" class="t">East (n = 12)</text>
<text x="408.8" y="246" font-size="9.2" text-anchor="end" textLength="14.25" lengthAdjust="spacingAndGlyphs" class="t">100</text>
<text x="408.8" y="272.1" font-size="9.2" text-anchor="end" textLength="9.50" lengthAdjust="spacingAndGlyphs" class="t">50</text>
<text x="408.8" y="298.2" font-size="9.2" text-anchor="end" textLength="4.75" lengthAdjust="spacingAndGlyphs" class="t">0</text>
<text x="408.8" y="323.1" font-size="9.2" text-anchor="end" textLength="9.50" lengthAdjust="spacingAndGlyphs" class="t">50</text>
<text x="408.8" y="347.5" font-size="9.2" text-anchor="end" textLength="14.25" lengthAdjust="spacingAndGlyphs" class="t">100</text>
<text x="425.1" y="353.9" font-size="8.4" text-anchor="middle" class="m">J</text>
<text x="437.2" y="353.9" font-size="8.4" text-anchor="middle" class="m">F</text>
<text x="450" y="353.9" font-size="8.4" text-anchor="middle" class="m">M</text>
<text x="463.2" y="353.9" font-size="8.4" text-anchor="middle" class="m">A</text>
<text x="476.2" y="353.9" font-size="8.4" text-anchor="middle" class="m">M</text>
<text x="488.3" y="353.9" font-size="8.4" text-anchor="middle" class="m">J</text>
<text x="498.2" y="353.9" font-size="8.4" text-anchor="middle" class="m">J</text>
<text x="512" y="353.9" font-size="8.4" text-anchor="middle" class="m">A</text>
<text x="524.5" y="353.9" font-size="8.4" text-anchor="middle" class="m">S</text>
<text x="536.9" y="353.9" font-size="8.4" text-anchor="middle" class="m">O</text>
<text x="549.5" y="353.9" font-size="8.4" text-anchor="middle" class="m">N</text>
<text x="562.6" y="353.9" font-size="8.4" text-anchor="middle" class="m">D</text>
<text x="104.90" y="248.70" font-size="9.6" textLength="32.20" lengthAdjust="spacingAndGlyphs" class="t">Sen: &gt; 0</text>
<text x="146.00" y="248.70" font-size="9.6" textLength="13.00" lengthAdjust="spacingAndGlyphs" class="t">&lt; 0</text>
<text x="78.80" y="261.70" font-size="9.6" textLength="40.80" lengthAdjust="spacingAndGlyphs" class="t">Regulated</text>
<text x="58.40" y="276.40" font-size="9.6" textLength="63.30" lengthAdjust="spacingAndGlyphs" class="t">Prox. Regulated</text>
<text x="74.20" y="293.60" font-size="9.6" textLength="47.20" lengthAdjust="spacingAndGlyphs" class="t">Compound</text>
<text x="81.20" y="307.00" font-size="9.6" textLength="40.50" lengthAdjust="spacingAndGlyphs" class="t">Reference</text>
<text x="97.60" y="322.60" font-size="9.6" textLength="24.10" lengthAdjust="spacingAndGlyphs" class="t">Other</text>
<rect x="125.6" y="253.6" width="12.0" height="12.5" fill="#f8b39b" stroke="#666" stroke-width="0.8"/>
<rect x="148.4" y="253.6" width="12.0" height="12.5" fill="#a6bbe3" stroke="#666" stroke-width="0.8"/>
<rect x="125.6" y="268.3" width="12.0" height="12.5" fill="#eb4236" stroke="#666" stroke-width="0.8"/>
<rect x="148.4" y="268.3" width="12.0" height="12.5" fill="#2a78ba" stroke="#666" stroke-width="0.8"/>
<rect x="125.6" y="284.2" width="12.0" height="12.5" fill="url(#lC)" stroke="#777" stroke-width="0.8"/>
<rect x="148.4" y="284.2" width="12.0" height="12.5" fill="url(#lN)" stroke="#555" stroke-width="0.8"/>
<svg x="125.6" y="299.2" width="12.0" height="12.5" viewBox="0 0 12 12.5" preserveAspectRatio="none" overflow="hidden"><rect width="12" height="12.5" fill="#fff"/><path d="M-1,13.5 L13,-1" stroke="#eca690" stroke-width="2.6"/></svg>
<rect x="125.6" y="299.2" width="12.0" height="12.5" fill="none" stroke="#777" stroke-width="0.8"/>
<svg x="148.4" y="299.2" width="12.0" height="12.5" viewBox="0 0 12 12.5" preserveAspectRatio="none" overflow="hidden"><rect width="12" height="12.5" fill="#fff"/><path d="M0,0 L4.5,0 L0,4 Z M5.5,12.5 L8.8,12.5 L12,9.2 L12,5.8 Z" fill="#2f7cc0"/></svg>
<rect x="148.4" y="299.2" width="12.0" height="12.5" fill="none" stroke="#555" stroke-width="0.8"/>
<svg x="125.6" y="314.4" width="12.0" height="12.5" viewBox="0 0 12 12.5" preserveAspectRatio="none" overflow="hidden"><rect width="12" height="12.5" fill="#fff"/><path d="M0,0 L12,12.5 M12,0 L0,12.5" stroke="#eca690" stroke-width="2.4"/></svg>
<rect x="125.6" y="314.4" width="12.0" height="12.5" fill="none" stroke="#777" stroke-width="0.8"/>
<svg x="148.4" y="314.4" width="12.0" height="12.5" viewBox="0 0 12 12.5" preserveAspectRatio="none" overflow="hidden"><rect width="12" height="12.5" fill="#2f7cc0"/><g fill="#fff"><circle cx="3" cy="2.6" r="0.95"/><circle cx="8.8" cy="2.4" r="0.95"/><circle cx="6" cy="6.2" r="0.95"/><circle cx="3.3" cy="9.6" r="0.95"/><circle cx="9" cy="9.8" r="0.95"/></g></svg>
<rect x="148.4" y="314.4" width="12.0" height="12.5" fill="none" stroke="#555" stroke-width="0.8"/>
<text x="28.80" y="337.20" font-size="9.6" textLength="91.50" lengthAdjust="spacingAndGlyphs" class="t">Air Temperature Trend</text>
<text x="38.00" y="346.80" font-size="9.6" textLength="75.70" lengthAdjust="spacingAndGlyphs" class="t">(% sites, Trend &gt; 0)</text>
<line x1="133.4" y1="336.6" x2="151.8" y2="336.6" stroke="#111" stroke-width="1.4"/>
<line x1="13.8" y1="0.9" x2="13.8" y2="11.9" stroke="#8a8a8a" stroke-width="1.5"/>
<line x1="13.8" y1="11.9" x2="13.8" y2="23.7" stroke="#bbbbbb" stroke-width="1.5"/>
<line x1="13.8" y1="23.7" x2="13.8" y2="225.2" stroke="#444" stroke-width="1.1"/>
<text transform="translate(8.00,113.00) rotate(-90)" x="0" y="0" font-size="9.1" text-anchor="middle" textLength="60.60" lengthAdjust="spacingAndGlyphs" class="t">20-Year Period</text>
<text transform="translate(24.30,53.50) rotate(-90)" x="0" y="0" font-size="9.1" text-anchor="middle" textLength="91.80" lengthAdjust="spacingAndGlyphs" class="t">Proportion of Sites (%)</text>
<text transform="translate(24.00,173.65) rotate(-90)" x="0" y="0" font-size="9.1" text-anchor="middle" textLength="91.30" lengthAdjust="spacingAndGlyphs" class="t">Proportion of Sites (%)</text>
<line x1="194.8" y1="243.8" x2="194.8" y2="310.3" stroke="#999" stroke-width="1.4"/>
<line x1="194.8" y1="310.3" x2="194.8" y2="325.6" stroke="#c8c8c8" stroke-width="1.4"/>
<line x1="194.8" y1="325.6" x2="194.8" y2="346.2" stroke="#555" stroke-width="1.1"/>
<text transform="translate(192.90,293.90) rotate(-90)" x="0" y="0" font-size="9.1" text-anchor="middle" textLength="59.00" lengthAdjust="spacingAndGlyphs" class="t">40-Year Period</text>
<text transform="translate(207.10,295.40) rotate(-90)" x="0" y="0" font-size="9.1" text-anchor="middle" textLength="91.80" lengthAdjust="spacingAndGlyphs" class="t">Proportion of Sites (%)</text>
</svg>
</body></html>
